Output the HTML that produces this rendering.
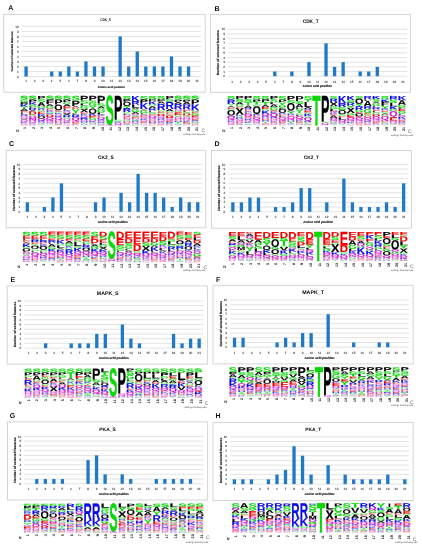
<!DOCTYPE html>
<html><head><meta charset="utf-8"><title>Kinase phosphosite figure</title>
<style>
html,body{margin:0;padding:0;background:#fff;}
body{width:422px;height:550px;overflow:hidden;}
svg{display:block;text-rendering:geometricPrecision;font-family:"Liberation Sans",Arial,sans-serif;}
.pl{font-weight:bold;fill:#111;}
.gl{stroke:#d9d9d9;stroke-width:.75;}
.bar{fill:#1f78c8;}
.tk{font-size:3.1px;fill:#222;stroke:#222;stroke-width:.05px;}
.ax{font-weight:bold;fill:#111;stroke:#111;stroke-width:.12px;}
.tt{font-weight:bold;fill:#000;}
.g,.b,.r,.m,.k{font-size:10px;font-weight:bold;stroke-width:.15px;vector-effect:non-scaling-stroke;}
.g{fill:#0ad80a;stroke:#0ad80a;}.b{fill:#0a0ae6;stroke:#0a0ae6;}.r{fill:#f20000;stroke:#f20000;}.m{fill:#d010d0;stroke:#d010d0;}.k{fill:#000;stroke:#000;}
.t{opacity:.45;stroke:none;}.s{opacity:.75;stroke:none;}
.pn{font-size:3.7px;fill:#1a1a1a;font-weight:bold;}
.nc{font-size:3.8px;font-weight:bold;fill:#111;}
.cc{font-size:5px;fill:#666;}
.wl{font-size:2.3px;fill:#444;}
</style></head>
<body><svg xmlns="http://www.w3.org/2000/svg" width="422" height="550" viewBox="0 0 422 550">
<rect width="422" height="550" fill="#fff"/>
<rect x="3.8" y="14.4" width="201.4" height="77.8" fill="#fff" stroke="#d0d0d0" stroke-width="0.9"/>
<text x="8.2" y="9.7" class="pl" style="font-size:7.0px">A</text>
<line x1="21.8" x2="201.4" y1="76.5" y2="76.5" class="gl"/>
<line x1="21.8" x2="201.4" y1="71.49" y2="71.49" class="gl"/>
<line x1="21.8" x2="201.4" y1="66.48" y2="66.48" class="gl"/>
<line x1="21.8" x2="201.4" y1="61.47" y2="61.47" class="gl"/>
<line x1="21.8" x2="201.4" y1="56.46" y2="56.46" class="gl"/>
<line x1="21.8" x2="201.4" y1="51.45" y2="51.45" class="gl"/>
<line x1="21.8" x2="201.4" y1="46.44" y2="46.44" class="gl"/>
<line x1="21.8" x2="201.4" y1="41.43" y2="41.43" class="gl"/>
<line x1="21.8" x2="201.4" y1="36.42" y2="36.42" class="gl"/>
<line x1="21.8" x2="201.4" y1="31.41" y2="31.41" class="gl"/>
<line x1="21.8" x2="201.4" y1="26.4" y2="26.4" class="gl"/>
<text x="18.8" y="77.62" class="tk" text-anchor="end">0</text>
<text x="18.8" y="72.61" class="tk" text-anchor="end">1</text>
<text x="18.8" y="67.6" class="tk" text-anchor="end">2</text>
<text x="18.8" y="62.59" class="tk" text-anchor="end">3</text>
<text x="18.8" y="57.58" class="tk" text-anchor="end">4</text>
<text x="18.8" y="52.57" class="tk" text-anchor="end">5</text>
<text x="18.8" y="47.56" class="tk" text-anchor="end">6</text>
<text x="18.8" y="42.55" class="tk" text-anchor="end">7</text>
<text x="18.8" y="37.54" class="tk" text-anchor="end">8</text>
<text x="18.8" y="32.53" class="tk" text-anchor="end">9</text>
<text x="18.8" y="27.52" class="tk" text-anchor="end">10</text>
<rect x="24.43" y="66.48" width="3.3" height="10.02" class="bar"/>
<text x="26.08" y="81.92" class="tk" text-anchor="middle">1</text>
<text x="34.63" y="81.92" class="tk" text-anchor="middle">2</text>
<text x="43.18" y="81.92" class="tk" text-anchor="middle">3</text>
<rect x="50.08" y="71.49" width="3.3" height="5.01" class="bar"/>
<text x="51.73" y="81.92" class="tk" text-anchor="middle">4</text>
<rect x="58.64" y="71.49" width="3.3" height="5.01" class="bar"/>
<text x="60.29" y="81.92" class="tk" text-anchor="middle">5</text>
<rect x="67.19" y="66.48" width="3.3" height="10.02" class="bar"/>
<text x="68.84" y="81.92" class="tk" text-anchor="middle">6</text>
<rect x="75.74" y="71.49" width="3.3" height="5.01" class="bar"/>
<text x="77.39" y="81.92" class="tk" text-anchor="middle">7</text>
<rect x="84.29" y="61.47" width="3.3" height="15.03" class="bar"/>
<text x="85.94" y="81.92" class="tk" text-anchor="middle">8</text>
<rect x="92.85" y="66.48" width="3.3" height="10.02" class="bar"/>
<text x="94.5" y="81.92" class="tk" text-anchor="middle">9</text>
<rect x="101.4" y="66.48" width="3.3" height="10.02" class="bar"/>
<text x="103.05" y="81.92" class="tk" text-anchor="middle">10</text>
<text x="111.6" y="81.92" class="tk" text-anchor="middle">11</text>
<rect x="118.5" y="36.42" width="3.3" height="40.08" class="bar"/>
<text x="120.15" y="81.92" class="tk" text-anchor="middle">12</text>
<rect x="127.05" y="66.48" width="3.3" height="10.02" class="bar"/>
<text x="128.7" y="81.92" class="tk" text-anchor="middle">13</text>
<rect x="135.61" y="51.45" width="3.3" height="25.05" class="bar"/>
<text x="137.26" y="81.92" class="tk" text-anchor="middle">14</text>
<rect x="144.16" y="66.48" width="3.3" height="10.02" class="bar"/>
<text x="145.81" y="81.92" class="tk" text-anchor="middle">15</text>
<rect x="152.71" y="66.48" width="3.3" height="10.02" class="bar"/>
<text x="154.36" y="81.92" class="tk" text-anchor="middle">16</text>
<rect x="161.26" y="66.48" width="3.3" height="10.02" class="bar"/>
<text x="162.91" y="81.92" class="tk" text-anchor="middle">17</text>
<rect x="169.82" y="56.46" width="3.3" height="20.04" class="bar"/>
<text x="171.47" y="81.92" class="tk" text-anchor="middle">18</text>
<rect x="178.37" y="66.48" width="3.3" height="10.02" class="bar"/>
<text x="180.02" y="81.92" class="tk" text-anchor="middle">19</text>
<rect x="186.92" y="66.48" width="3.3" height="10.02" class="bar"/>
<text x="188.57" y="81.92" class="tk" text-anchor="middle">20</text>
<text x="197.12" y="81.92" class="tk" text-anchor="middle">21</text>
<text x="111.45" y="87.51" class="ax" text-anchor="middle" style="font-size:2.8px" textLength="27.2" lengthAdjust="spacingAndGlyphs">Amino acid position</text>
<text transform="translate(13.18,51.45) rotate(-90)" class="ax" text-anchor="middle" style="font-size:3.0px" textLength="40.0" lengthAdjust="spacingAndGlyphs">Number of selected features</text>
<text x="100.3" y="21" class="tt" style="font-size:3.7px" textLength="10.4" lengthAdjust="spacingAndGlyphs">CDK_S</text>
<rect x="210.4" y="14.4" width="200" height="77.9" fill="#fff" stroke="#d0d0d0" stroke-width="0.9"/>
<text x="214.5" y="10.6" class="pl" style="font-size:7.0px">B</text>
<line x1="227.8" x2="407.2" y1="76.2" y2="76.2" class="gl"/>
<line x1="227.8" x2="407.2" y1="71.51" y2="71.51" class="gl"/>
<line x1="227.8" x2="407.2" y1="66.82" y2="66.82" class="gl"/>
<line x1="227.8" x2="407.2" y1="62.13" y2="62.13" class="gl"/>
<line x1="227.8" x2="407.2" y1="57.44" y2="57.44" class="gl"/>
<line x1="227.8" x2="407.2" y1="52.75" y2="52.75" class="gl"/>
<line x1="227.8" x2="407.2" y1="48.06" y2="48.06" class="gl"/>
<line x1="227.8" x2="407.2" y1="43.37" y2="43.37" class="gl"/>
<line x1="227.8" x2="407.2" y1="38.68" y2="38.68" class="gl"/>
<line x1="227.8" x2="407.2" y1="33.99" y2="33.99" class="gl"/>
<line x1="227.8" x2="407.2" y1="29.3" y2="29.3" class="gl"/>
<text x="225" y="77.32" class="tk" text-anchor="end">0</text>
<text x="225" y="72.63" class="tk" text-anchor="end">1</text>
<text x="225" y="67.94" class="tk" text-anchor="end">2</text>
<text x="225" y="63.25" class="tk" text-anchor="end">3</text>
<text x="225" y="58.56" class="tk" text-anchor="end">4</text>
<text x="225" y="53.87" class="tk" text-anchor="end">5</text>
<text x="225" y="49.18" class="tk" text-anchor="end">6</text>
<text x="225" y="44.49" class="tk" text-anchor="end">7</text>
<text x="225" y="39.8" class="tk" text-anchor="end">8</text>
<text x="225" y="35.11" class="tk" text-anchor="end">9</text>
<text x="225" y="30.42" class="tk" text-anchor="end">10</text>
<text x="232.07" y="82.52" class="tk" text-anchor="middle">1</text>
<text x="240.61" y="82.52" class="tk" text-anchor="middle">2</text>
<text x="249.16" y="82.52" class="tk" text-anchor="middle">3</text>
<text x="257.7" y="82.52" class="tk" text-anchor="middle">4</text>
<text x="266.24" y="82.52" class="tk" text-anchor="middle">5</text>
<rect x="273.14" y="71.51" width="3.3" height="4.69" class="bar"/>
<text x="274.79" y="82.52" class="tk" text-anchor="middle">6</text>
<text x="283.33" y="82.52" class="tk" text-anchor="middle">7</text>
<rect x="290.22" y="71.51" width="3.3" height="4.69" class="bar"/>
<text x="291.87" y="82.52" class="tk" text-anchor="middle">8</text>
<text x="300.41" y="82.52" class="tk" text-anchor="middle">9</text>
<rect x="307.31" y="62.13" width="3.3" height="14.07" class="bar"/>
<text x="308.96" y="82.52" class="tk" text-anchor="middle">10</text>
<text x="317.5" y="82.52" class="tk" text-anchor="middle">11</text>
<rect x="324.39" y="43.37" width="3.3" height="32.83" class="bar"/>
<text x="326.04" y="82.52" class="tk" text-anchor="middle">12</text>
<rect x="332.94" y="66.82" width="3.3" height="9.38" class="bar"/>
<text x="334.59" y="82.52" class="tk" text-anchor="middle">13</text>
<rect x="341.48" y="62.13" width="3.3" height="14.07" class="bar"/>
<text x="343.13" y="82.52" class="tk" text-anchor="middle">14</text>
<text x="351.67" y="82.52" class="tk" text-anchor="middle">15</text>
<rect x="358.56" y="71.51" width="3.3" height="4.69" class="bar"/>
<text x="360.21" y="82.52" class="tk" text-anchor="middle">16</text>
<rect x="367.11" y="71.51" width="3.3" height="4.69" class="bar"/>
<text x="368.76" y="82.52" class="tk" text-anchor="middle">17</text>
<rect x="375.65" y="66.82" width="3.3" height="9.38" class="bar"/>
<text x="377.3" y="82.52" class="tk" text-anchor="middle">18</text>
<text x="385.84" y="82.52" class="tk" text-anchor="middle">19</text>
<text x="394.39" y="82.52" class="tk" text-anchor="middle">20</text>
<text x="402.93" y="82.52" class="tk" text-anchor="middle">21</text>
<text x="317.25" y="87.18" class="ax" text-anchor="middle" style="font-size:3.0px" textLength="29.4" lengthAdjust="spacingAndGlyphs">Amino acid position</text>
<text transform="translate(219.19,52.75) rotate(-90)" class="ax" text-anchor="middle" style="font-size:3.3px" textLength="45.0" lengthAdjust="spacingAndGlyphs">Number of selected features</text>
<text x="302.7" y="23.2" class="tt" style="font-size:5.0px" textLength="15.9" lengthAdjust="spacingAndGlyphs">CDK_T</text>
<rect x="6.2" y="150.3" width="199.6" height="77.5" fill="#fff" stroke="#d0d0d0" stroke-width="0.9"/>
<text x="9" y="146.4" class="pl" style="font-size:7.0px">C</text>
<line x1="23.1" x2="202" y1="211.7" y2="211.7" class="gl"/>
<line x1="23.1" x2="202" y1="206.98" y2="206.98" class="gl"/>
<line x1="23.1" x2="202" y1="202.26" y2="202.26" class="gl"/>
<line x1="23.1" x2="202" y1="197.54" y2="197.54" class="gl"/>
<line x1="23.1" x2="202" y1="192.82" y2="192.82" class="gl"/>
<line x1="23.1" x2="202" y1="188.1" y2="188.1" class="gl"/>
<line x1="23.1" x2="202" y1="183.38" y2="183.38" class="gl"/>
<line x1="23.1" x2="202" y1="178.66" y2="178.66" class="gl"/>
<line x1="23.1" x2="202" y1="173.94" y2="173.94" class="gl"/>
<line x1="23.1" x2="202" y1="169.22" y2="169.22" class="gl"/>
<line x1="23.1" x2="202" y1="164.5" y2="164.5" class="gl"/>
<text x="20.3" y="212.82" class="tk" text-anchor="end">0</text>
<text x="20.3" y="208.1" class="tk" text-anchor="end">1</text>
<text x="20.3" y="203.38" class="tk" text-anchor="end">2</text>
<text x="20.3" y="198.66" class="tk" text-anchor="end">3</text>
<text x="20.3" y="193.94" class="tk" text-anchor="end">4</text>
<text x="20.3" y="189.22" class="tk" text-anchor="end">5</text>
<text x="20.3" y="184.5" class="tk" text-anchor="end">6</text>
<text x="20.3" y="179.78" class="tk" text-anchor="end">7</text>
<text x="20.3" y="175.06" class="tk" text-anchor="end">8</text>
<text x="20.3" y="170.34" class="tk" text-anchor="end">9</text>
<text x="20.3" y="165.62" class="tk" text-anchor="end">10</text>
<rect x="25.71" y="202.26" width="3.3" height="9.44" class="bar"/>
<text x="27.36" y="217.92" class="tk" text-anchor="middle">1</text>
<text x="35.88" y="217.92" class="tk" text-anchor="middle">2</text>
<rect x="42.75" y="206.98" width="3.3" height="4.72" class="bar"/>
<text x="44.4" y="217.92" class="tk" text-anchor="middle">3</text>
<rect x="51.27" y="197.54" width="3.3" height="14.16" class="bar"/>
<text x="52.92" y="217.92" class="tk" text-anchor="middle">4</text>
<rect x="59.79" y="183.38" width="3.3" height="28.32" class="bar"/>
<text x="61.44" y="217.92" class="tk" text-anchor="middle">5</text>
<text x="69.95" y="217.92" class="tk" text-anchor="middle">6</text>
<text x="78.47" y="217.92" class="tk" text-anchor="middle">7</text>
<text x="86.99" y="217.92" class="tk" text-anchor="middle">8</text>
<rect x="93.86" y="202.26" width="3.3" height="9.44" class="bar"/>
<text x="95.51" y="217.92" class="tk" text-anchor="middle">9</text>
<rect x="102.38" y="197.54" width="3.3" height="14.16" class="bar"/>
<text x="104.03" y="217.92" class="tk" text-anchor="middle">10</text>
<text x="112.55" y="217.92" class="tk" text-anchor="middle">11</text>
<rect x="119.42" y="192.82" width="3.3" height="18.88" class="bar"/>
<text x="121.07" y="217.92" class="tk" text-anchor="middle">12</text>
<rect x="127.94" y="202.26" width="3.3" height="9.44" class="bar"/>
<text x="129.59" y="217.92" class="tk" text-anchor="middle">13</text>
<rect x="136.46" y="173.94" width="3.3" height="37.76" class="bar"/>
<text x="138.11" y="217.92" class="tk" text-anchor="middle">14</text>
<rect x="144.98" y="192.82" width="3.3" height="18.88" class="bar"/>
<text x="146.63" y="217.92" class="tk" text-anchor="middle">15</text>
<rect x="153.5" y="192.82" width="3.3" height="18.88" class="bar"/>
<text x="155.15" y="217.92" class="tk" text-anchor="middle">16</text>
<rect x="162.01" y="197.54" width="3.3" height="14.16" class="bar"/>
<text x="163.66" y="217.92" class="tk" text-anchor="middle">17</text>
<rect x="170.53" y="206.98" width="3.3" height="4.72" class="bar"/>
<text x="172.18" y="217.92" class="tk" text-anchor="middle">18</text>
<rect x="179.05" y="197.54" width="3.3" height="14.16" class="bar"/>
<text x="180.7" y="217.92" class="tk" text-anchor="middle">19</text>
<rect x="187.57" y="202.26" width="3.3" height="9.44" class="bar"/>
<text x="189.22" y="217.92" class="tk" text-anchor="middle">20</text>
<rect x="196.09" y="202.26" width="3.3" height="9.44" class="bar"/>
<text x="197.74" y="217.92" class="tk" text-anchor="middle">21</text>
<text x="112.7" y="222.78" class="ax" text-anchor="middle" style="font-size:3.0px" textLength="29.8" lengthAdjust="spacingAndGlyphs">Amino acid position</text>
<text transform="translate(14.59,188.1) rotate(-90)" class="ax" text-anchor="middle" style="font-size:3.3px" textLength="45.5" lengthAdjust="spacingAndGlyphs">Number of selected features</text>
<text x="98.1" y="158.7" class="tt" style="font-size:4.9px" textLength="15.5" lengthAdjust="spacingAndGlyphs">CK2_S</text>
<rect x="211.4" y="150.6" width="200" height="77.6" fill="#fff" stroke="#d0d0d0" stroke-width="0.9"/>
<text x="214.5" y="145.8" class="pl" style="font-size:7.0px">D</text>
<line x1="228.6" x2="407.9" y1="211.8" y2="211.8" class="gl"/>
<line x1="228.6" x2="407.9" y1="207.06" y2="207.06" class="gl"/>
<line x1="228.6" x2="407.9" y1="202.32" y2="202.32" class="gl"/>
<line x1="228.6" x2="407.9" y1="197.58" y2="197.58" class="gl"/>
<line x1="228.6" x2="407.9" y1="192.84" y2="192.84" class="gl"/>
<line x1="228.6" x2="407.9" y1="188.1" y2="188.1" class="gl"/>
<line x1="228.6" x2="407.9" y1="183.36" y2="183.36" class="gl"/>
<line x1="228.6" x2="407.9" y1="178.62" y2="178.62" class="gl"/>
<line x1="228.6" x2="407.9" y1="173.88" y2="173.88" class="gl"/>
<line x1="228.6" x2="407.9" y1="169.14" y2="169.14" class="gl"/>
<line x1="228.6" x2="407.9" y1="164.4" y2="164.4" class="gl"/>
<text x="225.3" y="212.92" class="tk" text-anchor="end">0</text>
<text x="225.3" y="208.18" class="tk" text-anchor="end">1</text>
<text x="225.3" y="203.44" class="tk" text-anchor="end">2</text>
<text x="225.3" y="198.7" class="tk" text-anchor="end">3</text>
<text x="225.3" y="193.96" class="tk" text-anchor="end">4</text>
<text x="225.3" y="189.22" class="tk" text-anchor="end">5</text>
<text x="225.3" y="184.48" class="tk" text-anchor="end">6</text>
<text x="225.3" y="179.74" class="tk" text-anchor="end">7</text>
<text x="225.3" y="175" class="tk" text-anchor="end">8</text>
<text x="225.3" y="170.26" class="tk" text-anchor="end">9</text>
<text x="225.3" y="165.52" class="tk" text-anchor="end">10</text>
<rect x="231.22" y="202.32" width="3.3" height="9.48" class="bar"/>
<text x="232.87" y="217.82" class="tk" text-anchor="middle">1</text>
<rect x="239.76" y="202.32" width="3.3" height="9.48" class="bar"/>
<text x="241.41" y="217.82" class="tk" text-anchor="middle">2</text>
<rect x="248.3" y="197.58" width="3.3" height="14.22" class="bar"/>
<text x="249.95" y="217.82" class="tk" text-anchor="middle">3</text>
<rect x="256.83" y="197.58" width="3.3" height="14.22" class="bar"/>
<text x="258.48" y="217.82" class="tk" text-anchor="middle">4</text>
<text x="267.02" y="217.82" class="tk" text-anchor="middle">5</text>
<rect x="273.91" y="207.06" width="3.3" height="4.74" class="bar"/>
<text x="275.56" y="217.82" class="tk" text-anchor="middle">6</text>
<rect x="282.45" y="207.06" width="3.3" height="4.74" class="bar"/>
<text x="284.1" y="217.82" class="tk" text-anchor="middle">7</text>
<rect x="290.99" y="202.32" width="3.3" height="9.48" class="bar"/>
<text x="292.64" y="217.82" class="tk" text-anchor="middle">8</text>
<rect x="299.52" y="188.1" width="3.3" height="23.7" class="bar"/>
<text x="301.17" y="217.82" class="tk" text-anchor="middle">9</text>
<rect x="308.06" y="188.1" width="3.3" height="23.7" class="bar"/>
<text x="309.71" y="217.82" class="tk" text-anchor="middle">10</text>
<text x="318.25" y="217.82" class="tk" text-anchor="middle">11</text>
<rect x="325.14" y="202.32" width="3.3" height="9.48" class="bar"/>
<text x="326.79" y="217.82" class="tk" text-anchor="middle">12</text>
<text x="335.33" y="217.82" class="tk" text-anchor="middle">13</text>
<rect x="342.21" y="178.62" width="3.3" height="33.18" class="bar"/>
<text x="343.86" y="217.82" class="tk" text-anchor="middle">14</text>
<rect x="350.75" y="202.32" width="3.3" height="9.48" class="bar"/>
<text x="352.4" y="217.82" class="tk" text-anchor="middle">15</text>
<rect x="359.29" y="207.06" width="3.3" height="4.74" class="bar"/>
<text x="360.94" y="217.82" class="tk" text-anchor="middle">16</text>
<rect x="367.83" y="207.06" width="3.3" height="4.74" class="bar"/>
<text x="369.48" y="217.82" class="tk" text-anchor="middle">17</text>
<rect x="376.37" y="207.06" width="3.3" height="4.74" class="bar"/>
<text x="378.02" y="217.82" class="tk" text-anchor="middle">18</text>
<rect x="384.9" y="202.32" width="3.3" height="9.48" class="bar"/>
<text x="386.55" y="217.82" class="tk" text-anchor="middle">19</text>
<rect x="393.44" y="207.06" width="3.3" height="4.74" class="bar"/>
<text x="395.09" y="217.82" class="tk" text-anchor="middle">20</text>
<rect x="401.98" y="183.36" width="3.3" height="28.44" class="bar"/>
<text x="403.63" y="217.82" class="tk" text-anchor="middle">21</text>
<text x="318.3" y="222.78" class="ax" text-anchor="middle" style="font-size:3.0px" textLength="30.0" lengthAdjust="spacingAndGlyphs">Amino acid position</text>
<text transform="translate(219.89,188.1) rotate(-90)" class="ax" text-anchor="middle" style="font-size:3.3px" textLength="45.5" lengthAdjust="spacingAndGlyphs">Number of selected features</text>
<text x="303.8" y="158.7" class="tt" style="font-size:4.9px" textLength="15.1" lengthAdjust="spacingAndGlyphs">CK2_T</text>
<rect x="7.2" y="285.9" width="200.2" height="78.2" fill="#fff" stroke="#d0d0d0" stroke-width="0.9"/>
<text x="10.5" y="282" class="pl" style="font-size:7.0px">E</text>
<line x1="24.3" x2="203.4" y1="348.1" y2="348.1" class="gl"/>
<line x1="24.3" x2="203.4" y1="343.38" y2="343.38" class="gl"/>
<line x1="24.3" x2="203.4" y1="338.66" y2="338.66" class="gl"/>
<line x1="24.3" x2="203.4" y1="333.94" y2="333.94" class="gl"/>
<line x1="24.3" x2="203.4" y1="329.22" y2="329.22" class="gl"/>
<line x1="24.3" x2="203.4" y1="324.5" y2="324.5" class="gl"/>
<line x1="24.3" x2="203.4" y1="319.78" y2="319.78" class="gl"/>
<line x1="24.3" x2="203.4" y1="315.06" y2="315.06" class="gl"/>
<line x1="24.3" x2="203.4" y1="310.34" y2="310.34" class="gl"/>
<line x1="24.3" x2="203.4" y1="305.62" y2="305.62" class="gl"/>
<line x1="24.3" x2="203.4" y1="300.9" y2="300.9" class="gl"/>
<text x="21.3" y="349.22" class="tk" text-anchor="end">0</text>
<text x="21.3" y="344.5" class="tk" text-anchor="end">1</text>
<text x="21.3" y="339.78" class="tk" text-anchor="end">2</text>
<text x="21.3" y="335.06" class="tk" text-anchor="end">3</text>
<text x="21.3" y="330.34" class="tk" text-anchor="end">4</text>
<text x="21.3" y="325.62" class="tk" text-anchor="end">5</text>
<text x="21.3" y="320.9" class="tk" text-anchor="end">6</text>
<text x="21.3" y="316.18" class="tk" text-anchor="end">7</text>
<text x="21.3" y="311.46" class="tk" text-anchor="end">8</text>
<text x="21.3" y="306.74" class="tk" text-anchor="end">9</text>
<text x="21.3" y="302.02" class="tk" text-anchor="end">10</text>
<text x="28.56" y="354.12" class="tk" text-anchor="middle">1</text>
<text x="37.09" y="354.12" class="tk" text-anchor="middle">2</text>
<rect x="43.97" y="343.38" width="3.3" height="4.72" class="bar"/>
<text x="45.62" y="354.12" class="tk" text-anchor="middle">3</text>
<text x="54.15" y="354.12" class="tk" text-anchor="middle">4</text>
<text x="62.68" y="354.12" class="tk" text-anchor="middle">5</text>
<rect x="69.56" y="343.38" width="3.3" height="4.72" class="bar"/>
<text x="71.21" y="354.12" class="tk" text-anchor="middle">6</text>
<rect x="78.09" y="343.38" width="3.3" height="4.72" class="bar"/>
<text x="79.74" y="354.12" class="tk" text-anchor="middle">7</text>
<rect x="86.61" y="343.38" width="3.3" height="4.72" class="bar"/>
<text x="88.26" y="354.12" class="tk" text-anchor="middle">8</text>
<rect x="95.14" y="333.94" width="3.3" height="14.16" class="bar"/>
<text x="96.79" y="354.12" class="tk" text-anchor="middle">9</text>
<rect x="103.67" y="333.94" width="3.3" height="14.16" class="bar"/>
<text x="105.32" y="354.12" class="tk" text-anchor="middle">10</text>
<text x="113.85" y="354.12" class="tk" text-anchor="middle">11</text>
<rect x="120.73" y="324.5" width="3.3" height="23.6" class="bar"/>
<text x="122.38" y="354.12" class="tk" text-anchor="middle">12</text>
<rect x="129.26" y="338.66" width="3.3" height="9.44" class="bar"/>
<text x="130.91" y="354.12" class="tk" text-anchor="middle">13</text>
<rect x="137.79" y="343.38" width="3.3" height="4.72" class="bar"/>
<text x="139.44" y="354.12" class="tk" text-anchor="middle">14</text>
<text x="147.96" y="354.12" class="tk" text-anchor="middle">15</text>
<text x="156.49" y="354.12" class="tk" text-anchor="middle">16</text>
<text x="165.02" y="354.12" class="tk" text-anchor="middle">17</text>
<rect x="171.9" y="333.94" width="3.3" height="14.16" class="bar"/>
<text x="173.55" y="354.12" class="tk" text-anchor="middle">18</text>
<rect x="180.43" y="343.38" width="3.3" height="4.72" class="bar"/>
<text x="182.08" y="354.12" class="tk" text-anchor="middle">19</text>
<rect x="188.96" y="338.66" width="3.3" height="9.44" class="bar"/>
<text x="190.61" y="354.12" class="tk" text-anchor="middle">20</text>
<rect x="197.49" y="338.66" width="3.3" height="9.44" class="bar"/>
<text x="199.14" y="354.12" class="tk" text-anchor="middle">21</text>
<text x="113.8" y="359.28" class="ax" text-anchor="middle" style="font-size:3.0px" textLength="30.0" lengthAdjust="spacingAndGlyphs">Amino acid position</text>
<text transform="translate(15.89,324.5) rotate(-90)" class="ax" text-anchor="middle" style="font-size:3.3px" textLength="45.5" lengthAdjust="spacingAndGlyphs">Number of selected features</text>
<text x="96.8" y="294.9" class="tt" style="font-size:5.2px" textLength="21.8" lengthAdjust="spacingAndGlyphs">MAPK_S</text>
<rect x="213" y="285.3" width="200.2" height="78.6" fill="#fff" stroke="#d0d0d0" stroke-width="0.9"/>
<text x="216" y="281.6" class="pl" style="font-size:7.0px">F</text>
<line x1="230.3" x2="409" y1="347.2" y2="347.2" class="gl"/>
<line x1="230.3" x2="409" y1="342.49" y2="342.49" class="gl"/>
<line x1="230.3" x2="409" y1="337.78" y2="337.78" class="gl"/>
<line x1="230.3" x2="409" y1="333.07" y2="333.07" class="gl"/>
<line x1="230.3" x2="409" y1="328.36" y2="328.36" class="gl"/>
<line x1="230.3" x2="409" y1="323.65" y2="323.65" class="gl"/>
<line x1="230.3" x2="409" y1="318.94" y2="318.94" class="gl"/>
<line x1="230.3" x2="409" y1="314.23" y2="314.23" class="gl"/>
<line x1="230.3" x2="409" y1="309.52" y2="309.52" class="gl"/>
<line x1="230.3" x2="409" y1="304.81" y2="304.81" class="gl"/>
<line x1="230.3" x2="409" y1="300.1" y2="300.1" class="gl"/>
<text x="227.1" y="348.32" class="tk" text-anchor="end">0</text>
<text x="227.1" y="343.61" class="tk" text-anchor="end">1</text>
<text x="227.1" y="338.9" class="tk" text-anchor="end">2</text>
<text x="227.1" y="334.19" class="tk" text-anchor="end">3</text>
<text x="227.1" y="329.48" class="tk" text-anchor="end">4</text>
<text x="227.1" y="324.77" class="tk" text-anchor="end">5</text>
<text x="227.1" y="320.06" class="tk" text-anchor="end">6</text>
<text x="227.1" y="315.35" class="tk" text-anchor="end">7</text>
<text x="227.1" y="310.64" class="tk" text-anchor="end">8</text>
<text x="227.1" y="305.93" class="tk" text-anchor="end">9</text>
<text x="227.1" y="301.22" class="tk" text-anchor="end">10</text>
<rect x="232.9" y="337.78" width="3.3" height="9.42" class="bar"/>
<text x="234.55" y="353.62" class="tk" text-anchor="middle">1</text>
<rect x="241.41" y="337.78" width="3.3" height="9.42" class="bar"/>
<text x="243.06" y="353.62" class="tk" text-anchor="middle">2</text>
<text x="251.57" y="353.62" class="tk" text-anchor="middle">3</text>
<text x="260.08" y="353.62" class="tk" text-anchor="middle">4</text>
<text x="268.59" y="353.62" class="tk" text-anchor="middle">5</text>
<rect x="275.45" y="342.49" width="3.3" height="4.71" class="bar"/>
<text x="277.1" y="353.62" class="tk" text-anchor="middle">6</text>
<rect x="283.96" y="337.78" width="3.3" height="9.42" class="bar"/>
<text x="285.61" y="353.62" class="tk" text-anchor="middle">7</text>
<rect x="292.47" y="342.49" width="3.3" height="4.71" class="bar"/>
<text x="294.12" y="353.62" class="tk" text-anchor="middle">8</text>
<rect x="300.98" y="333.07" width="3.3" height="14.13" class="bar"/>
<text x="302.63" y="353.62" class="tk" text-anchor="middle">9</text>
<rect x="309.49" y="333.07" width="3.3" height="14.13" class="bar"/>
<text x="311.14" y="353.62" class="tk" text-anchor="middle">10</text>
<text x="319.65" y="353.62" class="tk" text-anchor="middle">11</text>
<rect x="326.51" y="314.23" width="3.3" height="32.97" class="bar"/>
<text x="328.16" y="353.62" class="tk" text-anchor="middle">12</text>
<text x="336.67" y="353.62" class="tk" text-anchor="middle">13</text>
<text x="345.18" y="353.62" class="tk" text-anchor="middle">14</text>
<rect x="352.04" y="342.49" width="3.3" height="4.71" class="bar"/>
<text x="353.69" y="353.62" class="tk" text-anchor="middle">15</text>
<text x="362.2" y="353.62" class="tk" text-anchor="middle">16</text>
<text x="370.71" y="353.62" class="tk" text-anchor="middle">17</text>
<rect x="377.57" y="342.49" width="3.3" height="4.71" class="bar"/>
<text x="379.22" y="353.62" class="tk" text-anchor="middle">18</text>
<rect x="386.08" y="342.49" width="3.3" height="4.71" class="bar"/>
<text x="387.73" y="353.62" class="tk" text-anchor="middle">19</text>
<text x="396.24" y="353.62" class="tk" text-anchor="middle">20</text>
<text x="404.75" y="353.62" class="tk" text-anchor="middle">21</text>
<text x="319.5" y="358.58" class="ax" text-anchor="middle" style="font-size:3.0px" textLength="30.0" lengthAdjust="spacingAndGlyphs">Amino acid position</text>
<text transform="translate(221.69,323.65) rotate(-90)" class="ax" text-anchor="middle" style="font-size:3.3px" textLength="45.5" lengthAdjust="spacingAndGlyphs">Number of selected features</text>
<text x="302.2" y="294" class="tt" style="font-size:5.2px" textLength="21.8" lengthAdjust="spacingAndGlyphs">MAPK_T</text>
<rect x="7.5" y="421.9" width="200.1" height="78.1" fill="#fff" stroke="#d0d0d0" stroke-width="0.9"/>
<text x="9.8" y="417.6" class="pl" style="font-size:7.0px">G</text>
<line x1="24" x2="203.3" y1="483.8" y2="483.8" class="gl"/>
<line x1="24" x2="203.3" y1="479.06" y2="479.06" class="gl"/>
<line x1="24" x2="203.3" y1="474.32" y2="474.32" class="gl"/>
<line x1="24" x2="203.3" y1="469.58" y2="469.58" class="gl"/>
<line x1="24" x2="203.3" y1="464.84" y2="464.84" class="gl"/>
<line x1="24" x2="203.3" y1="460.1" y2="460.1" class="gl"/>
<line x1="24" x2="203.3" y1="455.36" y2="455.36" class="gl"/>
<line x1="24" x2="203.3" y1="450.62" y2="450.62" class="gl"/>
<line x1="24" x2="203.3" y1="445.88" y2="445.88" class="gl"/>
<line x1="24" x2="203.3" y1="441.14" y2="441.14" class="gl"/>
<line x1="24" x2="203.3" y1="436.4" y2="436.4" class="gl"/>
<text x="21.3" y="484.92" class="tk" text-anchor="end">0</text>
<text x="21.3" y="480.18" class="tk" text-anchor="end">1</text>
<text x="21.3" y="475.44" class="tk" text-anchor="end">2</text>
<text x="21.3" y="470.7" class="tk" text-anchor="end">3</text>
<text x="21.3" y="465.96" class="tk" text-anchor="end">4</text>
<text x="21.3" y="461.22" class="tk" text-anchor="end">5</text>
<text x="21.3" y="456.48" class="tk" text-anchor="end">6</text>
<text x="21.3" y="451.74" class="tk" text-anchor="end">7</text>
<text x="21.3" y="447" class="tk" text-anchor="end">8</text>
<text x="21.3" y="442.26" class="tk" text-anchor="end">9</text>
<text x="21.3" y="437.52" class="tk" text-anchor="end">10</text>
<text x="28.27" y="490.12" class="tk" text-anchor="middle">1</text>
<rect x="35.16" y="479.06" width="3.3" height="4.74" class="bar"/>
<text x="36.81" y="490.12" class="tk" text-anchor="middle">2</text>
<rect x="43.7" y="479.06" width="3.3" height="4.74" class="bar"/>
<text x="45.35" y="490.12" class="tk" text-anchor="middle">3</text>
<rect x="52.23" y="479.06" width="3.3" height="4.74" class="bar"/>
<text x="53.88" y="490.12" class="tk" text-anchor="middle">4</text>
<rect x="60.77" y="479.06" width="3.3" height="4.74" class="bar"/>
<text x="62.42" y="490.12" class="tk" text-anchor="middle">5</text>
<text x="70.96" y="490.12" class="tk" text-anchor="middle">6</text>
<text x="79.5" y="490.12" class="tk" text-anchor="middle">7</text>
<rect x="86.39" y="460.1" width="3.3" height="23.7" class="bar"/>
<text x="88.04" y="490.12" class="tk" text-anchor="middle">8</text>
<rect x="94.92" y="455.36" width="3.3" height="28.44" class="bar"/>
<text x="96.57" y="490.12" class="tk" text-anchor="middle">9</text>
<rect x="103.46" y="474.32" width="3.3" height="9.48" class="bar"/>
<text x="105.11" y="490.12" class="tk" text-anchor="middle">10</text>
<text x="113.65" y="490.12" class="tk" text-anchor="middle">11</text>
<rect x="120.54" y="474.32" width="3.3" height="9.48" class="bar"/>
<text x="122.19" y="490.12" class="tk" text-anchor="middle">12</text>
<rect x="129.08" y="479.06" width="3.3" height="4.74" class="bar"/>
<text x="130.73" y="490.12" class="tk" text-anchor="middle">13</text>
<text x="139.26" y="490.12" class="tk" text-anchor="middle">14</text>
<text x="147.8" y="490.12" class="tk" text-anchor="middle">15</text>
<rect x="154.69" y="479.06" width="3.3" height="4.74" class="bar"/>
<text x="156.34" y="490.12" class="tk" text-anchor="middle">16</text>
<rect x="163.23" y="479.06" width="3.3" height="4.74" class="bar"/>
<text x="164.88" y="490.12" class="tk" text-anchor="middle">17</text>
<rect x="171.77" y="479.06" width="3.3" height="4.74" class="bar"/>
<text x="173.42" y="490.12" class="tk" text-anchor="middle">18</text>
<rect x="180.3" y="479.06" width="3.3" height="4.74" class="bar"/>
<text x="181.95" y="490.12" class="tk" text-anchor="middle">19</text>
<rect x="188.84" y="479.06" width="3.3" height="4.74" class="bar"/>
<text x="190.49" y="490.12" class="tk" text-anchor="middle">20</text>
<text x="199.03" y="490.12" class="tk" text-anchor="middle">21</text>
<text x="113.8" y="494.78" class="ax" text-anchor="middle" style="font-size:3.0px" textLength="30.0" lengthAdjust="spacingAndGlyphs">Amino acid position</text>
<text transform="translate(15.69,460.1) rotate(-90)" class="ax" text-anchor="middle" style="font-size:3.3px" textLength="45.5" lengthAdjust="spacingAndGlyphs">Number of selected features</text>
<text x="99.3" y="430.6" class="tt" style="font-size:4.9px" textLength="16.5" lengthAdjust="spacingAndGlyphs">PKA_S</text>
<rect x="213" y="422.6" width="200.2" height="78" fill="#fff" stroke="#d0d0d0" stroke-width="0.9"/>
<text x="215.5" y="418" class="pl" style="font-size:7.0px">H</text>
<line x1="230.1" x2="409.1" y1="484.1" y2="484.1" class="gl"/>
<line x1="230.1" x2="409.1" y1="479.37" y2="479.37" class="gl"/>
<line x1="230.1" x2="409.1" y1="474.64" y2="474.64" class="gl"/>
<line x1="230.1" x2="409.1" y1="469.91" y2="469.91" class="gl"/>
<line x1="230.1" x2="409.1" y1="465.18" y2="465.18" class="gl"/>
<line x1="230.1" x2="409.1" y1="460.45" y2="460.45" class="gl"/>
<line x1="230.1" x2="409.1" y1="455.72" y2="455.72" class="gl"/>
<line x1="230.1" x2="409.1" y1="450.99" y2="450.99" class="gl"/>
<line x1="230.1" x2="409.1" y1="446.26" y2="446.26" class="gl"/>
<line x1="230.1" x2="409.1" y1="441.53" y2="441.53" class="gl"/>
<line x1="230.1" x2="409.1" y1="436.8" y2="436.8" class="gl"/>
<text x="227.1" y="485.22" class="tk" text-anchor="end">0</text>
<text x="227.1" y="480.49" class="tk" text-anchor="end">1</text>
<text x="227.1" y="475.76" class="tk" text-anchor="end">2</text>
<text x="227.1" y="471.03" class="tk" text-anchor="end">3</text>
<text x="227.1" y="466.3" class="tk" text-anchor="end">4</text>
<text x="227.1" y="461.57" class="tk" text-anchor="end">5</text>
<text x="227.1" y="456.84" class="tk" text-anchor="end">6</text>
<text x="227.1" y="452.11" class="tk" text-anchor="end">7</text>
<text x="227.1" y="447.38" class="tk" text-anchor="end">8</text>
<text x="227.1" y="442.65" class="tk" text-anchor="end">9</text>
<text x="227.1" y="437.92" class="tk" text-anchor="end">10</text>
<rect x="232.71" y="479.37" width="3.3" height="4.73" class="bar"/>
<text x="234.36" y="490.12" class="tk" text-anchor="middle">1</text>
<rect x="241.24" y="479.37" width="3.3" height="4.73" class="bar"/>
<text x="242.89" y="490.12" class="tk" text-anchor="middle">2</text>
<rect x="249.76" y="479.37" width="3.3" height="4.73" class="bar"/>
<text x="251.41" y="490.12" class="tk" text-anchor="middle">3</text>
<text x="259.93" y="490.12" class="tk" text-anchor="middle">4</text>
<rect x="266.81" y="479.37" width="3.3" height="4.73" class="bar"/>
<text x="268.46" y="490.12" class="tk" text-anchor="middle">5</text>
<rect x="275.33" y="474.64" width="3.3" height="9.46" class="bar"/>
<text x="276.98" y="490.12" class="tk" text-anchor="middle">6</text>
<rect x="283.85" y="469.91" width="3.3" height="14.19" class="bar"/>
<text x="285.5" y="490.12" class="tk" text-anchor="middle">7</text>
<rect x="292.38" y="446.26" width="3.3" height="37.84" class="bar"/>
<text x="294.03" y="490.12" class="tk" text-anchor="middle">8</text>
<rect x="300.9" y="455.72" width="3.3" height="28.38" class="bar"/>
<text x="302.55" y="490.12" class="tk" text-anchor="middle">9</text>
<rect x="309.43" y="474.64" width="3.3" height="9.46" class="bar"/>
<text x="311.08" y="490.12" class="tk" text-anchor="middle">10</text>
<text x="319.6" y="490.12" class="tk" text-anchor="middle">11</text>
<rect x="326.47" y="465.18" width="3.3" height="18.92" class="bar"/>
<text x="328.12" y="490.12" class="tk" text-anchor="middle">12</text>
<text x="336.65" y="490.12" class="tk" text-anchor="middle">13</text>
<rect x="343.52" y="474.64" width="3.3" height="9.46" class="bar"/>
<text x="345.17" y="490.12" class="tk" text-anchor="middle">14</text>
<rect x="352.05" y="479.37" width="3.3" height="4.73" class="bar"/>
<text x="353.7" y="490.12" class="tk" text-anchor="middle">15</text>
<rect x="360.57" y="479.37" width="3.3" height="4.73" class="bar"/>
<text x="362.22" y="490.12" class="tk" text-anchor="middle">16</text>
<rect x="369.09" y="479.37" width="3.3" height="4.73" class="bar"/>
<text x="370.74" y="490.12" class="tk" text-anchor="middle">17</text>
<rect x="377.62" y="479.37" width="3.3" height="4.73" class="bar"/>
<text x="379.27" y="490.12" class="tk" text-anchor="middle">18</text>
<rect x="386.14" y="474.64" width="3.3" height="9.46" class="bar"/>
<text x="387.79" y="490.12" class="tk" text-anchor="middle">19</text>
<text x="396.31" y="490.12" class="tk" text-anchor="middle">20</text>
<rect x="403.19" y="479.37" width="3.3" height="4.73" class="bar"/>
<text x="404.84" y="490.12" class="tk" text-anchor="middle">21</text>
<text x="319.5" y="495.28" class="ax" text-anchor="middle" style="font-size:3.0px" textLength="30.0" lengthAdjust="spacingAndGlyphs">Amino acid position</text>
<text transform="translate(221.59,460.45) rotate(-90)" class="ax" text-anchor="middle" style="font-size:3.3px" textLength="45.5" lengthAdjust="spacingAndGlyphs">Number of selected features</text>
<text x="305.3" y="430.9" class="tt" style="font-size:4.9px" textLength="15.8" lengthAdjust="spacingAndGlyphs">PKA_T</text>
<g transform="rotate(.1 24.3 110.7)">
<text class="g" transform="matrix(1.25 0 0 0.523 20.1 99.6)">S</text>
<text class="g" transform="matrix(1.07 0 0 0.378 20.1 102.2)">G</text>
<text class="k" transform="matrix(1.25 0 0 0.320 20.1 104.4)">P</text>
<text class="b" transform="matrix(1.15 0 0 0.349 20.1 106.8)">K</text>
<text class="g" transform="matrix(1.37 0 0 0.291 20.1 108.8)">T</text>
<text class="k" transform="matrix(1.15 0 0 0.334 20.1 111.1)">A</text>
<text class="r s" transform="matrix(1.25 0 0 0.247 20.1 112.8)">E</text>
<text class="k s" transform="matrix(1.37 0 0 0.247 20.1 114.5)">L</text>
<text class="b s" transform="matrix(1.15 0 0 0.233 20.1 116.1)">R</text>
<text class="m s" transform="matrix(1.07 0 0 0.233 20.1 117.7)">Q</text>
<text class="m s" transform="matrix(1.15 0 0 0.189 20.1 119.0)">N</text>
<text class="k s" transform="matrix(1.15 0 0 0.145 20.1 120.0)">A</text>
<text class="m s" transform="matrix(1.07 0 0 0.233 20.1 121.6)">Q</text>
<text class="b s" transform="matrix(1.15 0 0 0.189 20.1 122.9)">K</text>
<text class="m t" transform="matrix(1.15 0 0 0.109 20.1 123.6)">N</text>
<text class="m t" transform="matrix(1.07 0 0 0.109 20.1 124.4)">Q</text>
<text class="r t" transform="matrix(1.25 0 0 0.145 20.1 125.4)">E</text>
</g>
<text transform="translate(26.02,126.9) rotate(-90)" class="pn" text-anchor="end">1</text>
<g transform="rotate(.1 32.8 110.7)">
<text class="g" transform="matrix(1.25 0 0 0.523 28.6 99.6)">S</text>
<text class="k" transform="matrix(1.25 0 0 0.392 28.6 102.3)">P</text>
<text class="b" transform="matrix(1.15 0 0 0.349 28.6 104.7)">K</text>
<text class="g" transform="matrix(1.25 0 0 0.291 28.6 106.7)">S</text>
<text class="k s" transform="matrix(1.37 0 0 0.203 28.6 108.1)">L</text>
<text class="b" transform="matrix(1.15 0 0 0.291 28.6 110.1)">R</text>
<text class="k s" transform="matrix(1.15 0 0 0.203 28.6 111.5)">A</text>
<text class="r" transform="matrix(1.15 0 0 0.465 28.6 114.7)">D</text>
<text class="g s" transform="matrix(1.07 0 0 0.189 28.6 116.0)">G</text>
<text class="m" transform="matrix(1.07 0 0 0.291 28.6 118.0)">Q</text>
<text class="m" transform="matrix(1.15 0 0 0.392 28.6 120.7)">N</text>
<text class="m s" transform="matrix(1.07 0 0 0.218 28.6 122.2)">Q</text>
<text class="m s" transform="matrix(1.15 0 0 0.145 28.6 123.2)">N</text>
<text class="b t" transform="matrix(1.15 0 0 0.109 28.6 124.0)">K</text>
<text class="r t" transform="matrix(1.15 0 0 0.109 28.6 124.7)">D</text>
<text class="b t" transform="matrix(1.15 0 0 0.102 28.6 125.4)">R</text>
</g>
<text transform="translate(34.64,126.9) rotate(-90)" class="pn" text-anchor="end">2</text>
<g transform="rotate(.1 41.4 110.7)">
<text class="k" transform="matrix(1.25 0 0 0.480 37.2 99.3)">P</text>
<text class="g" transform="matrix(1.25 0 0 0.436 37.2 102.3)">S</text>
<text class="k" transform="matrix(1.15 0 0 0.581 37.2 106.3)">A</text>
<text class="g" transform="matrix(1.07 0 0 0.291 37.2 108.3)">G</text>
<text class="b s" transform="matrix(1.15 0 0 0.276 37.2 110.2)">R</text>
<text class="g s" transform="matrix(1.07 0 0 0.203 37.2 111.6)">G</text>
<text class="r" transform="matrix(1.25 0 0 0.334 37.2 113.9)">E</text>
<text class="b" transform="matrix(1.15 0 0 0.291 37.2 115.9)">K</text>
<text class="k" transform="matrix(1.07 0 0 0.378 37.2 118.5)">O</text>
<text class="m" transform="matrix(1.07 0 0 0.291 37.2 120.5)">Q</text>
<text class="b s" transform="matrix(1.15 0 0 0.189 37.2 121.8)">R</text>
<text class="m s" transform="matrix(1.07 0 0 0.189 37.2 123.1)">Q</text>
<text class="g t" transform="matrix(1.37 0 0 0.109 37.2 123.8)">T</text>
<text class="b t" transform="matrix(1.15 0 0 0.109 37.2 124.6)">H</text>
<text class="g t" transform="matrix(1.25 0 0 0.116 37.2 125.4)">Y</text>
</g>
<text transform="translate(43.26,126.9) rotate(-90)" class="pn" text-anchor="end">3</text>
<g transform="rotate(.1 49.9 110.7)">
<text class="g" transform="matrix(1.25 0 0 0.523 45.7 99.6)">S</text>
<text class="k" transform="matrix(1.37 0 0 0.683 45.7 104.3)">F</text>
<text class="k" transform="matrix(1.15 0 0 0.291 45.7 106.3)">A</text>
<text class="g" transform="matrix(1.07 0 0 0.334 45.7 108.6)">G</text>
<text class="r s" transform="matrix(1.25 0 0 0.247 45.7 110.3)">E</text>
<text class="b s" transform="matrix(1.15 0 0 0.247 45.7 112.0)">K</text>
<text class="g s" transform="matrix(1.07 0 0 0.189 45.7 113.3)">G</text>
<text class="b s" transform="matrix(1.15 0 0 0.189 45.7 114.6)">R</text>
<text class="r" transform="matrix(1.15 0 0 0.378 45.7 117.2)">D</text>
<text class="m" transform="matrix(1.07 0 0 0.392 45.7 119.9)">Q</text>
<text class="m s" transform="matrix(1.15 0 0 0.218 45.7 121.4)">N</text>
<text class="m s" transform="matrix(1.07 0 0 0.189 45.7 122.7)">Q</text>
<text class="k t" transform="matrix(1.00 0 0 0.109 45.7 123.4)">M</text>
<text class="m t" transform="matrix(1.15 0 0 0.109 45.7 124.2)">N</text>
<text class="g t" transform="matrix(1.15 0 0 0.174 45.7 125.4)">C</text>
</g>
<text transform="translate(51.88,126.9) rotate(-90)" class="pn" text-anchor="end">4</text>
<g transform="rotate(.1 58.5 110.7)">
<text class="g" transform="matrix(1.25 0 0 0.523 54.3 99.6)">S</text>
<text class="k" transform="matrix(1.25 0 0 0.727 54.3 104.6)">P</text>
<text class="k" transform="matrix(1.07 0 0 0.828 54.3 110.3)">O</text>
<text class="r s" transform="matrix(1.25 0 0 0.203 54.3 111.7)">E</text>
<text class="g s" transform="matrix(1.07 0 0 0.174 54.3 112.9)">G</text>
<text class="b s" transform="matrix(1.15 0 0 0.189 54.3 114.2)">K</text>
<text class="m s" transform="matrix(1.07 0 0 0.247 54.3 115.9)">Q</text>
<text class="b s" transform="matrix(1.15 0 0 0.218 54.3 117.4)">R</text>
<text class="m" transform="matrix(1.07 0 0 0.291 54.3 119.4)">Q</text>
<text class="m s" transform="matrix(1.15 0 0 0.218 54.3 120.9)">N</text>
<text class="r s" transform="matrix(1.15 0 0 0.189 54.3 122.2)">D</text>
<text class="b s" transform="matrix(1.15 0 0 0.145 54.3 123.2)">H</text>
<text class="m t" transform="matrix(1.07 0 0 0.109 54.3 124.0)">Q</text>
<text class="k t" transform="matrix(0.88 0 0 0.109 54.3 124.7)">W</text>
<text class="r t" transform="matrix(1.15 0 0 0.102 54.3 125.4)">D</text>
</g>
<text transform="translate(60.49,126.9) rotate(-90)" class="pn" text-anchor="end">5</text>
<g transform="rotate(.1 67.0 110.7)">
<text class="g" transform="matrix(1.25 0 0 0.523 62.8 99.6)">S</text>
<text class="k" transform="matrix(1.25 0 0 0.392 62.8 102.3)">P</text>
<text class="g" transform="matrix(1.07 0 0 0.291 62.8 104.3)">G</text>
<text class="k" transform="matrix(1.15 0 0 0.334 62.8 106.6)">A</text>
<text class="r" transform="matrix(1.25 0 0 0.291 62.8 108.6)">E</text>
<text class="k s" transform="matrix(1.37 0 0 0.247 62.8 110.3)">L</text>
<text class="b s" transform="matrix(1.15 0 0 0.174 62.8 111.5)">K</text>
<text class="m s" transform="matrix(1.07 0 0 0.247 62.8 113.2)">Q</text>
<text class="k" transform="matrix(1.25 0 0 0.291 62.8 115.2)">X</text>
<text class="b" transform="matrix(1.15 0 0 0.291 62.8 117.2)">R</text>
<text class="g s" transform="matrix(1.07 0 0 0.233 62.8 118.8)">G</text>
<text class="m s" transform="matrix(1.07 0 0 0.218 62.8 120.3)">Q</text>
<text class="m s" transform="matrix(1.07 0 0 0.189 62.8 121.6)">Q</text>
<text class="b s" transform="matrix(1.15 0 0 0.189 62.8 122.9)">K</text>
<text class="r t" transform="matrix(1.25 0 0 0.109 62.8 123.6)">E</text>
<text class="m t" transform="matrix(1.15 0 0 0.109 62.8 124.4)">N</text>
<text class="m t" transform="matrix(1.07 0 0 0.145 62.8 125.4)">Q</text>
</g>
<text transform="translate(69.11,126.9) rotate(-90)" class="pn" text-anchor="end">6</text>
<g transform="rotate(.1 75.6 110.7)">
<text class="g" transform="matrix(1.25 0 0 0.669 71.4 100.6)">S</text>
<text class="k" transform="matrix(1.25 0 0 0.770 71.4 105.9)">P</text>
<text class="k s" transform="matrix(1.15 0 0 0.233 71.4 107.5)">A</text>
<text class="r s" transform="matrix(1.25 0 0 0.233 71.4 109.1)">E</text>
<text class="g" transform="matrix(1.25 0 0 0.625 71.4 113.4)">Y</text>
<text class="k s" transform="matrix(1.37 0 0 0.203 71.4 114.8)">L</text>
<text class="b" transform="matrix(1.15 0 0 0.334 71.4 117.1)">R</text>
<text class="m" transform="matrix(1.07 0 0 0.480 71.4 120.4)">Q</text>
<text class="m s" transform="matrix(1.15 0 0 0.218 71.4 121.9)">N</text>
<text class="r s" transform="matrix(1.25 0 0 0.189 71.4 123.2)">E</text>
<text class="r t" transform="matrix(1.25 0 0 0.109 71.4 123.9)">E</text>
<text class="b t" transform="matrix(1.15 0 0 0.109 71.4 124.7)">K</text>
<text class="r t" transform="matrix(1.15 0 0 0.102 71.4 125.4)">D</text>
</g>
<text transform="translate(77.73,126.9) rotate(-90)" class="pn" text-anchor="end">7</text>
<g transform="rotate(.1 84.1 110.7)">
<text class="k" transform="matrix(1.25 0 0 0.669 79.9 100.6)">P</text>
<text class="g" transform="matrix(1.25 0 0 0.436 79.9 103.6)">S</text>
<text class="k" transform="matrix(1.37 0 0 0.291 79.9 105.6)">L</text>
<text class="g" transform="matrix(1.07 0 0 0.494 79.9 109.0)">G</text>
<text class="k" transform="matrix(1.25 0 0 0.480 79.9 112.3)">X</text>
<text class="r s" transform="matrix(1.25 0 0 0.247 79.9 114.0)">E</text>
<text class="b s" transform="matrix(1.15 0 0 0.247 79.9 115.7)">K</text>
<text class="m s" transform="matrix(1.07 0 0 0.247 79.9 117.4)">Q</text>
<text class="b" transform="matrix(1.15 0 0 0.334 79.9 119.7)">R</text>
<text class="m s" transform="matrix(1.15 0 0 0.218 79.9 121.2)">N</text>
<text class="b s" transform="matrix(1.15 0 0 0.189 79.9 122.5)">H</text>
<text class="b t" transform="matrix(1.15 0 0 0.109 79.9 123.2)">R</text>
<text class="g t" transform="matrix(1.37 0 0 0.109 79.9 124.0)">T</text>
<text class="b t" transform="matrix(1.15 0 0 0.109 79.9 124.8)">H</text>
<text class="g t" transform="matrix(1.25 0 0 0.094 79.9 125.4)">Y</text>
</g>
<text transform="translate(86.35,126.9) rotate(-90)" class="pn" text-anchor="end">8</text>
<g transform="rotate(.1 92.7 110.7)">
<text class="k" transform="matrix(1.25 0 0 0.669 88.5 100.6)">P</text>
<text class="g" transform="matrix(1.25 0 0 0.291 88.5 102.6)">S</text>
<text class="g" transform="matrix(1.07 0 0 0.494 88.5 106.0)">G</text>
<text class="g" transform="matrix(1.25 0 0 0.378 88.5 108.6)">Y</text>
<text class="k" transform="matrix(1.07 0 0 0.756 88.5 113.8)">O</text>
<text class="b" transform="matrix(1.15 0 0 0.291 88.5 115.8)">K</text>
<text class="r" transform="matrix(1.25 0 0 0.291 88.5 117.8)">E</text>
<text class="g" transform="matrix(1.07 0 0 0.291 88.5 119.8)">G</text>
<text class="m s" transform="matrix(1.07 0 0 0.218 88.5 121.3)">Q</text>
<text class="b s" transform="matrix(1.15 0 0 0.189 88.5 122.6)">K</text>
<text class="g t" transform="matrix(1.25 0 0 0.109 88.5 123.3)">Y</text>
<text class="k t" transform="matrix(1.00 0 0 0.109 88.5 124.1)">M</text>
<text class="m t" transform="matrix(1.15 0 0 0.109 88.5 124.8)">N</text>
<text class="g t" transform="matrix(1.15 0 0 0.080 88.5 125.4)">C</text>
</g>
<text transform="translate(94.96,126.9) rotate(-90)" class="pn" text-anchor="end">9</text>
<g transform="rotate(.1 101.2 110.7)">
<text class="k" transform="matrix(1.25 0 0 1.105 97.0 103.6)">P</text>
<text class="g" transform="matrix(1.25 0 0 0.422 97.0 106.5)">S</text>
<text class="k" transform="matrix(1.15 0 0 0.291 97.0 108.5)">A</text>
<text class="g" transform="matrix(1.07 0 0 0.581 97.0 112.5)">G</text>
<text class="k" transform="matrix(1.37 0 0 0.291 97.0 114.5)">L</text>
<text class="b s" transform="matrix(1.15 0 0 0.174 97.0 115.7)">K</text>
<text class="r s" transform="matrix(1.25 0 0 0.218 97.0 117.2)">E</text>
<text class="m" transform="matrix(1.07 0 0 0.291 97.0 119.2)">Q</text>
<text class="b s" transform="matrix(1.15 0 0 0.218 97.0 120.7)">R</text>
<text class="m s" transform="matrix(1.15 0 0 0.218 97.0 122.2)">N</text>
<text class="b s" transform="matrix(1.15 0 0 0.145 97.0 123.2)">R</text>
<text class="g t" transform="matrix(1.15 0 0 0.109 97.0 124.0)">C</text>
<text class="m t" transform="matrix(1.07 0 0 0.109 97.0 124.7)">Q</text>
<text class="k t" transform="matrix(0.88 0 0 0.102 97.0 125.4)">W</text>
</g>
<text transform="translate(103.58,126.9) rotate(-90)" class="pn" text-anchor="end">10</text>
<g transform="rotate(.1 109.8 110.7)">
<text class="g" transform="matrix(1.25 0 0 4.142 105.6 124.5)">S</text>
<text class="m s" transform="matrix(1.07 0 0 0.131 105.6 125.4)">Q</text>
</g>
<text transform="translate(112.2,126.9) rotate(-90)" class="pn" text-anchor="end">11</text>
<g transform="rotate(.1 118.3 110.7)">
<text class="k" transform="matrix(1.25 0 0 3.416 114.1 119.5)">P</text>
<text class="g s" transform="matrix(1.07 0 0 0.174 114.1 120.7)">G</text>
<text class="g s" transform="matrix(1.25 0 0 0.116 114.1 121.5)">S</text>
<text class="b s" transform="matrix(1.15 0 0 0.174 114.1 122.7)">K</text>
<text class="m s" transform="matrix(1.07 0 0 0.218 114.1 124.2)">Q</text>
<text class="m s" transform="matrix(1.15 0 0 0.174 114.1 125.4)">N</text>
</g>
<text transform="translate(120.82,126.9) rotate(-90)" class="pn" text-anchor="end">12</text>
<g transform="rotate(.1 126.8 110.7)">
<text class="g" transform="matrix(1.25 0 0 0.480 122.7 99.3)">S</text>
<text class="k" transform="matrix(1.25 0 0 0.349 122.7 101.7)">P</text>
<text class="k" transform="matrix(1.07 0 0 0.625 122.7 106.0)">O</text>
<text class="g" transform="matrix(1.25 0 0 0.291 122.7 108.0)">Y</text>
<text class="b" transform="matrix(1.15 0 0 0.581 122.7 112.0)">R</text>
<text class="g s" transform="matrix(1.07 0 0 0.233 122.7 113.6)">G</text>
<text class="k s" transform="matrix(1.37 0 0 0.189 122.7 114.9)">L</text>
<text class="m s" transform="matrix(1.07 0 0 0.247 122.7 116.6)">Q</text>
<text class="r s" transform="matrix(1.25 0 0 0.233 122.7 118.2)">E</text>
<text class="m s" transform="matrix(1.15 0 0 0.218 122.7 119.7)">N</text>
<text class="g s" transform="matrix(1.07 0 0 0.189 122.7 121.0)">G</text>
<text class="m s" transform="matrix(1.15 0 0 0.189 122.7 122.3)">N</text>
<text class="r s" transform="matrix(1.15 0 0 0.131 122.7 123.2)">D</text>
<text class="r t" transform="matrix(1.15 0 0 0.109 122.7 123.9)">D</text>
<text class="b t" transform="matrix(1.15 0 0 0.109 122.7 124.7)">R</text>
<text class="g t" transform="matrix(1.37 0 0 0.102 122.7 125.4)">T</text>
</g>
<text transform="translate(129.44,126.9) rotate(-90)" class="pn" text-anchor="end">13</text>
<g transform="rotate(.1 135.4 110.7)">
<text class="b" transform="matrix(1.15 0 0 0.727 131.2 101.0)">K</text>
<text class="b" transform="matrix(1.15 0 0 0.538 131.2 104.7)">R</text>
<text class="k" transform="matrix(1.37 0 0 0.436 131.2 107.7)">L</text>
<text class="k s" transform="matrix(1.15 0 0 0.203 131.2 109.1)">A</text>
<text class="g" transform="matrix(1.07 0 0 0.422 131.2 112.0)">G</text>
<text class="k" transform="matrix(1.15 0 0 0.291 131.2 114.0)">A</text>
<text class="m s" transform="matrix(1.07 0 0 0.203 131.2 115.4)">Q</text>
<text class="g s" transform="matrix(1.07 0 0 0.203 131.2 116.8)">G</text>
<text class="r s" transform="matrix(1.25 0 0 0.174 131.2 118.0)">E</text>
<text class="m s" transform="matrix(1.15 0 0 0.218 131.2 119.5)">N</text>
<text class="g s" transform="matrix(1.25 0 0 0.189 131.2 120.8)">S</text>
<text class="b s" transform="matrix(1.15 0 0 0.189 131.2 122.1)">R</text>
<text class="m s" transform="matrix(1.07 0 0 0.160 131.2 123.2)">Q</text>
<text class="b t" transform="matrix(1.15 0 0 0.109 131.2 124.0)">H</text>
<text class="g t" transform="matrix(1.25 0 0 0.109 131.2 124.7)">Y</text>
<text class="k t" transform="matrix(1.00 0 0 0.102 131.2 125.4)">M</text>
</g>
<text transform="translate(138.05,126.9) rotate(-90)" class="pn" text-anchor="end">14</text>
<g transform="rotate(.1 143.9 110.7)">
<text class="g" transform="matrix(1.25 0 0 0.538 139.8 99.7)">S</text>
<text class="k" transform="matrix(1.25 0 0 0.494 139.8 103.1)">P</text>
<text class="b" transform="matrix(1.15 0 0 0.872 139.8 109.1)">K</text>
<text class="k s" transform="matrix(1.15 0 0 0.233 139.8 110.7)">A</text>
<text class="g" transform="matrix(1.07 0 0 0.378 139.8 113.3)">G</text>
<text class="k s" transform="matrix(1.37 0 0 0.174 139.8 114.5)">L</text>
<text class="m s" transform="matrix(1.07 0 0 0.203 139.8 115.9)">Q</text>
<text class="r s" transform="matrix(1.25 0 0 0.203 139.8 117.3)">E</text>
<text class="m s" transform="matrix(1.07 0 0 0.218 139.8 118.8)">Q</text>
<text class="b s" transform="matrix(1.15 0 0 0.189 139.8 120.1)">K</text>
<text class="m s" transform="matrix(1.07 0 0 0.189 139.8 121.4)">Q</text>
<text class="r s" transform="matrix(1.25 0 0 0.189 139.8 122.7)">E</text>
<text class="m t" transform="matrix(1.15 0 0 0.109 139.8 123.5)">N</text>
<text class="g t" transform="matrix(1.15 0 0 0.109 139.8 124.2)">C</text>
<text class="m t" transform="matrix(1.07 0 0 0.174 139.8 125.4)">Q</text>
</g>
<text transform="translate(146.67,126.9) rotate(-90)" class="pn" text-anchor="end">15</text>
<g transform="rotate(.1 152.5 110.7)">
<text class="g" transform="matrix(1.25 0 0 0.480 148.3 99.3)">S</text>
<text class="k" transform="matrix(1.25 0 0 0.291 148.3 101.3)">P</text>
<text class="b" transform="matrix(1.15 0 0 0.480 148.3 104.6)">K</text>
<text class="g s" transform="matrix(1.07 0 0 0.247 148.3 106.3)">G</text>
<text class="k" transform="matrix(1.15 0 0 0.291 148.3 108.3)">A</text>
<text class="b" transform="matrix(1.15 0 0 0.334 148.3 110.6)">R</text>
<text class="k s" transform="matrix(1.37 0 0 0.262 148.3 112.4)">L</text>
<text class="g s" transform="matrix(1.07 0 0 0.247 148.3 114.1)">G</text>
<text class="r s" transform="matrix(1.25 0 0 0.233 148.3 115.7)">E</text>
<text class="m" transform="matrix(1.07 0 0 0.291 148.3 117.7)">Q</text>
<text class="m s" transform="matrix(1.15 0 0 0.218 148.3 119.2)">N</text>
<text class="m s" transform="matrix(1.15 0 0 0.189 148.3 120.5)">N</text>
<text class="r s" transform="matrix(1.15 0 0 0.189 148.3 121.8)">D</text>
<text class="b s" transform="matrix(1.15 0 0 0.189 148.3 123.1)">H</text>
<text class="k t" transform="matrix(0.88 0 0 0.109 148.3 123.8)">W</text>
<text class="r t" transform="matrix(1.15 0 0 0.109 148.3 124.6)">D</text>
<text class="r t" transform="matrix(1.25 0 0 0.116 148.3 125.4)">E</text>
</g>
<text transform="translate(155.29,126.9) rotate(-90)" class="pn" text-anchor="end">16</text>
<g transform="rotate(.1 161.0 110.7)">
<text class="g" transform="matrix(1.25 0 0 0.480 156.9 99.3)">S</text>
<text class="k" transform="matrix(1.25 0 0 0.334 156.9 101.6)">P</text>
<text class="k" transform="matrix(1.15 0 0 0.291 156.9 103.6)">A</text>
<text class="b" transform="matrix(1.15 0 0 0.916 156.9 109.9)">R</text>
<text class="g s" transform="matrix(1.07 0 0 0.189 156.9 111.2)">G</text>
<text class="r s" transform="matrix(1.25 0 0 0.247 156.9 112.9)">E</text>
<text class="g s" transform="matrix(1.07 0 0 0.174 156.9 114.1)">G</text>
<text class="r" transform="matrix(1.15 0 0 0.291 156.9 116.1)">D</text>
<text class="m s" transform="matrix(1.07 0 0 0.218 156.9 117.6)">Q</text>
<text class="m s" transform="matrix(1.15 0 0 0.174 156.9 118.8)">N</text>
<text class="b s" transform="matrix(1.15 0 0 0.189 156.9 120.1)">R</text>
<text class="m s" transform="matrix(1.07 0 0 0.189 156.9 121.4)">Q</text>
<text class="b s" transform="matrix(1.15 0 0 0.189 156.9 122.7)">K</text>
<text class="m t" transform="matrix(1.15 0 0 0.109 156.9 123.4)">N</text>
<text class="m t" transform="matrix(1.07 0 0 0.109 156.9 124.2)">Q</text>
<text class="r t" transform="matrix(1.25 0 0 0.174 156.9 125.4)">E</text>
</g>
<text transform="translate(163.91,126.9) rotate(-90)" class="pn" text-anchor="end">17</text>
<g transform="rotate(.1 169.6 110.7)">
<text class="k" transform="matrix(1.25 0 0 0.480 165.4 99.3)">P</text>
<text class="g" transform="matrix(1.25 0 0 0.334 165.4 101.6)">S</text>
<text class="b" transform="matrix(1.15 0 0 1.061 165.4 108.9)">R</text>
<text class="k" transform="matrix(1.15 0 0 0.334 165.4 111.2)">A</text>
<text class="g s" transform="matrix(1.07 0 0 0.189 165.4 112.5)">G</text>
<text class="r s" transform="matrix(1.25 0 0 0.247 165.4 114.2)">E</text>
<text class="g s" transform="matrix(1.07 0 0 0.174 165.4 115.4)">G</text>
<text class="r" transform="matrix(1.15 0 0 0.363 165.4 117.9)">D</text>
<text class="m s" transform="matrix(1.07 0 0 0.218 165.4 119.4)">Q</text>
<text class="m s" transform="matrix(1.07 0 0 0.189 165.4 120.7)">Q</text>
<text class="r s" transform="matrix(1.25 0 0 0.189 165.4 122.0)">E</text>
<text class="b s" transform="matrix(1.15 0 0 0.174 165.4 123.2)">R</text>
<text class="b t" transform="matrix(1.15 0 0 0.109 165.4 123.9)">K</text>
<text class="r t" transform="matrix(1.15 0 0 0.109 165.4 124.7)">D</text>
<text class="b t" transform="matrix(1.15 0 0 0.102 165.4 125.4)">R</text>
</g>
<text transform="translate(172.52,126.9) rotate(-90)" class="pn" text-anchor="end">18</text>
<g transform="rotate(.1 178.1 110.7)">
<text class="g" transform="matrix(1.25 0 0 0.523 174.0 99.6)">S</text>
<text class="k" transform="matrix(1.25 0 0 0.334 174.0 101.9)">P</text>
<text class="k" transform="matrix(1.15 0 0 0.291 174.0 103.9)">A</text>
<text class="b" transform="matrix(1.15 0 0 0.770 174.0 109.2)">R</text>
<text class="m s" transform="matrix(1.07 0 0 0.247 174.0 110.9)">Q</text>
<text class="g s" transform="matrix(1.07 0 0 0.189 174.0 112.2)">G</text>
<text class="r" transform="matrix(1.25 0 0 0.392 174.0 114.9)">E</text>
<text class="g s" transform="matrix(1.07 0 0 0.247 174.0 116.6)">G</text>
<text class="m s" transform="matrix(1.07 0 0 0.218 174.0 118.1)">Q</text>
<text class="m s" transform="matrix(1.15 0 0 0.174 174.0 119.3)">N</text>
<text class="r s" transform="matrix(1.15 0 0 0.189 174.0 120.6)">D</text>
<text class="b s" transform="matrix(1.15 0 0 0.189 174.0 121.9)">H</text>
<text class="g s" transform="matrix(1.37 0 0 0.189 174.0 123.2)">T</text>
<text class="g t" transform="matrix(1.37 0 0 0.109 174.0 123.9)">T</text>
<text class="b t" transform="matrix(1.15 0 0 0.109 174.0 124.7)">H</text>
<text class="g t" transform="matrix(1.25 0 0 0.102 174.0 125.4)">Y</text>
</g>
<text transform="translate(181.14,126.9) rotate(-90)" class="pn" text-anchor="end">19</text>
<g transform="rotate(.1 186.7 110.7)">
<text class="g" transform="matrix(1.25 0 0 0.523 182.5 99.6)">S</text>
<text class="k" transform="matrix(1.25 0 0 0.334 182.5 101.9)">P</text>
<text class="k" transform="matrix(1.15 0 0 0.392 182.5 104.6)">A</text>
<text class="b" transform="matrix(1.15 0 0 0.727 182.5 109.6)">R</text>
<text class="r s" transform="matrix(1.25 0 0 0.189 182.5 110.9)">E</text>
<text class="k s" transform="matrix(1.37 0 0 0.189 182.5 112.2)">L</text>
<text class="g s" transform="matrix(1.07 0 0 0.189 182.5 113.5)">G</text>
<text class="r" transform="matrix(1.15 0 0 0.291 182.5 115.5)">D</text>
<text class="g s" transform="matrix(1.07 0 0 0.189 182.5 116.8)">G</text>
<text class="m s" transform="matrix(1.07 0 0 0.189 182.5 118.1)">Q</text>
<text class="m s" transform="matrix(1.15 0 0 0.174 182.5 119.3)">N</text>
<text class="m s" transform="matrix(1.07 0 0 0.189 182.5 120.6)">Q</text>
<text class="b s" transform="matrix(1.15 0 0 0.189 182.5 121.9)">K</text>
<text class="r s" transform="matrix(1.25 0 0 0.189 182.5 123.2)">E</text>
<text class="k t" transform="matrix(1.00 0 0 0.109 182.5 123.9)">M</text>
<text class="m t" transform="matrix(1.15 0 0 0.109 182.5 124.7)">N</text>
<text class="g t" transform="matrix(1.15 0 0 0.102 182.5 125.4)">C</text>
</g>
<text transform="translate(189.76,126.9) rotate(-90)" class="pn" text-anchor="end">20</text>
<g transform="rotate(.1 195.2 110.7)">
<text class="g" transform="matrix(1.25 0 0 0.523 191.1 99.6)">S</text>
<text class="k" transform="matrix(1.25 0 0 0.727 191.1 104.6)">P</text>
<text class="b" transform="matrix(1.15 0 0 0.858 191.1 110.5)">K</text>
<text class="g s" transform="matrix(1.07 0 0 0.189 191.1 111.8)">G</text>
<text class="r s" transform="matrix(1.25 0 0 0.189 191.1 113.1)">E</text>
<text class="g" transform="matrix(1.07 0 0 0.349 191.1 115.5)">G</text>
<text class="r" transform="matrix(1.25 0 0 0.291 191.1 117.5)">E</text>
<text class="m s" transform="matrix(1.07 0 0 0.218 191.1 119.0)">Q</text>
<text class="r s" transform="matrix(1.25 0 0 0.189 191.1 120.3)">E</text>
<text class="b s" transform="matrix(1.15 0 0 0.189 191.1 121.6)">R</text>
<text class="g s" transform="matrix(1.07 0 0 0.189 191.1 122.9)">G</text>
<text class="m t" transform="matrix(1.07 0 0 0.109 191.1 123.6)">Q</text>
<text class="k t" transform="matrix(0.88 0 0 0.109 191.1 124.4)">W</text>
<text class="r t" transform="matrix(1.15 0 0 0.145 191.1 125.4)">D</text>
</g>
<text transform="translate(198.38,126.9) rotate(-90)" class="pn" text-anchor="end">21</text>
<text x="17.6" y="131.6" class="nc" text-anchor="middle">N</text>
<text x="203.4" y="131.8" class="cc" text-anchor="middle">C</text>
<text x="205.2" y="134.6" class="wl" text-anchor="end">weblogo.berkeley.edu</text>
<g transform="rotate(.1 231.2 110.7)">
<text class="g" transform="matrix(1.25 0 0 0.480 227.0 99.3)">S</text>
<text class="b" transform="matrix(1.15 0 0 0.669 227.0 103.9)">R</text>
<text class="g s" transform="matrix(1.25 0 0 0.276 227.0 105.8)">Y</text>
<text class="k s" transform="matrix(1.15 0 0 0.233 227.0 107.4)">A</text>
<text class="r s" transform="matrix(1.25 0 0 0.233 227.0 109.0)">E</text>
<text class="g s" transform="matrix(1.07 0 0 0.189 227.0 110.3)">G</text>
<text class="k" transform="matrix(1.07 0 0 0.770 227.0 115.6)">O</text>
<text class="m" transform="matrix(1.07 0 0 0.480 227.0 118.9)">Q</text>
<text class="m s" transform="matrix(1.15 0 0 0.218 227.0 120.4)">N</text>
<text class="b s" transform="matrix(1.15 0 0 0.189 227.0 121.7)">K</text>
<text class="m s" transform="matrix(1.07 0 0 0.189 227.0 123.0)">Q</text>
<text class="m t" transform="matrix(1.15 0 0 0.109 227.0 123.7)">N</text>
<text class="m t" transform="matrix(1.07 0 0 0.109 227.0 124.5)">Q</text>
<text class="r t" transform="matrix(1.25 0 0 0.109 227.0 125.2)">E</text>
</g>
<text transform="translate(232.92,126.9) rotate(-90)" class="pn" text-anchor="end">1</text>
<g transform="rotate(.1 239.7 110.7)">
<text class="k" transform="matrix(1.25 0 0 0.436 235.5 99.0)">P</text>
<text class="g" transform="matrix(1.25 0 0 0.480 235.5 102.3)">S</text>
<text class="k" transform="matrix(1.15 0 0 0.334 235.5 104.6)">A</text>
<text class="g" transform="matrix(1.07 0 0 0.291 235.5 106.6)">G</text>
<text class="r s" transform="matrix(1.25 0 0 0.233 235.5 108.2)">E</text>
<text class="k" transform="matrix(1.25 0 0 0.959 235.5 114.8)">X</text>
<text class="b s" transform="matrix(1.15 0 0 0.233 235.5 116.4)">K</text>
<text class="g s" transform="matrix(1.07 0 0 0.145 235.5 117.4)">G</text>
<text class="b s" transform="matrix(1.15 0 0 0.218 235.5 118.9)">R</text>
<text class="m s" transform="matrix(1.07 0 0 0.218 235.5 120.4)">Q</text>
<text class="m s" transform="matrix(1.15 0 0 0.189 235.5 121.7)">N</text>
<text class="r s" transform="matrix(1.15 0 0 0.189 235.5 123.0)">D</text>
<text class="b t" transform="matrix(1.15 0 0 0.109 235.5 123.7)">K</text>
<text class="r t" transform="matrix(1.15 0 0 0.109 235.5 124.5)">D</text>
<text class="b t" transform="matrix(1.15 0 0 0.109 235.5 125.2)">R</text>
</g>
<text transform="translate(241.53,126.9) rotate(-90)" class="pn" text-anchor="end">2</text>
<g transform="rotate(.1 248.2 110.7)">
<text class="k" transform="matrix(1.25 0 0 0.436 244.1 99.0)">P</text>
<text class="g" transform="matrix(1.25 0 0 0.480 244.1 102.3)">S</text>
<text class="g" transform="matrix(1.37 0 0 0.480 244.1 105.6)">T</text>
<text class="k" transform="matrix(1.15 0 0 0.334 244.1 107.9)">A</text>
<text class="b s" transform="matrix(1.15 0 0 0.233 244.1 109.5)">R</text>
<text class="r s" transform="matrix(1.25 0 0 0.247 244.1 111.2)">E</text>
<text class="b s" transform="matrix(1.15 0 0 0.189 244.1 112.5)">K</text>
<text class="k s" transform="matrix(1.37 0 0 0.189 244.1 113.8)">L</text>
<text class="m" transform="matrix(1.07 0 0 0.320 244.1 116.0)">Q</text>
<text class="r s" transform="matrix(1.25 0 0 0.218 244.1 117.5)">E</text>
<text class="m s" transform="matrix(1.15 0 0 0.218 244.1 119.0)">N</text>
<text class="b s" transform="matrix(1.15 0 0 0.189 244.1 120.3)">R</text>
<text class="m s" transform="matrix(1.07 0 0 0.189 244.1 121.6)">Q</text>
<text class="b s" transform="matrix(1.15 0 0 0.189 244.1 122.9)">K</text>
<text class="g t" transform="matrix(1.37 0 0 0.109 244.1 123.6)">T</text>
<text class="b t" transform="matrix(1.15 0 0 0.109 244.1 124.4)">H</text>
<text class="g t" transform="matrix(1.25 0 0 0.131 244.1 125.3)">Y</text>
</g>
<text transform="translate(250.14,126.9) rotate(-90)" class="pn" text-anchor="end">3</text>
<g transform="rotate(.1 256.8 110.7)">
<text class="g" transform="matrix(1.25 0 0 0.480 252.6 99.3)">S</text>
<text class="k" transform="matrix(1.25 0 0 0.378 252.6 101.9)">P</text>
<text class="g" transform="matrix(1.37 0 0 0.392 252.6 104.6)">T</text>
<text class="g s" transform="matrix(1.07 0 0 0.247 252.6 106.3)">G</text>
<text class="k" transform="matrix(1.07 0 0 1.119 252.6 114.0)">O</text>
<text class="b s" transform="matrix(1.15 0 0 0.218 252.6 115.5)">R</text>
<text class="r s" transform="matrix(1.25 0 0 0.218 252.6 117.0)">E</text>
<text class="m" transform="matrix(1.07 0 0 0.392 252.6 119.7)">Q</text>
<text class="m s" transform="matrix(1.15 0 0 0.218 252.6 121.2)">N</text>
<text class="m s" transform="matrix(1.07 0 0 0.189 252.6 122.5)">Q</text>
<text class="k t" transform="matrix(1.00 0 0 0.109 252.6 123.2)">M</text>
<text class="m t" transform="matrix(1.15 0 0 0.109 252.6 124.0)">N</text>
<text class="g t" transform="matrix(1.15 0 0 0.109 252.6 124.8)">C</text>
<text class="m t" transform="matrix(1.07 0 0 0.080 252.6 125.3)">Q</text>
</g>
<text transform="translate(258.74,126.9) rotate(-90)" class="pn" text-anchor="end">4</text>
<g transform="rotate(.1 265.3 110.7)">
<text class="g" transform="matrix(1.25 0 0 0.480 261.2 99.3)">S</text>
<text class="k" transform="matrix(1.25 0 0 0.392 261.2 102.0)">P</text>
<text class="g" transform="matrix(1.37 0 0 0.422 261.2 104.9)">T</text>
<text class="k" transform="matrix(1.15 0 0 0.291 261.2 106.9)">A</text>
<text class="r" transform="matrix(1.25 0 0 0.291 261.2 108.9)">E</text>
<text class="g s" transform="matrix(1.07 0 0 0.276 261.2 110.8)">G</text>
<text class="b" transform="matrix(1.15 0 0 0.436 261.2 113.8)">K</text>
<text class="m" transform="matrix(1.07 0 0 0.291 261.2 115.8)">Q</text>
<text class="b s" transform="matrix(1.15 0 0 0.247 261.2 117.5)">R</text>
<text class="m s" transform="matrix(1.15 0 0 0.218 261.2 119.0)">N</text>
<text class="r s" transform="matrix(1.15 0 0 0.189 261.2 120.3)">D</text>
<text class="b s" transform="matrix(1.15 0 0 0.189 261.2 121.6)">H</text>
<text class="g s" transform="matrix(1.37 0 0 0.189 261.2 122.9)">T</text>
<text class="m t" transform="matrix(1.07 0 0 0.109 261.2 123.7)">Q</text>
<text class="k t" transform="matrix(0.88 0 0 0.109 261.2 124.4)">W</text>
<text class="r t" transform="matrix(1.15 0 0 0.131 261.2 125.3)">D</text>
</g>
<text transform="translate(267.35,126.9) rotate(-90)" class="pn" text-anchor="end">5</text>
<g transform="rotate(.1 273.9 110.7)">
<text class="k" transform="matrix(1.25 0 0 0.480 269.7 99.3)">P</text>
<text class="g" transform="matrix(1.25 0 0 0.436 269.7 102.3)">S</text>
<text class="k" transform="matrix(1.37 0 0 0.291 269.7 104.3)">L</text>
<text class="k" transform="matrix(1.15 0 0 0.378 269.7 106.9)">A</text>
<text class="g" transform="matrix(1.07 0 0 0.480 269.7 110.2)">G</text>
<text class="r s" transform="matrix(1.25 0 0 0.189 269.7 111.5)">E</text>
<text class="b s" transform="matrix(1.15 0 0 0.247 269.7 113.2)">K</text>
<text class="m" transform="matrix(1.07 0 0 0.523 269.7 116.8)">Q</text>
<text class="b s" transform="matrix(1.15 0 0 0.218 269.7 118.3)">R</text>
<text class="m s" transform="matrix(1.15 0 0 0.218 269.7 119.8)">N</text>
<text class="m s" transform="matrix(1.07 0 0 0.189 269.7 121.1)">Q</text>
<text class="b s" transform="matrix(1.15 0 0 0.189 269.7 122.4)">K</text>
<text class="r t" transform="matrix(1.25 0 0 0.109 269.7 123.1)">E</text>
<text class="m t" transform="matrix(1.15 0 0 0.109 269.7 123.9)">N</text>
<text class="m t" transform="matrix(1.07 0 0 0.109 269.7 124.6)">Q</text>
<text class="r t" transform="matrix(1.25 0 0 0.094 269.7 125.3)">E</text>
</g>
<text transform="translate(275.96,126.9) rotate(-90)" class="pn" text-anchor="end">6</text>
<g transform="rotate(.1 282.4 110.7)">
<text class="g" transform="matrix(1.25 0 0 0.538 278.2 99.7)">S</text>
<text class="k" transform="matrix(1.25 0 0 0.378 278.2 102.3)">P</text>
<text class="g" transform="matrix(1.25 0 0 0.378 278.2 104.9)">Y</text>
<text class="g" transform="matrix(1.07 0 0 0.392 278.2 107.6)">G</text>
<text class="k s" transform="matrix(1.37 0 0 0.189 278.2 108.9)">L</text>
<text class="k" transform="matrix(1.07 0 0 0.567 278.2 112.8)">O</text>
<text class="b s" transform="matrix(1.15 0 0 0.218 278.2 114.3)">R</text>
<text class="r s" transform="matrix(1.25 0 0 0.218 278.2 115.8)">E</text>
<text class="k s" transform="matrix(1.37 0 0 0.174 278.2 117.0)">L</text>
<text class="m" transform="matrix(1.07 0 0 0.422 278.2 119.9)">Q</text>
<text class="m s" transform="matrix(1.15 0 0 0.218 278.2 121.4)">N</text>
<text class="r s" transform="matrix(1.25 0 0 0.189 278.2 122.7)">E</text>
<text class="r t" transform="matrix(1.25 0 0 0.109 278.2 123.5)">E</text>
<text class="b t" transform="matrix(1.15 0 0 0.109 278.2 124.2)">K</text>
<text class="r t" transform="matrix(1.15 0 0 0.160 278.2 125.3)">D</text>
</g>
<text transform="translate(284.57,126.9) rotate(-90)" class="pn" text-anchor="end">7</text>
<g transform="rotate(.1 290.9 110.7)">
<text class="k" transform="matrix(1.25 0 0 0.625 286.8 100.3)">P</text>
<text class="g" transform="matrix(1.25 0 0 0.436 286.8 103.3)">S</text>
<text class="k" transform="matrix(1.07 0 0 1.061 286.8 110.6)">O</text>
<text class="k s" transform="matrix(1.37 0 0 0.145 286.8 111.6)">L</text>
<text class="g" transform="matrix(1.25 0 0 0.291 286.8 113.6)">Y</text>
<text class="b s" transform="matrix(1.15 0 0 0.247 286.8 115.3)">R</text>
<text class="r s" transform="matrix(1.25 0 0 0.145 286.8 116.3)">E</text>
<text class="m" transform="matrix(1.07 0 0 0.392 286.8 119.0)">Q</text>
<text class="m s" transform="matrix(1.15 0 0 0.218 286.8 120.5)">N</text>
<text class="b s" transform="matrix(1.15 0 0 0.189 286.8 121.8)">H</text>
<text class="g s" transform="matrix(1.37 0 0 0.189 286.8 123.1)">T</text>
<text class="b t" transform="matrix(1.15 0 0 0.109 286.8 123.8)">R</text>
<text class="g t" transform="matrix(1.37 0 0 0.109 286.8 124.6)">T</text>
<text class="b t" transform="matrix(1.15 0 0 0.102 286.8 125.3)">H</text>
</g>
<text transform="translate(293.18,126.9) rotate(-90)" class="pn" text-anchor="end">8</text>
<g transform="rotate(.1 299.5 110.7)">
<text class="k" transform="matrix(1.25 0 0 0.727 295.3 101.0)">P</text>
<text class="g" transform="matrix(1.25 0 0 0.436 295.3 104.0)">S</text>
<text class="k" transform="matrix(1.15 0 0 0.523 295.3 107.6)">A</text>
<text class="k s" transform="matrix(1.37 0 0 0.218 295.3 109.1)">L</text>
<text class="g" transform="matrix(1.25 0 0 0.581 295.3 113.1)">Y</text>
<text class="g s" transform="matrix(1.07 0 0 0.233 295.3 114.7)">G</text>
<text class="k s" transform="matrix(1.37 0 0 0.189 295.3 116.0)">L</text>
<text class="m" transform="matrix(1.07 0 0 0.392 295.3 118.7)">Q</text>
<text class="m s" transform="matrix(1.15 0 0 0.218 295.3 120.2)">N</text>
<text class="b s" transform="matrix(1.15 0 0 0.189 295.3 121.5)">K</text>
<text class="r s" transform="matrix(1.25 0 0 0.189 295.3 122.8)">E</text>
<text class="g t" transform="matrix(1.25 0 0 0.109 295.3 123.5)">Y</text>
<text class="k t" transform="matrix(1.00 0 0 0.109 295.3 124.3)">M</text>
<text class="m t" transform="matrix(1.15 0 0 0.145 295.3 125.3)">N</text>
</g>
<text transform="translate(301.78,126.9) rotate(-90)" class="pn" text-anchor="end">9</text>
<g transform="rotate(.1 308.0 110.7)">
<text class="g" transform="matrix(1.25 0 0 0.538 303.8 99.7)">S</text>
<text class="g" transform="matrix(1.37 0 0 0.334 303.8 102.0)">T</text>
<text class="k" transform="matrix(1.37 0 0 0.727 303.8 107.0)">L</text>
<text class="k" transform="matrix(1.15 0 0 0.291 303.8 109.0)">A</text>
<text class="b s" transform="matrix(1.15 0 0 0.233 303.8 110.6)">R</text>
<text class="r" transform="matrix(1.25 0 0 0.291 303.8 112.6)">E</text>
<text class="g s" transform="matrix(1.07 0 0 0.145 303.8 113.6)">G</text>
<text class="b" transform="matrix(1.15 0 0 0.334 303.8 115.9)">K</text>
<text class="g s" transform="matrix(1.07 0 0 0.218 303.8 117.4)">G</text>
<text class="m" transform="matrix(1.07 0 0 0.480 303.8 120.7)">Q</text>
<text class="b s" transform="matrix(1.15 0 0 0.189 303.8 122.0)">R</text>
<text class="g s" transform="matrix(1.07 0 0 0.160 303.8 123.1)">G</text>
<text class="g t" transform="matrix(1.15 0 0 0.109 303.8 123.8)">C</text>
<text class="m t" transform="matrix(1.07 0 0 0.109 303.8 124.6)">Q</text>
<text class="k t" transform="matrix(0.88 0 0 0.102 303.8 125.3)">W</text>
</g>
<text transform="translate(310.39,126.9) rotate(-90)" class="pn" text-anchor="end">10</text>
<g transform="rotate(.1 316.6 110.7)">
<text class="g" transform="matrix(1.37 0 0 4.259 312.4 125.3)">T</text>
</g>
<text transform="translate(319,126.9) rotate(-90)" class="pn" text-anchor="end">11</text>
<g transform="rotate(.1 325.1 110.7)">
<text class="k" transform="matrix(1.25 0 0 3.706 320.9 121.5)">P</text>
<text class="g s" transform="matrix(1.07 0 0 0.189 320.9 122.8)">G</text>
<text class="m s" transform="matrix(1.07 0 0 0.218 320.9 124.3)">Q</text>
<text class="m s" transform="matrix(1.15 0 0 0.145 320.9 125.3)">N</text>
</g>
<text transform="translate(327.61,126.9) rotate(-90)" class="pn" text-anchor="end">12</text>
<g transform="rotate(.1 333.6 110.7)">
<text class="g" transform="matrix(1.25 0 0 0.392 329.5 98.7)">S</text>
<text class="b" transform="matrix(1.15 0 0 0.480 329.5 102.0)">R</text>
<text class="k" transform="matrix(1.25 0 0 0.625 329.5 106.3)">X</text>
<text class="g" transform="matrix(1.07 0 0 0.378 329.5 108.9)">G</text>
<text class="k" transform="matrix(1.37 0 0 0.334 329.5 111.2)">L</text>
<text class="m s" transform="matrix(1.07 0 0 0.189 329.5 112.5)">Q</text>
<text class="b s" transform="matrix(1.15 0 0 0.233 329.5 114.1)">K</text>
<text class="r s" transform="matrix(1.25 0 0 0.189 329.5 115.4)">E</text>
<text class="k" transform="matrix(1.15 0 0 0.378 329.5 118.0)">A</text>
<text class="m" transform="matrix(1.07 0 0 0.291 329.5 120.0)">Q</text>
<text class="m s" transform="matrix(1.15 0 0 0.218 329.5 121.5)">N</text>
<text class="g s" transform="matrix(1.07 0 0 0.189 329.5 122.8)">G</text>
<text class="r t" transform="matrix(1.15 0 0 0.109 329.5 123.5)">D</text>
<text class="b t" transform="matrix(1.15 0 0 0.109 329.5 124.3)">R</text>
<text class="g t" transform="matrix(1.37 0 0 0.145 329.5 125.3)">T</text>
</g>
<text transform="translate(336.22,126.9) rotate(-90)" class="pn" text-anchor="end">13</text>
<g transform="rotate(.1 342.2 110.7)">
<text class="b" transform="matrix(1.15 0 0 1.017 338.0 103.0)">K</text>
<text class="b" transform="matrix(1.15 0 0 0.581 338.0 107.0)">R</text>
<text class="g" transform="matrix(1.07 0 0 0.436 338.0 110.0)">G</text>
<text class="k" transform="matrix(1.07 0 0 0.625 338.0 114.3)">O</text>
<text class="g s" transform="matrix(1.07 0 0 0.247 338.0 116.0)">G</text>
<text class="r s" transform="matrix(1.25 0 0 0.218 338.0 117.5)">E</text>
<text class="k" transform="matrix(1.37 0 0 0.334 338.0 119.8)">L</text>
<text class="m" transform="matrix(1.07 0 0 0.291 338.0 121.8)">Q</text>
<text class="m s" transform="matrix(1.15 0 0 0.218 338.0 123.3)">N</text>
<text class="b t" transform="matrix(1.15 0 0 0.109 338.0 124.0)">H</text>
<text class="g t" transform="matrix(1.25 0 0 0.182 338.0 125.3)">Y</text>
</g>
<text transform="translate(344.82,126.9) rotate(-90)" class="pn" text-anchor="end">14</text>
<g transform="rotate(.1 350.7 110.7)">
<text class="b" transform="matrix(1.15 0 0 0.581 346.5 100.0)">K</text>
<text class="g" transform="matrix(1.25 0 0 0.349 346.5 102.4)">S</text>
<text class="b" transform="matrix(1.15 0 0 0.480 346.5 105.7)">R</text>
<text class="g" transform="matrix(1.25 0 0 0.291 346.5 107.7)">Y</text>
<text class="k" transform="matrix(1.25 0 0 0.770 346.5 113.0)">X</text>
<text class="g" transform="matrix(1.07 0 0 0.291 346.5 115.0)">G</text>
<text class="r" transform="matrix(1.25 0 0 0.378 346.5 117.6)">E</text>
<text class="m" transform="matrix(1.07 0 0 0.363 346.5 120.1)">Q</text>
<text class="m s" transform="matrix(1.15 0 0 0.218 346.5 121.6)">N</text>
<text class="b s" transform="matrix(1.15 0 0 0.189 346.5 122.9)">K</text>
<text class="m t" transform="matrix(1.15 0 0 0.109 346.5 123.6)">N</text>
<text class="g t" transform="matrix(1.15 0 0 0.109 346.5 124.4)">C</text>
<text class="m t" transform="matrix(1.07 0 0 0.131 346.5 125.3)">Q</text>
</g>
<text transform="translate(353.43,126.9) rotate(-90)" class="pn" text-anchor="end">15</text>
<g transform="rotate(.1 359.2 110.7)">
<text class="g" transform="matrix(1.25 0 0 0.392 355.1 98.7)">S</text>
<text class="k" transform="matrix(1.07 0 0 0.727 355.1 103.7)">O</text>
<text class="g" transform="matrix(1.25 0 0 0.378 355.1 106.3)">Y</text>
<text class="b" transform="matrix(1.15 0 0 0.538 355.1 110.0)">R</text>
<text class="g" transform="matrix(1.07 0 0 0.291 355.1 112.0)">G</text>
<text class="r s" transform="matrix(1.25 0 0 0.189 355.1 113.3)">E</text>
<text class="k" transform="matrix(1.07 0 0 0.436 355.1 116.3)">O</text>
<text class="r s" transform="matrix(1.25 0 0 0.189 355.1 117.6)">E</text>
<text class="m" transform="matrix(1.07 0 0 0.363 355.1 120.1)">Q</text>
<text class="m s" transform="matrix(1.15 0 0 0.218 355.1 121.6)">N</text>
<text class="m s" transform="matrix(1.15 0 0 0.189 355.1 122.9)">N</text>
<text class="k t" transform="matrix(0.88 0 0 0.109 355.1 123.6)">W</text>
<text class="r t" transform="matrix(1.15 0 0 0.109 355.1 124.4)">D</text>
<text class="r t" transform="matrix(1.25 0 0 0.131 355.1 125.3)">E</text>
</g>
<text transform="translate(362.04,126.9) rotate(-90)" class="pn" text-anchor="end">16</text>
<g transform="rotate(.1 367.8 110.7)">
<text class="b" transform="matrix(1.15 0 0 0.480 363.6 99.3)">R</text>
<text class="k s" transform="matrix(1.37 0 0 0.247 363.6 101.0)">L</text>
<text class="k" transform="matrix(1.15 0 0 0.770 363.6 106.3)">A</text>
<text class="b" transform="matrix(1.15 0 0 0.392 363.6 109.0)">R</text>
<text class="g" transform="matrix(1.07 0 0 0.581 363.6 113.0)">G</text>
<text class="r s" transform="matrix(1.25 0 0 0.189 363.6 114.3)">E</text>
<text class="g s" transform="matrix(1.07 0 0 0.189 363.6 115.6)">G</text>
<text class="r s" transform="matrix(1.15 0 0 0.247 363.6 117.3)">D</text>
<text class="m" transform="matrix(1.07 0 0 0.363 363.6 119.8)">Q</text>
<text class="m s" transform="matrix(1.15 0 0 0.218 363.6 121.3)">N</text>
<text class="b s" transform="matrix(1.15 0 0 0.189 363.6 122.6)">R</text>
<text class="m t" transform="matrix(1.15 0 0 0.109 363.6 123.3)">N</text>
<text class="m t" transform="matrix(1.07 0 0 0.109 363.6 124.1)">Q</text>
<text class="r t" transform="matrix(1.25 0 0 0.174 363.6 125.3)">E</text>
</g>
<text transform="translate(370.65,126.9) rotate(-90)" class="pn" text-anchor="end">17</text>
<g transform="rotate(.1 376.3 110.7)">
<text class="b" transform="matrix(1.15 0 0 0.436 372.1 99.0)">K</text>
<text class="g" transform="matrix(1.25 0 0 0.392 372.1 101.7)">S</text>
<text class="k s" transform="matrix(1.15 0 0 0.247 372.1 103.4)">A</text>
<text class="g" transform="matrix(1.07 0 0 0.334 372.1 105.7)">G</text>
<text class="k s" transform="matrix(1.37 0 0 0.233 372.1 107.3)">L</text>
<text class="b" transform="matrix(1.15 0 0 0.291 372.1 109.3)">R</text>
<text class="r s" transform="matrix(1.25 0 0 0.233 372.1 110.9)">E</text>
<text class="k s" transform="matrix(1.37 0 0 0.233 372.1 112.5)">L</text>
<text class="g s" transform="matrix(1.07 0 0 0.247 372.1 114.2)">G</text>
<text class="r" transform="matrix(1.15 0 0 0.334 372.1 116.5)">D</text>
<text class="m" transform="matrix(1.07 0 0 0.363 372.1 119.0)">Q</text>
<text class="m s" transform="matrix(1.15 0 0 0.218 372.1 120.5)">N</text>
<text class="m s" transform="matrix(1.07 0 0 0.189 372.1 121.8)">Q</text>
<text class="r s" transform="matrix(1.25 0 0 0.189 372.1 123.1)">E</text>
<text class="b t" transform="matrix(1.15 0 0 0.109 372.1 123.8)">K</text>
<text class="r t" transform="matrix(1.15 0 0 0.109 372.1 124.6)">D</text>
<text class="b t" transform="matrix(1.15 0 0 0.102 372.1 125.3)">R</text>
</g>
<text transform="translate(379.26,126.9) rotate(-90)" class="pn" text-anchor="end">18</text>
<g transform="rotate(.1 384.9 110.7)">
<text class="g" transform="matrix(1.25 0 0 0.480 380.7 99.3)">S</text>
<text class="b" transform="matrix(1.15 0 0 0.378 380.7 101.9)">K</text>
<text class="k" transform="matrix(1.37 0 0 0.567 380.7 105.8)">F</text>
<text class="g" transform="matrix(1.25 0 0 0.378 380.7 108.4)">Y</text>
<text class="b s" transform="matrix(1.15 0 0 0.276 380.7 110.3)">R</text>
<text class="r s" transform="matrix(1.25 0 0 0.233 380.7 111.9)">E</text>
<text class="g s" transform="matrix(1.07 0 0 0.189 380.7 113.2)">G</text>
<text class="k s" transform="matrix(1.15 0 0 0.247 380.7 114.9)">A</text>
<text class="g s" transform="matrix(1.07 0 0 0.189 380.7 116.2)">G</text>
<text class="m" transform="matrix(1.07 0 0 0.480 380.7 119.5)">Q</text>
<text class="m s" transform="matrix(1.15 0 0 0.218 380.7 121.0)">N</text>
<text class="r s" transform="matrix(1.15 0 0 0.189 380.7 122.3)">D</text>
<text class="g t" transform="matrix(1.37 0 0 0.109 380.7 123.0)">T</text>
<text class="b t" transform="matrix(1.15 0 0 0.109 380.7 123.8)">H</text>
<text class="g t" transform="matrix(1.25 0 0 0.109 380.7 124.5)">Y</text>
<text class="k t" transform="matrix(1.00 0 0 0.109 380.7 125.3)">M</text>
</g>
<text transform="translate(387.86,126.9) rotate(-90)" class="pn" text-anchor="end">19</text>
<g transform="rotate(.1 393.4 110.7)">
<text class="b" transform="matrix(1.15 0 0 0.523 389.2 99.6)">R</text>
<text class="g" transform="matrix(1.25 0 0 0.480 389.2 102.9)">S</text>
<text class="k" transform="matrix(1.37 0 0 0.480 389.2 106.2)">L</text>
<text class="b" transform="matrix(1.15 0 0 0.436 389.2 109.2)">K</text>
<text class="g" transform="matrix(1.07 0 0 0.291 389.2 111.2)">G</text>
<text class="m" transform="matrix(1.07 0 0 0.770 389.2 116.5)">Q</text>
<text class="g s" transform="matrix(1.07 0 0 0.145 389.2 117.5)">G</text>
<text class="r" transform="matrix(1.25 0 0 0.422 389.2 120.4)">E</text>
<text class="m s" transform="matrix(1.15 0 0 0.218 389.2 121.9)">N</text>
<text class="m s" transform="matrix(1.07 0 0 0.174 389.2 123.1)">Q</text>
<text class="k t" transform="matrix(1.00 0 0 0.109 389.2 123.8)">M</text>
<text class="m t" transform="matrix(1.15 0 0 0.109 389.2 124.6)">N</text>
<text class="g t" transform="matrix(1.15 0 0 0.102 389.2 125.3)">C</text>
</g>
<text transform="translate(396.47,126.9) rotate(-90)" class="pn" text-anchor="end">20</text>
<g transform="rotate(.1 401.9 110.7)">
<text class="b" transform="matrix(1.15 0 0 0.625 397.8 100.3)">K</text>
<text class="k" transform="matrix(1.15 0 0 0.640 397.8 104.7)">A</text>
<text class="g" transform="matrix(1.07 0 0 0.392 397.8 107.4)">G</text>
<text class="k s" transform="matrix(1.37 0 0 0.247 397.8 109.1)">L</text>
<text class="r" transform="matrix(1.25 0 0 0.291 397.8 111.1)">E</text>
<text class="g" transform="matrix(1.07 0 0 0.392 397.8 113.8)">G</text>
<text class="k s" transform="matrix(1.37 0 0 0.233 397.8 115.4)">L</text>
<text class="m s" transform="matrix(1.07 0 0 0.189 397.8 116.7)">Q</text>
<text class="b" transform="matrix(1.15 0 0 0.291 397.8 118.7)">K</text>
<text class="m s" transform="matrix(1.15 0 0 0.218 397.8 120.2)">N</text>
<text class="r s" transform="matrix(1.25 0 0 0.189 397.8 121.5)">E</text>
<text class="b s" transform="matrix(1.15 0 0 0.189 397.8 122.8)">R</text>
<text class="m t" transform="matrix(1.07 0 0 0.109 397.8 123.5)">Q</text>
<text class="k t" transform="matrix(0.88 0 0 0.109 397.8 124.3)">W</text>
<text class="r t" transform="matrix(1.15 0 0 0.145 397.8 125.3)">D</text>
</g>
<text transform="translate(405.08,126.9) rotate(-90)" class="pn" text-anchor="end">21</text>
<text x="223.7" y="132" class="nc" text-anchor="middle">N</text>
<text x="409.8" y="133" class="cc" text-anchor="middle">C</text>
<text x="413" y="135.6" class="wl" text-anchor="end">weblogo.berkeley.edu</text>
<g transform="rotate(.1 26.4 247.1)">
<text class="g" transform="matrix(1.25 0 0 0.567 22.2 235.8)">S</text>
<text class="r" transform="matrix(1.25 0 0 0.436 22.2 238.8)">E</text>
<text class="k s" transform="matrix(1.37 0 0 0.247 22.2 240.5)">L</text>
<text class="r s" transform="matrix(1.25 0 0 0.247 22.2 242.2)">E</text>
<text class="k s" transform="matrix(1.15 0 0 0.247 22.2 243.9)">A</text>
<text class="b" transform="matrix(1.15 0 0 0.436 22.2 246.9)">K</text>
<text class="g s" transform="matrix(1.07 0 0 0.189 22.2 248.2)">G</text>
<text class="k" transform="matrix(1.07 0 0 0.436 22.2 251.2)">O</text>
<text class="k s" transform="matrix(1.37 0 0 0.174 22.2 252.4)">L</text>
<text class="m s" transform="matrix(1.07 0 0 0.247 22.2 254.1)">Q</text>
<text class="g s" transform="matrix(1.07 0 0 0.218 22.2 255.6)">G</text>
<text class="m s" transform="matrix(1.07 0 0 0.218 22.2 257.1)">Q</text>
<text class="m s" transform="matrix(1.15 0 0 0.218 22.2 258.6)">N</text>
<text class="b s" transform="matrix(1.15 0 0 0.189 22.2 259.9)">K</text>
<text class="m t" transform="matrix(1.15 0 0 0.109 22.2 260.6)">N</text>
<text class="m t" transform="matrix(1.07 0 0 0.109 22.2 261.4)">Q</text>
<text class="r t" transform="matrix(1.25 0 0 0.109 22.2 262.1)">E</text>
</g>
<text transform="translate(28.12,263.8) rotate(-90)" class="pn" text-anchor="end">1</text>
<g transform="rotate(.1 34.9 247.1)">
<text class="g" transform="matrix(1.25 0 0 0.567 30.7 235.8)">S</text>
<text class="r" transform="matrix(1.25 0 0 0.436 30.7 238.8)">E</text>
<text class="k s" transform="matrix(1.37 0 0 0.131 30.7 239.7)">L</text>
<text class="b" transform="matrix(1.15 0 0 0.378 30.7 242.3)">R</text>
<text class="r s" transform="matrix(1.25 0 0 0.247 30.7 244.0)">E</text>
<text class="g s" transform="matrix(1.07 0 0 0.247 30.7 245.7)">G</text>
<text class="k" transform="matrix(1.07 0 0 0.494 30.7 249.1)">O</text>
<text class="g s" transform="matrix(1.07 0 0 0.262 30.7 250.9)">G</text>
<text class="k s" transform="matrix(1.37 0 0 0.233 30.7 252.5)">L</text>
<text class="m" transform="matrix(1.07 0 0 0.494 30.7 255.9)">Q</text>
<text class="m s" transform="matrix(1.15 0 0 0.218 30.7 257.4)">N</text>
<text class="m s" transform="matrix(1.15 0 0 0.189 30.7 258.7)">N</text>
<text class="r s" transform="matrix(1.15 0 0 0.189 30.7 260.0)">D</text>
<text class="b t" transform="matrix(1.15 0 0 0.109 30.7 260.8)">K</text>
<text class="r t" transform="matrix(1.15 0 0 0.109 30.7 261.5)">D</text>
<text class="b t" transform="matrix(1.15 0 0 0.102 30.7 262.2)">R</text>
</g>
<text transform="translate(36.72,263.8) rotate(-90)" class="pn" text-anchor="end">2</text>
<g transform="rotate(.1 43.4 247.1)">
<text class="g" transform="matrix(1.25 0 0 0.567 39.3 235.8)">S</text>
<text class="r" transform="matrix(1.25 0 0 0.436 39.3 238.8)">E</text>
<text class="k s" transform="matrix(1.37 0 0 0.233 39.3 240.4)">L</text>
<text class="b" transform="matrix(1.15 0 0 0.320 39.3 242.6)">R</text>
<text class="r s" transform="matrix(1.25 0 0 0.233 39.3 244.2)">E</text>
<text class="b s" transform="matrix(1.15 0 0 0.247 39.3 245.9)">K</text>
<text class="k" transform="matrix(1.07 0 0 0.567 39.3 249.8)">O</text>
<text class="g s" transform="matrix(1.07 0 0 0.247 39.3 251.5)">G</text>
<text class="k s" transform="matrix(1.37 0 0 0.203 39.3 252.9)">L</text>
<text class="m" transform="matrix(1.07 0 0 0.363 39.3 255.4)">Q</text>
<text class="m s" transform="matrix(1.15 0 0 0.218 39.3 256.9)">N</text>
<text class="b s" transform="matrix(1.15 0 0 0.189 39.3 258.2)">R</text>
<text class="m s" transform="matrix(1.07 0 0 0.189 39.3 259.5)">Q</text>
<text class="g t" transform="matrix(1.37 0 0 0.109 39.3 260.2)">T</text>
<text class="b t" transform="matrix(1.15 0 0 0.109 39.3 261.0)">H</text>
<text class="g t" transform="matrix(1.25 0 0 0.174 39.3 262.2)">Y</text>
</g>
<text transform="translate(45.32,263.8) rotate(-90)" class="pn" text-anchor="end">3</text>
<g transform="rotate(.1 52.0 247.1)">
<text class="r" transform="matrix(1.25 0 0 0.494 47.8 235.3)">E</text>
<text class="g" transform="matrix(1.25 0 0 0.436 47.8 238.3)">S</text>
<text class="r" transform="matrix(1.25 0 0 0.305 47.8 240.4)">E</text>
<text class="b" transform="matrix(1.15 0 0 0.320 47.8 242.6)">R</text>
<text class="k s" transform="matrix(1.37 0 0 0.247 47.8 244.3)">L</text>
<text class="k" transform="matrix(1.15 0 0 0.363 47.8 246.8)">A</text>
<text class="g" transform="matrix(1.07 0 0 0.305 47.8 248.9)">G</text>
<text class="b" transform="matrix(1.15 0 0 0.378 47.8 251.5)">K</text>
<text class="m" transform="matrix(1.07 0 0 0.378 47.8 254.1)">Q</text>
<text class="m s" transform="matrix(1.15 0 0 0.218 47.8 255.6)">N</text>
<text class="m s" transform="matrix(1.07 0 0 0.189 47.8 256.9)">Q</text>
<text class="r s" transform="matrix(1.25 0 0 0.189 47.8 258.2)">E</text>
<text class="b s" transform="matrix(1.15 0 0 0.189 47.8 259.5)">R</text>
<text class="k t" transform="matrix(1.00 0 0 0.109 47.8 260.2)">M</text>
<text class="m t" transform="matrix(1.15 0 0 0.109 47.8 261.0)">N</text>
<text class="g t" transform="matrix(1.15 0 0 0.174 47.8 262.2)">C</text>
</g>
<text transform="translate(53.93,263.8) rotate(-90)" class="pn" text-anchor="end">4</text>
<g transform="rotate(.1 60.5 247.1)">
<text class="r" transform="matrix(1.25 0 0 0.494 56.3 235.3)">E</text>
<text class="g" transform="matrix(1.25 0 0 0.494 56.3 238.7)">S</text>
<text class="r s" transform="matrix(1.25 0 0 0.247 56.3 240.4)">E</text>
<text class="b" transform="matrix(1.15 0 0 0.494 56.3 243.8)">K</text>
<text class="g s" transform="matrix(1.07 0 0 0.247 56.3 245.5)">G</text>
<text class="k" transform="matrix(1.37 0 0 0.378 56.3 248.1)">L</text>
<text class="k s" transform="matrix(1.15 0 0 0.247 56.3 249.8)">A</text>
<text class="b" transform="matrix(1.15 0 0 0.305 56.3 251.9)">K</text>
<text class="m" transform="matrix(1.07 0 0 0.363 56.3 254.4)">Q</text>
<text class="m s" transform="matrix(1.15 0 0 0.218 56.3 255.9)">N</text>
<text class="r s" transform="matrix(1.15 0 0 0.189 56.3 257.2)">D</text>
<text class="b s" transform="matrix(1.15 0 0 0.189 56.3 258.5)">H</text>
<text class="g s" transform="matrix(1.37 0 0 0.189 56.3 259.8)">T</text>
<text class="m t" transform="matrix(1.07 0 0 0.109 56.3 260.6)">Q</text>
<text class="k t" transform="matrix(0.88 0 0 0.109 56.3 261.3)">W</text>
<text class="r t" transform="matrix(1.15 0 0 0.131 56.3 262.2)">D</text>
</g>
<text transform="translate(62.53,263.8) rotate(-90)" class="pn" text-anchor="end">5</text>
<g transform="rotate(.1 69.0 247.1)">
<text class="r" transform="matrix(1.25 0 0 0.494 64.9 235.3)">E</text>
<text class="g" transform="matrix(1.25 0 0 0.494 64.9 238.7)">S</text>
<text class="r" transform="matrix(1.25 0 0 0.305 64.9 240.8)">E</text>
<text class="k" transform="matrix(1.15 0 0 0.378 64.9 243.4)">A</text>
<text class="g" transform="matrix(1.07 0 0 0.378 64.9 246.0)">G</text>
<text class="b s" transform="matrix(1.15 0 0 0.247 64.9 247.7)">K</text>
<text class="g s" transform="matrix(1.07 0 0 0.247 64.9 249.4)">G</text>
<text class="b" transform="matrix(1.15 0 0 0.683 64.9 254.1)">R</text>
<text class="m" transform="matrix(1.07 0 0 0.363 64.9 256.6)">Q</text>
<text class="m s" transform="matrix(1.15 0 0 0.218 64.9 258.1)">N</text>
<text class="m s" transform="matrix(1.07 0 0 0.189 64.9 259.4)">Q</text>
<text class="r t" transform="matrix(1.25 0 0 0.109 64.9 260.1)">E</text>
<text class="m t" transform="matrix(1.15 0 0 0.109 64.9 260.9)">N</text>
<text class="m t" transform="matrix(1.07 0 0 0.109 64.9 261.6)">Q</text>
<text class="r t" transform="matrix(1.25 0 0 0.080 64.9 262.2)">E</text>
</g>
<text transform="translate(71.13,263.8) rotate(-90)" class="pn" text-anchor="end">6</text>
<g transform="rotate(.1 77.6 247.1)">
<text class="r" transform="matrix(1.25 0 0 0.494 73.4 235.3)">E</text>
<text class="g" transform="matrix(1.25 0 0 0.494 73.4 238.7)">S</text>
<text class="r s" transform="matrix(1.25 0 0 0.247 73.4 240.4)">E</text>
<text class="g s" transform="matrix(1.07 0 0 0.247 73.4 242.1)">G</text>
<text class="k" transform="matrix(1.37 0 0 0.610 73.4 246.3)">L</text>
<text class="g s" transform="matrix(1.07 0 0 0.247 73.4 248.0)">G</text>
<text class="b" transform="matrix(1.15 0 0 0.494 73.4 251.4)">K</text>
<text class="m" transform="matrix(1.07 0 0 0.363 73.4 253.9)">Q</text>
<text class="m s" transform="matrix(1.15 0 0 0.218 73.4 255.4)">N</text>
<text class="r s" transform="matrix(1.25 0 0 0.174 73.4 256.6)">E</text>
<text class="r s" transform="matrix(1.25 0 0 0.189 73.4 257.9)">E</text>
<text class="b s" transform="matrix(1.15 0 0 0.189 73.4 259.2)">R</text>
<text class="r t" transform="matrix(1.25 0 0 0.109 73.4 259.9)">E</text>
<text class="b t" transform="matrix(1.15 0 0 0.109 73.4 260.7)">K</text>
<text class="r t" transform="matrix(1.15 0 0 0.109 73.4 261.4)">D</text>
<text class="b t" transform="matrix(1.15 0 0 0.109 73.4 262.2)">R</text>
</g>
<text transform="translate(79.74,263.8) rotate(-90)" class="pn" text-anchor="end">7</text>
<g transform="rotate(.1 86.1 247.1)">
<text class="r" transform="matrix(1.25 0 0 0.494 81.9 235.3)">E</text>
<text class="g" transform="matrix(1.25 0 0 0.494 81.9 238.7)">S</text>
<text class="r" transform="matrix(1.25 0 0 0.378 81.9 241.3)">E</text>
<text class="g" transform="matrix(1.07 0 0 0.305 81.9 243.4)">G</text>
<text class="k s" transform="matrix(1.37 0 0 0.247 81.9 245.1)">L</text>
<text class="b" transform="matrix(1.15 0 0 0.363 81.9 247.6)">R</text>
<text class="k" transform="matrix(1.07 0 0 0.494 81.9 251.0)">O</text>
<text class="m" transform="matrix(1.07 0 0 0.480 81.9 254.3)">Q</text>
<text class="m s" transform="matrix(1.15 0 0 0.218 81.9 255.8)">N</text>
<text class="b s" transform="matrix(1.15 0 0 0.189 81.9 257.1)">H</text>
<text class="g s" transform="matrix(1.37 0 0 0.189 81.9 258.4)">T</text>
<text class="g s" transform="matrix(1.25 0 0 0.189 81.9 259.7)">S</text>
<text class="b t" transform="matrix(1.15 0 0 0.109 81.9 260.5)">R</text>
<text class="g t" transform="matrix(1.37 0 0 0.109 81.9 261.2)">T</text>
<text class="b t" transform="matrix(1.15 0 0 0.145 81.9 262.2)">H</text>
</g>
<text transform="translate(88.34,263.8) rotate(-90)" class="pn" text-anchor="end">8</text>
<g transform="rotate(.1 94.6 247.1)">
<text class="g" transform="matrix(1.25 0 0 0.625 90.5 236.2)">S</text>
<text class="r" transform="matrix(1.25 0 0 0.436 90.5 239.2)">E</text>
<text class="r" transform="matrix(1.15 0 0 0.567 90.5 243.1)">D</text>
<text class="k s" transform="matrix(1.37 0 0 0.189 90.5 244.4)">L</text>
<text class="k" transform="matrix(1.15 0 0 0.305 90.5 246.5)">A</text>
<text class="g" transform="matrix(1.07 0 0 0.320 90.5 248.7)">G</text>
<text class="b" transform="matrix(1.15 0 0 0.436 90.5 251.7)">K</text>
<text class="m" transform="matrix(1.07 0 0 0.494 90.5 255.1)">Q</text>
<text class="m s" transform="matrix(1.15 0 0 0.218 90.5 256.6)">N</text>
<text class="b s" transform="matrix(1.15 0 0 0.189 90.5 257.9)">K</text>
<text class="r s" transform="matrix(1.25 0 0 0.189 90.5 259.2)">E</text>
<text class="g t" transform="matrix(1.25 0 0 0.109 90.5 260.0)">Y</text>
<text class="k t" transform="matrix(1.00 0 0 0.109 90.5 260.7)">M</text>
<text class="m t" transform="matrix(1.15 0 0 0.109 90.5 261.5)">N</text>
<text class="g t" transform="matrix(1.15 0 0 0.109 90.5 262.2)">C</text>
</g>
<text transform="translate(96.94,263.8) rotate(-90)" class="pn" text-anchor="end">9</text>
<g transform="rotate(.1 103.2 247.1)">
<text class="r" transform="matrix(1.15 0 0 0.683 99.0 236.6)">D</text>
<text class="g" transform="matrix(1.25 0 0 0.436 99.0 239.6)">S</text>
<text class="r" transform="matrix(1.25 0 0 0.436 99.0 242.6)">E</text>
<text class="k" transform="matrix(1.37 0 0 0.305 99.0 244.7)">L</text>
<text class="g" transform="matrix(1.07 0 0 0.305 99.0 246.8)">G</text>
<text class="k" transform="matrix(1.25 0 0 0.436 99.0 249.8)">X</text>
<text class="b" transform="matrix(1.15 0 0 0.320 99.0 252.0)">K</text>
<text class="m" transform="matrix(1.07 0 0 0.320 99.0 254.2)">Q</text>
<text class="m s" transform="matrix(1.15 0 0 0.218 99.0 255.7)">N</text>
<text class="b s" transform="matrix(1.15 0 0 0.189 99.0 257.0)">R</text>
<text class="g s" transform="matrix(1.07 0 0 0.189 99.0 258.3)">G</text>
<text class="m s" transform="matrix(1.15 0 0 0.189 99.0 259.6)">N</text>
<text class="g t" transform="matrix(1.15 0 0 0.109 99.0 260.3)">C</text>
<text class="m t" transform="matrix(1.07 0 0 0.109 99.0 261.1)">Q</text>
<text class="k t" transform="matrix(0.88 0 0 0.160 99.0 262.2)">W</text>
</g>
<text transform="translate(105.55,263.8) rotate(-90)" class="pn" text-anchor="end">10</text>
<g transform="rotate(.1 111.7 247.1)">
<text class="g" transform="matrix(1.25 0 0 3.852 107.5 258.4)">S</text>
<text class="m s" transform="matrix(1.07 0 0 0.218 107.5 259.9)">Q</text>
<text class="m s" transform="matrix(1.15 0 0 0.145 107.5 260.9)">N</text>
<text class="r t" transform="matrix(1.15 0 0 0.109 107.5 261.6)">D</text>
<text class="r t" transform="matrix(1.25 0 0 0.080 107.5 262.2)">E</text>
</g>
<text transform="translate(114.15,263.8) rotate(-90)" class="pn" text-anchor="end">11</text>
<g transform="rotate(.1 120.2 247.1)">
<text class="r" transform="matrix(1.15 0 0 1.047 116.1 239.1)">D</text>
<text class="r" transform="matrix(1.25 0 0 0.901 116.1 245.3)">E</text>
<text class="g" transform="matrix(1.25 0 0 0.436 116.1 248.3)">S</text>
<text class="g" transform="matrix(1.07 0 0 0.363 116.1 250.8)">G</text>
<text class="k s" transform="matrix(1.37 0 0 0.247 116.1 252.5)">L</text>
<text class="m" transform="matrix(1.07 0 0 0.320 116.1 254.7)">Q</text>
<text class="b s" transform="matrix(1.15 0 0 0.218 116.1 256.2)">K</text>
<text class="m s" transform="matrix(1.15 0 0 0.218 116.1 257.7)">N</text>
<text class="r s" transform="matrix(1.25 0 0 0.189 116.1 259.0)">E</text>
<text class="b s" transform="matrix(1.15 0 0 0.145 116.1 260.0)">K</text>
<text class="m t" transform="matrix(1.07 0 0 0.109 116.1 260.7)">Q</text>
<text class="r t" transform="matrix(1.25 0 0 0.109 116.1 261.5)">E</text>
<text class="b t" transform="matrix(1.15 0 0 0.102 116.1 262.2)">K</text>
</g>
<text transform="translate(122.75,263.8) rotate(-90)" class="pn" text-anchor="end">12</text>
<g transform="rotate(.1 128.8 247.1)">
<text class="r" transform="matrix(1.25 0 0 0.930 124.6 238.3)">E</text>
<text class="r" transform="matrix(1.15 0 0 0.683 124.6 243.0)">D</text>
<text class="g" transform="matrix(1.25 0 0 0.436 124.6 246.0)">S</text>
<text class="g" transform="matrix(1.07 0 0 0.378 124.6 248.6)">G</text>
<text class="k s" transform="matrix(1.37 0 0 0.262 124.6 250.4)">L</text>
<text class="k s" transform="matrix(1.15 0 0 0.218 124.6 251.9)">A</text>
<text class="m" transform="matrix(1.07 0 0 0.363 124.6 254.4)">Q</text>
<text class="b s" transform="matrix(1.15 0 0 0.218 124.6 255.9)">K</text>
<text class="m s" transform="matrix(1.15 0 0 0.218 124.6 257.4)">N</text>
<text class="g s" transform="matrix(1.07 0 0 0.189 124.6 258.7)">G</text>
<text class="m s" transform="matrix(1.15 0 0 0.189 124.6 260.0)">N</text>
<text class="r t" transform="matrix(1.15 0 0 0.109 124.6 260.8)">D</text>
<text class="b t" transform="matrix(1.15 0 0 0.109 124.6 261.5)">R</text>
<text class="g t" transform="matrix(1.37 0 0 0.102 124.6 262.2)">T</text>
</g>
<text transform="translate(131.36,263.8) rotate(-90)" class="pn" text-anchor="end">13</text>
<g transform="rotate(.1 137.3 247.1)">
<text class="r" transform="matrix(1.25 0 0 0.930 133.1 238.3)">E</text>
<text class="r" transform="matrix(1.25 0 0 0.858 133.1 244.2)">E</text>
<text class="r" transform="matrix(1.15 0 0 0.988 133.1 251.0)">D</text>
<text class="g s" transform="matrix(1.07 0 0 0.247 133.1 252.7)">G</text>
<text class="m" transform="matrix(1.07 0 0 0.363 133.1 255.2)">Q</text>
<text class="m s" transform="matrix(1.15 0 0 0.218 133.1 256.7)">N</text>
<text class="b s" transform="matrix(1.15 0 0 0.218 133.1 258.2)">K</text>
<text class="g s" transform="matrix(1.25 0 0 0.189 133.1 259.5)">S</text>
<text class="b t" transform="matrix(1.15 0 0 0.109 133.1 260.3)">H</text>
<text class="g t" transform="matrix(1.25 0 0 0.109 133.1 261.0)">Y</text>
<text class="k t" transform="matrix(1.00 0 0 0.174 133.1 262.2)">M</text>
</g>
<text transform="translate(139.96,263.8) rotate(-90)" class="pn" text-anchor="end">14</text>
<g transform="rotate(.1 145.8 247.1)">
<text class="r" transform="matrix(1.25 0 0 0.930 141.7 238.3)">E</text>
<text class="r" transform="matrix(1.15 0 0 0.625 141.7 242.6)">D</text>
<text class="g" transform="matrix(1.25 0 0 0.494 141.7 246.0)">S</text>
<text class="k" transform="matrix(1.25 0 0 0.683 141.7 250.7)">X</text>
<text class="b" transform="matrix(1.15 0 0 0.436 141.7 253.7)">K</text>
<text class="m" transform="matrix(1.07 0 0 0.334 141.7 256.0)">Q</text>
<text class="m s" transform="matrix(1.15 0 0 0.218 141.7 257.5)">N</text>
<text class="b s" transform="matrix(1.15 0 0 0.189 141.7 258.8)">K</text>
<text class="m s" transform="matrix(1.07 0 0 0.174 141.7 260.0)">Q</text>
<text class="m t" transform="matrix(1.15 0 0 0.109 141.7 260.8)">N</text>
<text class="g t" transform="matrix(1.15 0 0 0.109 141.7 261.5)">C</text>
<text class="m t" transform="matrix(1.07 0 0 0.102 141.7 262.2)">Q</text>
</g>
<text transform="translate(148.56,263.8) rotate(-90)" class="pn" text-anchor="end">15</text>
<g transform="rotate(.1 154.4 247.1)">
<text class="r" transform="matrix(1.25 0 0 0.930 150.2 238.3)">E</text>
<text class="r" transform="matrix(1.15 0 0 0.625 150.2 242.6)">D</text>
<text class="g" transform="matrix(1.07 0 0 0.436 150.2 245.6)">G</text>
<text class="k s" transform="matrix(1.15 0 0 0.218 150.2 247.1)">A</text>
<text class="b" transform="matrix(1.15 0 0 0.567 150.2 251.0)">K</text>
<text class="k s" transform="matrix(1.37 0 0 0.247 150.2 252.7)">L</text>
<text class="m" transform="matrix(1.07 0 0 0.363 150.2 255.2)">Q</text>
<text class="m s" transform="matrix(1.15 0 0 0.218 150.2 256.7)">N</text>
<text class="m s" transform="matrix(1.15 0 0 0.189 150.2 258.0)">N</text>
<text class="r s" transform="matrix(1.15 0 0 0.189 150.2 259.3)">D</text>
<text class="k t" transform="matrix(0.88 0 0 0.109 150.2 260.1)">W</text>
<text class="r t" transform="matrix(1.15 0 0 0.109 150.2 260.8)">D</text>
<text class="r t" transform="matrix(1.25 0 0 0.109 150.2 261.6)">E</text>
<text class="m t" transform="matrix(1.15 0 0 0.094 150.2 262.2)">N</text>
</g>
<text transform="translate(157.17,263.8) rotate(-90)" class="pn" text-anchor="end">16</text>
<g transform="rotate(.1 162.9 247.1)">
<text class="r" transform="matrix(1.25 0 0 0.625 158.7 236.2)">E</text>
<text class="r" transform="matrix(1.15 0 0 0.683 158.7 240.9)">D</text>
<text class="g" transform="matrix(1.25 0 0 0.610 158.7 245.1)">S</text>
<text class="b s" transform="matrix(1.15 0 0 0.247 158.7 246.8)">K</text>
<text class="m s" transform="matrix(1.07 0 0 0.218 158.7 248.3)">Q</text>
<text class="k" transform="matrix(1.37 0 0 0.291 158.7 250.3)">L</text>
<text class="k s" transform="matrix(1.15 0 0 0.218 158.7 251.8)">A</text>
<text class="b s" transform="matrix(1.15 0 0 0.247 158.7 253.5)">K</text>
<text class="m" transform="matrix(1.07 0 0 0.334 158.7 255.8)">Q</text>
<text class="m s" transform="matrix(1.15 0 0 0.218 158.7 257.3)">N</text>
<text class="b s" transform="matrix(1.15 0 0 0.189 158.7 258.6)">R</text>
<text class="m s" transform="matrix(1.07 0 0 0.189 158.7 259.9)">Q</text>
<text class="m t" transform="matrix(1.15 0 0 0.109 158.7 260.6)">N</text>
<text class="m t" transform="matrix(1.07 0 0 0.109 158.7 261.4)">Q</text>
<text class="r t" transform="matrix(1.25 0 0 0.109 158.7 262.1)">E</text>
</g>
<text transform="translate(165.77,263.8) rotate(-90)" class="pn" text-anchor="end">17</text>
<g transform="rotate(.1 171.4 247.1)">
<text class="r" transform="matrix(1.15 0 0 0.930 167.3 238.3)">D</text>
<text class="r s" transform="matrix(1.25 0 0 0.174 167.3 239.5)">E</text>
<text class="g" transform="matrix(1.25 0 0 0.305 167.3 241.6)">S</text>
<text class="k" transform="matrix(1.37 0 0 0.422 167.3 244.5)">L</text>
<text class="g" transform="matrix(1.07 0 0 0.305 167.3 246.6)">G</text>
<text class="b" transform="matrix(1.15 0 0 0.436 167.3 249.6)">R</text>
<text class="k" transform="matrix(1.37 0 0 0.291 167.3 251.6)">L</text>
<text class="m" transform="matrix(1.07 0 0 0.320 167.3 253.8)">Q</text>
<text class="b s" transform="matrix(1.15 0 0 0.218 167.3 255.3)">K</text>
<text class="m s" transform="matrix(1.15 0 0 0.218 167.3 256.8)">N</text>
<text class="m s" transform="matrix(1.07 0 0 0.189 167.3 258.1)">Q</text>
<text class="r s" transform="matrix(1.25 0 0 0.189 167.3 259.4)">E</text>
<text class="b t" transform="matrix(1.15 0 0 0.109 167.3 260.1)">K</text>
<text class="r t" transform="matrix(1.15 0 0 0.109 167.3 260.9)">D</text>
<text class="b t" transform="matrix(1.15 0 0 0.109 167.3 261.6)">R</text>
<text class="g t" transform="matrix(1.37 0 0 0.080 167.3 262.2)">T</text>
</g>
<text transform="translate(174.37,263.8) rotate(-90)" class="pn" text-anchor="end">18</text>
<g transform="rotate(.1 180.0 247.1)">
<text class="r" transform="matrix(1.25 0 0 0.494 175.8 235.3)">E</text>
<text class="g" transform="matrix(1.25 0 0 0.494 175.8 238.7)">S</text>
<text class="r s" transform="matrix(1.25 0 0 0.247 175.8 240.4)">E</text>
<text class="k" transform="matrix(1.07 0 0 0.552 175.8 244.2)">O</text>
<text class="g s" transform="matrix(1.07 0 0 0.247 175.8 245.9)">G</text>
<text class="b" transform="matrix(1.15 0 0 0.436 175.8 248.9)">R</text>
<text class="k s" transform="matrix(1.37 0 0 0.262 175.8 250.7)">L</text>
<text class="m" transform="matrix(1.07 0 0 0.334 175.8 253.0)">Q</text>
<text class="b s" transform="matrix(1.15 0 0 0.218 175.8 254.5)">K</text>
<text class="m s" transform="matrix(1.15 0 0 0.218 175.8 256.0)">N</text>
<text class="r s" transform="matrix(1.15 0 0 0.189 175.8 257.3)">D</text>
<text class="b s" transform="matrix(1.15 0 0 0.189 175.8 258.6)">H</text>
<text class="g s" transform="matrix(1.37 0 0 0.189 175.8 259.9)">T</text>
<text class="g t" transform="matrix(1.37 0 0 0.109 175.8 260.7)">T</text>
<text class="b t" transform="matrix(1.15 0 0 0.109 175.8 261.4)">H</text>
<text class="g t" transform="matrix(1.25 0 0 0.109 175.8 262.2)">Y</text>
</g>
<text transform="translate(182.98,263.8) rotate(-90)" class="pn" text-anchor="end">19</text>
<g transform="rotate(.1 188.5 247.1)">
<text class="r" transform="matrix(1.25 0 0 0.436 184.3 234.9)">E</text>
<text class="g" transform="matrix(1.25 0 0 0.436 184.3 237.9)">S</text>
<text class="r" transform="matrix(1.25 0 0 0.305 184.3 240.0)">E</text>
<text class="k" transform="matrix(1.15 0 0 0.378 184.3 242.6)">A</text>
<text class="b" transform="matrix(1.15 0 0 0.552 184.3 246.4)">R</text>
<text class="k" transform="matrix(1.07 0 0 0.494 184.3 249.8)">O</text>
<text class="b s" transform="matrix(1.15 0 0 0.218 184.3 251.3)">K</text>
<text class="m" transform="matrix(1.07 0 0 0.363 184.3 253.8)">Q</text>
<text class="m s" transform="matrix(1.15 0 0 0.218 184.3 255.3)">N</text>
<text class="m s" transform="matrix(1.07 0 0 0.189 184.3 256.6)">Q</text>
<text class="b s" transform="matrix(1.15 0 0 0.189 184.3 257.9)">K</text>
<text class="r s" transform="matrix(1.25 0 0 0.189 184.3 259.2)">E</text>
<text class="k t" transform="matrix(1.00 0 0 0.109 184.3 260.0)">M</text>
<text class="m t" transform="matrix(1.15 0 0 0.109 184.3 260.7)">N</text>
<text class="g t" transform="matrix(1.15 0 0 0.109 184.3 261.5)">C</text>
<text class="m t" transform="matrix(1.07 0 0 0.109 184.3 262.2)">Q</text>
</g>
<text transform="translate(191.58,263.8) rotate(-90)" class="pn" text-anchor="end">20</text>
<g transform="rotate(.1 197.0 247.1)">
<text class="g" transform="matrix(1.25 0 0 0.392 192.9 234.6)">S</text>
<text class="r" transform="matrix(1.25 0 0 0.436 192.9 237.6)">E</text>
<text class="k" transform="matrix(1.37 0 0 0.392 192.9 240.3)">L</text>
<text class="r" transform="matrix(1.15 0 0 0.436 192.9 243.3)">D</text>
<text class="k" transform="matrix(1.15 0 0 0.392 192.9 246.0)">A</text>
<text class="b s" transform="matrix(1.15 0 0 0.262 192.9 247.8)">K</text>
<text class="k s" transform="matrix(1.37 0 0 0.218 192.9 249.3)">L</text>
<text class="b s" transform="matrix(1.15 0 0 0.262 192.9 251.1)">K</text>
<text class="m" transform="matrix(1.07 0 0 0.349 192.9 253.5)">Q</text>
<text class="g" transform="matrix(1.07 0 0 0.436 192.9 256.5)">G</text>
<text class="r s" transform="matrix(1.25 0 0 0.189 192.9 257.8)">E</text>
<text class="b s" transform="matrix(1.15 0 0 0.189 192.9 259.1)">R</text>
<text class="m t" transform="matrix(1.07 0 0 0.109 192.9 259.9)">Q</text>
<text class="k t" transform="matrix(0.88 0 0 0.109 192.9 260.6)">W</text>
<text class="r t" transform="matrix(1.15 0 0 0.109 192.9 261.4)">D</text>
<text class="r t" transform="matrix(1.25 0 0 0.124 192.9 262.2)">E</text>
</g>
<text transform="translate(200.18,263.8) rotate(-90)" class="pn" text-anchor="end">21</text>
<text x="18.8" y="267.9" class="nc" text-anchor="middle">N</text>
<text x="205.3" y="268.7" class="cc" text-anchor="middle">C</text>
<text x="205.3" y="271.4" class="wl" text-anchor="end">weblogo.berkeley.edu</text>
<g transform="rotate(.1 232.5 246.5)">
<text class="r" transform="matrix(1.25 0 0 0.625 228.3 236.3)">E</text>
<text class="g" transform="matrix(1.25 0 0 0.436 228.3 239.3)">S</text>
<text class="k" transform="matrix(1.15 0 0 0.320 228.3 241.5)">A</text>
<text class="r s" transform="matrix(1.25 0 0 0.247 228.3 243.2)">E</text>
<text class="b" transform="matrix(1.15 0 0 0.305 228.3 245.3)">R</text>
<text class="g s" transform="matrix(1.07 0 0 0.247 228.3 247.0)">G</text>
<text class="m" transform="matrix(1.07 0 0 0.363 228.3 249.5)">Q</text>
<text class="k s" transform="matrix(1.37 0 0 0.247 228.3 251.2)">L</text>
<text class="b" transform="matrix(1.15 0 0 0.378 228.3 253.8)">K</text>
<text class="g s" transform="matrix(1.07 0 0 0.247 228.3 255.5)">G</text>
<text class="m" transform="matrix(1.07 0 0 0.291 228.3 257.5)">Q</text>
<text class="m s" transform="matrix(1.15 0 0 0.218 228.3 259.0)">N</text>
<text class="m t" transform="matrix(1.15 0 0 0.109 228.3 259.7)">N</text>
<text class="m t" transform="matrix(1.07 0 0 0.109 228.3 260.5)">Q</text>
<text class="r t" transform="matrix(1.25 0 0 0.073 228.3 261.0)">E</text>
</g>
<text transform="translate(234.23,262.9) rotate(-90)" class="pn" text-anchor="end">1</text>
<g transform="rotate(.1 241.0 246.5)">
<text class="r" transform="matrix(1.25 0 0 0.625 236.9 236.3)">E</text>
<text class="k" transform="matrix(1.37 0 0 0.567 236.9 240.2)">L</text>
<text class="k" transform="matrix(1.15 0 0 0.378 236.9 242.8)">A</text>
<text class="m" transform="matrix(1.07 0 0 0.305 236.9 244.9)">Q</text>
<text class="g" transform="matrix(1.07 0 0 0.320 236.9 247.1)">G</text>
<text class="k" transform="matrix(1.00 0 0 0.436 236.9 250.1)">M</text>
<text class="r s" transform="matrix(1.25 0 0 0.116 236.9 250.9)">E</text>
<text class="g s" transform="matrix(1.07 0 0 0.247 236.9 252.6)">G</text>
<text class="b" transform="matrix(1.15 0 0 0.305 236.9 254.7)">K</text>
<text class="m" transform="matrix(1.07 0 0 0.291 236.9 256.7)">Q</text>
<text class="m s" transform="matrix(1.15 0 0 0.218 236.9 258.2)">N</text>
<text class="b t" transform="matrix(1.15 0 0 0.109 236.9 258.9)">K</text>
<text class="r t" transform="matrix(1.15 0 0 0.109 236.9 259.7)">D</text>
<text class="b t" transform="matrix(1.15 0 0 0.109 236.9 260.4)">R</text>
<text class="g t" transform="matrix(1.37 0 0 0.080 236.9 261.0)">T</text>
</g>
<text transform="translate(242.87,262.9) rotate(-90)" class="pn" text-anchor="end">2</text>
<g transform="rotate(.1 249.6 246.5)">
<text class="r s" transform="matrix(1.25 0 0 0.247 245.4 233.7)">E</text>
<text class="k" transform="matrix(1.15 0 0 0.363 245.4 236.2)">A</text>
<text class="m" transform="matrix(1.07 0 0 0.305 245.4 238.3)">Q</text>
<text class="g s" transform="matrix(1.07 0 0 0.247 245.4 240.0)">G</text>
<text class="k" transform="matrix(1.25 0 0 0.378 245.4 242.6)">V</text>
<text class="r s" transform="matrix(1.25 0 0 0.189 245.4 243.9)">E</text>
<text class="b s" transform="matrix(1.15 0 0 0.247 245.4 245.6)">K</text>
<text class="m s" transform="matrix(1.07 0 0 0.189 245.4 246.9)">Q</text>
<text class="g" transform="matrix(1.25 0 0 0.625 245.4 251.2)">Y</text>
<text class="k" transform="matrix(1.37 0 0 0.509 245.4 254.7)">L</text>
<text class="m" transform="matrix(1.07 0 0 0.291 245.4 256.7)">Q</text>
<text class="m s" transform="matrix(1.15 0 0 0.218 245.4 258.2)">N</text>
<text class="g t" transform="matrix(1.37 0 0 0.109 245.4 258.9)">T</text>
<text class="b t" transform="matrix(1.15 0 0 0.109 245.4 259.7)">H</text>
<text class="g t" transform="matrix(1.25 0 0 0.109 245.4 260.4)">Y</text>
<text class="k t" transform="matrix(1.00 0 0 0.080 245.4 261.0)">M</text>
</g>
<text transform="translate(251.51,262.9) rotate(-90)" class="pn" text-anchor="end">3</text>
<g transform="rotate(.1 258.2 246.5)">
<text class="r" transform="matrix(1.25 0 0 1.119 254.0 239.7)">E</text>
<text class="k" transform="matrix(1.15 0 0 0.436 254.0 242.7)">A</text>
<text class="g" transform="matrix(1.07 0 0 0.320 254.0 244.9)">G</text>
<text class="k s" transform="matrix(1.37 0 0 0.247 254.0 246.6)">L</text>
<text class="g" transform="matrix(1.07 0 0 0.320 254.0 248.8)">G</text>
<text class="k" transform="matrix(1.37 0 0 0.422 254.0 251.7)">L</text>
<text class="m" transform="matrix(1.07 0 0 0.494 254.0 255.1)">Q</text>
<text class="m s" transform="matrix(1.15 0 0 0.218 254.0 256.6)">N</text>
<text class="m s" transform="matrix(1.07 0 0 0.189 254.0 257.9)">Q</text>
<text class="k t" transform="matrix(1.00 0 0 0.109 254.0 258.6)">M</text>
<text class="m t" transform="matrix(1.15 0 0 0.109 254.0 259.4)">N</text>
<text class="g t" transform="matrix(1.15 0 0 0.109 254.0 260.1)">C</text>
<text class="m t" transform="matrix(1.07 0 0 0.124 254.0 261.0)">Q</text>
</g>
<text transform="translate(260.14,262.9) rotate(-90)" class="pn" text-anchor="end">4</text>
<g transform="rotate(.1 266.8 246.5)">
<text class="r" transform="matrix(1.15 0 0 0.872 262.6 238.0)">D</text>
<text class="g" transform="matrix(1.25 0 0 0.610 262.6 242.2)">S</text>
<text class="g" transform="matrix(1.25 0 0 0.494 262.6 245.6)">Y</text>
<text class="k" transform="matrix(1.07 0 0 0.625 262.6 249.9)">O</text>
<text class="b" transform="matrix(1.15 0 0 0.436 262.6 252.9)">K</text>
<text class="k" transform="matrix(1.37 0 0 0.291 262.6 254.9)">L</text>
<text class="m" transform="matrix(1.07 0 0 0.363 262.6 257.4)">Q</text>
<text class="m s" transform="matrix(1.15 0 0 0.218 262.6 258.9)">N</text>
<text class="m t" transform="matrix(1.07 0 0 0.109 262.6 259.6)">Q</text>
<text class="k t" transform="matrix(0.88 0 0 0.109 262.6 260.4)">W</text>
<text class="r t" transform="matrix(1.15 0 0 0.087 262.6 261.0)">D</text>
</g>
<text transform="translate(268.78,262.9) rotate(-90)" class="pn" text-anchor="end">5</text>
<g transform="rotate(.1 275.3 246.5)">
<text class="r" transform="matrix(1.25 0 0 0.872 271.1 238.0)">E</text>
<text class="g s" transform="matrix(1.07 0 0 0.189 271.1 239.3)">G</text>
<text class="k" transform="matrix(1.07 0 0 1.119 271.1 247.0)">O</text>
<text class="g" transform="matrix(1.07 0 0 0.320 271.1 249.2)">G</text>
<text class="k" transform="matrix(1.07 0 0 0.683 271.1 253.9)">O</text>
<text class="g s" transform="matrix(1.07 0 0 0.233 271.1 255.5)">G</text>
<text class="m" transform="matrix(1.07 0 0 0.363 271.1 258.0)">Q</text>
<text class="m s" transform="matrix(1.15 0 0 0.218 271.1 259.5)">N</text>
<text class="r t" transform="matrix(1.25 0 0 0.109 271.1 260.2)">E</text>
<text class="m t" transform="matrix(1.15 0 0 0.109 271.1 261.0)">N</text>
</g>
<text transform="translate(277.42,262.9) rotate(-90)" class="pn" text-anchor="end">6</text>
<g transform="rotate(.1 283.9 246.5)">
<text class="r" transform="matrix(1.15 0 0 0.872 279.7 238.0)">D</text>
<text class="g" transform="matrix(1.25 0 0 0.305 279.7 240.1)">S</text>
<text class="g" transform="matrix(1.37 0 0 0.814 279.7 245.7)">T</text>
<text class="g s" transform="matrix(1.07 0 0 0.189 279.7 247.0)">G</text>
<text class="k" transform="matrix(1.25 0 0 0.494 279.7 250.4)">V</text>
<text class="b" transform="matrix(1.15 0 0 0.480 279.7 253.7)">K</text>
<text class="g" transform="matrix(1.07 0 0 0.291 279.7 255.7)">G</text>
<text class="m" transform="matrix(1.07 0 0 0.334 279.7 258.0)">Q</text>
<text class="m s" transform="matrix(1.15 0 0 0.218 279.7 259.5)">N</text>
<text class="r t" transform="matrix(1.25 0 0 0.109 279.7 260.2)">E</text>
<text class="b t" transform="matrix(1.15 0 0 0.109 279.7 261.0)">K</text>
</g>
<text transform="translate(286.05,262.9) rotate(-90)" class="pn" text-anchor="end">7</text>
<g transform="rotate(.1 292.5 246.5)">
<text class="r" transform="matrix(1.15 0 0 0.930 288.3 238.4)">D</text>
<text class="r" transform="matrix(1.25 0 0 0.436 288.3 241.4)">E</text>
<text class="g" transform="matrix(1.25 0 0 0.494 288.3 244.8)">S</text>
<text class="g" transform="matrix(1.07 0 0 0.363 288.3 247.3)">G</text>
<text class="m s" transform="matrix(1.07 0 0 0.218 288.3 248.8)">Q</text>
<text class="b" transform="matrix(1.15 0 0 0.436 288.3 251.8)">K</text>
<text class="k s" transform="matrix(1.37 0 0 0.262 288.3 253.6)">L</text>
<text class="g s" transform="matrix(1.07 0 0 0.218 288.3 255.1)">G</text>
<text class="m" transform="matrix(1.07 0 0 0.291 288.3 257.1)">Q</text>
<text class="m s" transform="matrix(1.15 0 0 0.218 288.3 258.6)">N</text>
<text class="b t" transform="matrix(1.15 0 0 0.109 288.3 259.4)">R</text>
<text class="g t" transform="matrix(1.37 0 0 0.109 288.3 260.1)">T</text>
<text class="b t" transform="matrix(1.15 0 0 0.131 288.3 261.0)">H</text>
</g>
<text transform="translate(294.69,262.9) rotate(-90)" class="pn" text-anchor="end">8</text>
<g transform="rotate(.1 301.0 246.5)">
<text class="r" transform="matrix(1.25 0 0 0.625 296.8 236.3)">E</text>
<text class="g s" transform="matrix(1.07 0 0 0.247 296.8 238.0)">G</text>
<text class="g" transform="matrix(1.25 0 0 0.552 296.8 241.8)">S</text>
<text class="r" transform="matrix(1.15 0 0 0.552 296.8 245.6)">D</text>
<text class="k" transform="matrix(1.37 0 0 0.363 296.8 248.1)">L</text>
<text class="g s" transform="matrix(1.07 0 0 0.218 296.8 249.6)">G</text>
<text class="m s" transform="matrix(1.07 0 0 0.218 296.8 251.1)">Q</text>
<text class="b" transform="matrix(1.15 0 0 0.291 296.8 253.1)">K</text>
<text class="k s" transform="matrix(1.37 0 0 0.203 296.8 254.5)">L</text>
<text class="m" transform="matrix(1.07 0 0 0.363 296.8 257.0)">Q</text>
<text class="m s" transform="matrix(1.15 0 0 0.218 296.8 258.5)">N</text>
<text class="g t" transform="matrix(1.25 0 0 0.109 296.8 259.2)">Y</text>
<text class="k t" transform="matrix(1.00 0 0 0.109 296.8 260.0)">M</text>
<text class="m t" transform="matrix(1.15 0 0 0.145 296.8 261.0)">N</text>
</g>
<text transform="translate(303.33,262.9) rotate(-90)" class="pn" text-anchor="end">9</text>
<g transform="rotate(.1 309.6 246.5)">
<text class="r" transform="matrix(1.15 0 0 1.061 305.4 239.3)">D</text>
<text class="r" transform="matrix(1.25 0 0 0.799 305.4 244.8)">E</text>
<text class="g" transform="matrix(1.25 0 0 0.422 305.4 247.7)">Y</text>
<text class="k" transform="matrix(1.37 0 0 0.291 305.4 249.7)">L</text>
<text class="m" transform="matrix(1.07 0 0 0.363 305.4 252.2)">Q</text>
<text class="b" transform="matrix(1.15 0 0 0.363 305.4 254.7)">K</text>
<text class="k s" transform="matrix(1.37 0 0 0.218 305.4 256.2)">L</text>
<text class="m" transform="matrix(1.07 0 0 0.363 305.4 258.7)">Q</text>
<text class="m s" transform="matrix(1.15 0 0 0.218 305.4 260.2)">N</text>
<text class="g t" transform="matrix(1.15 0 0 0.116 305.4 261.0)">C</text>
</g>
<text transform="translate(311.96,262.9) rotate(-90)" class="pn" text-anchor="end">10</text>
<g transform="rotate(.1 318.2 246.5)">
<text class="g" transform="matrix(1.37 0 0 4.215 314.0 261.0)">T</text>
</g>
<text transform="translate(320.6,262.9) rotate(-90)" class="pn" text-anchor="end">11</text>
<g transform="rotate(.1 326.7 246.5)">
<text class="r" transform="matrix(1.15 0 0 1.061 322.5 239.3)">D</text>
<text class="r" transform="matrix(1.25 0 0 0.799 322.5 244.8)">E</text>
<text class="g s" transform="matrix(1.07 0 0 0.247 322.5 246.5)">G</text>
<text class="k" transform="matrix(1.37 0 0 0.305 322.5 248.6)">L</text>
<text class="g" transform="matrix(1.07 0 0 0.320 322.5 250.8)">G</text>
<text class="b" transform="matrix(1.15 0 0 0.291 322.5 252.8)">K</text>
<text class="m" transform="matrix(1.07 0 0 0.363 322.5 255.3)">Q</text>
<text class="k s" transform="matrix(1.37 0 0 0.218 322.5 256.8)">L</text>
<text class="m s" transform="matrix(1.15 0 0 0.218 322.5 258.3)">N</text>
<text class="m t" transform="matrix(1.07 0 0 0.109 322.5 259.0)">Q</text>
<text class="r t" transform="matrix(1.25 0 0 0.109 322.5 259.8)">E</text>
<text class="b t" transform="matrix(1.15 0 0 0.174 322.5 261.0)">K</text>
</g>
<text transform="translate(329.24,262.9) rotate(-90)" class="pn" text-anchor="end">12</text>
<g transform="rotate(.1 335.3 246.5)">
<text class="r" transform="matrix(1.15 0 0 0.683 331.1 236.7)">D</text>
<text class="g" transform="matrix(1.25 0 0 0.494 331.1 240.1)">S</text>
<text class="r" transform="matrix(1.25 0 0 0.378 331.1 242.7)">E</text>
<text class="g s" transform="matrix(1.07 0 0 0.247 331.1 244.4)">G</text>
<text class="k" transform="matrix(1.25 0 0 1.119 331.1 252.1)">X</text>
<text class="b" transform="matrix(1.15 0 0 0.378 331.1 254.7)">K</text>
<text class="m" transform="matrix(1.07 0 0 0.320 331.1 256.9)">Q</text>
<text class="m s" transform="matrix(1.15 0 0 0.218 331.1 258.4)">N</text>
<text class="r t" transform="matrix(1.15 0 0 0.109 331.1 259.1)">D</text>
<text class="b t" transform="matrix(1.15 0 0 0.109 331.1 259.9)">R</text>
<text class="g t" transform="matrix(1.37 0 0 0.160 331.1 261.0)">T</text>
</g>
<text transform="translate(337.87,262.9) rotate(-90)" class="pn" text-anchor="end">13</text>
<g transform="rotate(.1 343.9 246.5)">
<text class="r" transform="matrix(1.25 0 0 1.933 339.7 245.3)">E</text>
<text class="r" transform="matrix(1.15 0 0 0.988 339.7 252.1)">D</text>
<text class="g s" transform="matrix(1.07 0 0 0.247 339.7 253.8)">G</text>
<text class="b s" transform="matrix(1.15 0 0 0.247 339.7 255.5)">K</text>
<text class="m" transform="matrix(1.07 0 0 0.363 339.7 258.0)">Q</text>
<text class="m s" transform="matrix(1.15 0 0 0.218 339.7 259.5)">N</text>
<text class="b t" transform="matrix(1.15 0 0 0.109 339.7 260.2)">H</text>
<text class="g t" transform="matrix(1.25 0 0 0.109 339.7 261.0)">Y</text>
</g>
<text transform="translate(346.51,262.9) rotate(-90)" class="pn" text-anchor="end">14</text>
<g transform="rotate(.1 352.4 246.5)">
<text class="r" transform="matrix(1.25 0 0 0.683 348.2 236.7)">E</text>
<text class="r" transform="matrix(1.15 0 0 0.552 348.2 240.5)">D</text>
<text class="k" transform="matrix(1.15 0 0 0.625 348.2 244.8)">A</text>
<text class="g" transform="matrix(1.07 0 0 0.567 348.2 248.7)">G</text>
<text class="k" transform="matrix(1.37 0 0 0.291 348.2 250.7)">L</text>
<text class="b" transform="matrix(1.15 0 0 0.363 348.2 253.2)">K</text>
<text class="m" transform="matrix(1.07 0 0 0.363 348.2 255.7)">Q</text>
<text class="m s" transform="matrix(1.15 0 0 0.218 348.2 257.2)">N</text>
<text class="g s" transform="matrix(1.07 0 0 0.218 348.2 258.7)">G</text>
<text class="m t" transform="matrix(1.15 0 0 0.109 348.2 259.5)">N</text>
<text class="g t" transform="matrix(1.15 0 0 0.109 348.2 260.2)">C</text>
<text class="m t" transform="matrix(1.07 0 0 0.116 348.2 261.0)">Q</text>
</g>
<text transform="translate(355.15,262.9) rotate(-90)" class="pn" text-anchor="end">15</text>
<g transform="rotate(.1 361.0 246.5)">
<text class="r" transform="matrix(1.25 0 0 0.625 356.8 236.3)">E</text>
<text class="g" transform="matrix(1.25 0 0 0.436 356.8 239.3)">S</text>
<text class="r s" transform="matrix(1.25 0 0 0.247 356.8 241.0)">E</text>
<text class="k" transform="matrix(1.15 0 0 0.378 356.8 243.6)">A</text>
<text class="m" transform="matrix(1.07 0 0 0.320 356.8 245.8)">Q</text>
<text class="g s" transform="matrix(1.07 0 0 0.247 356.8 247.5)">G</text>
<text class="b" transform="matrix(1.15 0 0 0.945 356.8 254.0)">K</text>
<text class="m" transform="matrix(1.07 0 0 0.363 356.8 256.5)">Q</text>
<text class="m s" transform="matrix(1.15 0 0 0.218 356.8 258.0)">N</text>
<text class="k t" transform="matrix(0.88 0 0 0.109 356.8 258.8)">W</text>
<text class="r t" transform="matrix(1.15 0 0 0.109 356.8 259.5)">D</text>
<text class="r t" transform="matrix(1.25 0 0 0.109 356.8 260.2)">E</text>
<text class="m t" transform="matrix(1.15 0 0 0.109 356.8 261.0)">N</text>
</g>
<text transform="translate(363.78,262.9) rotate(-90)" class="pn" text-anchor="end">16</text>
<g transform="rotate(.1 369.6 246.5)">
<text class="r" transform="matrix(1.25 0 0 0.494 365.4 235.4)">E</text>
<text class="b" transform="matrix(1.15 0 0 0.494 365.4 238.8)">K</text>
<text class="r" transform="matrix(1.25 0 0 0.305 365.4 240.9)">E</text>
<text class="k s" transform="matrix(1.37 0 0 0.247 365.4 242.6)">L</text>
<text class="g" transform="matrix(1.07 0 0 0.494 365.4 246.0)">G</text>
<text class="m s" transform="matrix(1.07 0 0 0.189 365.4 247.3)">Q</text>
<text class="m" transform="matrix(1.07 0 0 0.305 365.4 249.4)">Q</text>
<text class="g s" transform="matrix(1.07 0 0 0.247 365.4 251.1)">G</text>
<text class="b" transform="matrix(1.15 0 0 0.494 365.4 254.5)">K</text>
<text class="m" transform="matrix(1.07 0 0 0.291 365.4 256.5)">Q</text>
<text class="m s" transform="matrix(1.15 0 0 0.218 365.4 258.0)">N</text>
<text class="m t" transform="matrix(1.15 0 0 0.109 365.4 258.8)">N</text>
<text class="m t" transform="matrix(1.07 0 0 0.109 365.4 259.5)">Q</text>
<text class="r t" transform="matrix(1.25 0 0 0.109 365.4 260.2)">E</text>
<text class="b t" transform="matrix(1.15 0 0 0.109 365.4 261.0)">K</text>
</g>
<text transform="translate(372.42,262.9) rotate(-90)" class="pn" text-anchor="end">17</text>
<g transform="rotate(.1 378.1 246.5)">
<text class="r" transform="matrix(1.25 0 0 0.494 373.9 235.4)">E</text>
<text class="g" transform="matrix(1.25 0 0 0.436 373.9 238.4)">S</text>
<text class="k" transform="matrix(1.37 0 0 0.305 373.9 240.5)">L</text>
<text class="b" transform="matrix(1.15 0 0 0.552 373.9 244.3)">K</text>
<text class="b" transform="matrix(1.15 0 0 0.378 373.9 246.9)">R</text>
<text class="g" transform="matrix(1.07 0 0 0.305 373.9 249.0)">G</text>
<text class="k s" transform="matrix(1.37 0 0 0.218 373.9 250.5)">L</text>
<text class="m" transform="matrix(1.07 0 0 0.363 373.9 253.0)">Q</text>
<text class="m s" transform="matrix(1.15 0 0 0.218 373.9 254.5)">N</text>
<text class="m s" transform="matrix(1.07 0 0 0.189 373.9 255.8)">Q</text>
<text class="r s" transform="matrix(1.25 0 0 0.189 373.9 257.1)">E</text>
<text class="b s" transform="matrix(1.15 0 0 0.189 373.9 258.4)">R</text>
<text class="b t" transform="matrix(1.15 0 0 0.109 373.9 259.2)">K</text>
<text class="r t" transform="matrix(1.15 0 0 0.109 373.9 259.9)">D</text>
<text class="b t" transform="matrix(1.15 0 0 0.160 373.9 261.0)">R</text>
</g>
<text transform="translate(381.06,262.9) rotate(-90)" class="pn" text-anchor="end">18</text>
<g transform="rotate(.1 386.7 246.5)">
<text class="k" transform="matrix(1.25 0 0 0.567 382.5 235.9)">P</text>
<text class="r" transform="matrix(1.25 0 0 0.305 382.5 238.0)">E</text>
<text class="k" transform="matrix(1.07 0 0 0.872 382.5 244.0)">O</text>
<text class="g" transform="matrix(1.07 0 0 0.305 382.5 246.1)">G</text>
<text class="r s" transform="matrix(1.25 0 0 0.189 382.5 247.4)">E</text>
<text class="k s" transform="matrix(1.37 0 0 0.247 382.5 249.1)">L</text>
<text class="g" transform="matrix(1.07 0 0 0.320 382.5 251.3)">G</text>
<text class="k" transform="matrix(1.07 0 0 0.625 382.5 255.6)">O</text>
<text class="m" transform="matrix(1.07 0 0 0.291 382.5 257.6)">Q</text>
<text class="m s" transform="matrix(1.15 0 0 0.218 382.5 259.1)">N</text>
<text class="g t" transform="matrix(1.37 0 0 0.109 382.5 259.9)">T</text>
<text class="b t" transform="matrix(1.15 0 0 0.167 382.5 261.0)">H</text>
</g>
<text transform="translate(389.69,262.9) rotate(-90)" class="pn" text-anchor="end">19</text>
<g transform="rotate(.1 395.3 246.5)">
<text class="r" transform="matrix(1.25 0 0 0.436 391.1 235.0)">E</text>
<text class="k" transform="matrix(1.37 0 0 0.436 391.1 238.0)">L</text>
<text class="g" transform="matrix(1.07 0 0 0.320 391.1 240.2)">G</text>
<text class="k" transform="matrix(1.07 0 0 1.308 391.1 249.2)">O</text>
<text class="m" transform="matrix(1.07 0 0 0.363 391.1 251.7)">Q</text>
<text class="g" transform="matrix(1.07 0 0 0.291 391.1 253.7)">G</text>
<text class="m" transform="matrix(1.07 0 0 0.291 391.1 255.7)">Q</text>
<text class="m s" transform="matrix(1.15 0 0 0.218 391.1 257.2)">N</text>
<text class="m s" transform="matrix(1.07 0 0 0.189 391.1 258.5)">Q</text>
<text class="k t" transform="matrix(1.00 0 0 0.109 391.1 259.2)">M</text>
<text class="m t" transform="matrix(1.15 0 0 0.109 391.1 260.0)">N</text>
<text class="g t" transform="matrix(1.15 0 0 0.145 391.1 261.0)">C</text>
</g>
<text transform="translate(398.33,262.9) rotate(-90)" class="pn" text-anchor="end">20</text>
<g transform="rotate(.1 403.8 246.5)">
<text class="r" transform="matrix(1.25 0 0 0.480 399.6 235.3)">E</text>
<text class="g s" transform="matrix(1.07 0 0 0.174 399.6 236.5)">G</text>
<text class="r" transform="matrix(1.15 0 0 0.741 399.6 241.6)">D</text>
<text class="k" transform="matrix(1.37 0 0 0.523 399.6 245.2)">L</text>
<text class="g" transform="matrix(1.25 0 0 0.480 399.6 248.5)">Y</text>
<text class="k" transform="matrix(1.25 0 0 0.610 399.6 252.7)">X</text>
<text class="g s" transform="matrix(1.07 0 0 0.189 399.6 254.0)">G</text>
<text class="b s" transform="matrix(1.15 0 0 0.247 399.6 255.7)">K</text>
<text class="m" transform="matrix(1.07 0 0 0.349 399.6 258.1)">Q</text>
<text class="b s" transform="matrix(1.15 0 0 0.218 399.6 259.6)">K</text>
<text class="m t" transform="matrix(1.07 0 0 0.109 399.6 260.3)">Q</text>
<text class="k t" transform="matrix(0.88 0 0 0.094 399.6 261.0)">W</text>
</g>
<text transform="translate(406.97,262.9) rotate(-90)" class="pn" text-anchor="end">21</text>
<text x="224.7" y="267.9" class="nc" text-anchor="middle">N</text>
<text x="411.7" y="268.4" class="cc" text-anchor="middle">C</text>
<text x="413" y="271.2" class="wl" text-anchor="end">weblogo.berkeley.edu</text>
<g transform="rotate(.1 28.2 383.1)">
<text class="g" transform="matrix(1.25 0 0 0.552 24.0 372.4)">S</text>
<text class="k" transform="matrix(1.25 0 0 0.436 24.0 375.4)">P</text>
<text class="g s" transform="matrix(1.07 0 0 0.247 24.0 377.1)">G</text>
<text class="k s" transform="matrix(1.37 0 0 0.247 24.0 378.8)">L</text>
<text class="r s" transform="matrix(1.25 0 0 0.189 24.0 380.1)">E</text>
<text class="b" transform="matrix(1.15 0 0 0.683 24.0 384.8)">R</text>
<text class="r s" transform="matrix(1.25 0 0 0.247 24.0 386.5)">E</text>
<text class="g s" transform="matrix(1.07 0 0 0.189 24.0 387.8)">G</text>
<text class="m s" transform="matrix(1.07 0 0 0.189 24.0 389.1)">Q</text>
<text class="b" transform="matrix(1.15 0 0 0.363 24.0 391.6)">K</text>
<text class="m s" transform="matrix(1.07 0 0 0.218 24.0 393.1)">Q</text>
<text class="m s" transform="matrix(1.15 0 0 0.218 24.0 394.6)">N</text>
<text class="m t" transform="matrix(1.15 0 0 0.109 24.0 395.4)">N</text>
<text class="m t" transform="matrix(1.07 0 0 0.109 24.0 396.1)">Q</text>
<text class="r t" transform="matrix(1.25 0 0 0.109 24.0 396.9)">E</text>
<text class="b t" transform="matrix(1.15 0 0 0.124 24.0 397.7)">K</text>
</g>
<text transform="translate(29.9,399.3) rotate(-90)" class="pn" text-anchor="end">1</text>
<g transform="rotate(.1 36.7 383.1)">
<text class="g" transform="matrix(1.25 0 0 0.552 32.5 372.4)">S</text>
<text class="k" transform="matrix(1.25 0 0 0.436 32.5 375.4)">P</text>
<text class="k" transform="matrix(1.15 0 0 0.625 32.5 379.7)">A</text>
<text class="g s" transform="matrix(1.07 0 0 0.247 32.5 381.4)">G</text>
<text class="r s" transform="matrix(1.25 0 0 0.247 32.5 383.1)">E</text>
<text class="b s" transform="matrix(1.15 0 0 0.247 32.5 384.8)">K</text>
<text class="m" transform="matrix(1.07 0 0 0.422 32.5 387.7)">Q</text>
<text class="b" transform="matrix(1.15 0 0 0.363 32.5 390.2)">K</text>
<text class="m s" transform="matrix(1.07 0 0 0.218 32.5 391.7)">Q</text>
<text class="m s" transform="matrix(1.15 0 0 0.218 32.5 393.2)">N</text>
<text class="m s" transform="matrix(1.15 0 0 0.189 32.5 394.5)">N</text>
<text class="r s" transform="matrix(1.15 0 0 0.145 32.5 395.5)">D</text>
<text class="b t" transform="matrix(1.15 0 0 0.109 32.5 396.2)">K</text>
<text class="r t" transform="matrix(1.15 0 0 0.109 32.5 397.0)">D</text>
<text class="b t" transform="matrix(1.15 0 0 0.102 32.5 397.7)">R</text>
</g>
<text transform="translate(38.48,399.3) rotate(-90)" class="pn" text-anchor="end">2</text>
<g transform="rotate(.1 45.2 383.1)">
<text class="g" transform="matrix(1.25 0 0 0.552 41.0 372.4)">S</text>
<text class="k" transform="matrix(1.25 0 0 0.436 41.0 375.4)">P</text>
<text class="r s" transform="matrix(1.25 0 0 0.247 41.0 377.1)">E</text>
<text class="g" transform="matrix(1.07 0 0 0.363 41.0 379.6)">G</text>
<text class="k" transform="matrix(1.07 0 0 0.625 41.0 383.9)">O</text>
<text class="g s" transform="matrix(1.07 0 0 0.189 41.0 385.2)">G</text>
<text class="r s" transform="matrix(1.25 0 0 0.247 41.0 386.9)">E</text>
<text class="b" transform="matrix(1.15 0 0 0.334 41.0 389.2)">K</text>
<text class="m" transform="matrix(1.07 0 0 0.291 41.0 391.2)">Q</text>
<text class="m s" transform="matrix(1.15 0 0 0.218 41.0 392.7)">N</text>
<text class="b s" transform="matrix(1.15 0 0 0.189 41.0 394.0)">R</text>
<text class="m s" transform="matrix(1.07 0 0 0.189 41.0 395.3)">Q</text>
<text class="g t" transform="matrix(1.37 0 0 0.109 41.0 396.1)">T</text>
<text class="b t" transform="matrix(1.15 0 0 0.109 41.0 396.8)">H</text>
<text class="g t" transform="matrix(1.25 0 0 0.131 41.0 397.7)">Y</text>
</g>
<text transform="translate(47.06,399.3) rotate(-90)" class="pn" text-anchor="end">3</text>
<g transform="rotate(.1 53.7 383.1)">
<text class="g" transform="matrix(1.25 0 0 0.552 49.5 372.4)">S</text>
<text class="k" transform="matrix(1.25 0 0 0.436 49.5 375.4)">P</text>
<text class="g s" transform="matrix(1.07 0 0 0.247 49.5 377.1)">G</text>
<text class="r s" transform="matrix(1.25 0 0 0.247 49.5 378.8)">E</text>
<text class="k" transform="matrix(1.15 0 0 0.436 49.5 381.8)">A</text>
<text class="r s" transform="matrix(1.25 0 0 0.189 49.5 383.1)">E</text>
<text class="b s" transform="matrix(1.15 0 0 0.247 49.5 384.8)">K</text>
<text class="m s" transform="matrix(1.07 0 0 0.247 49.5 386.5)">Q</text>
<text class="k" transform="matrix(1.25 0 0 0.683 49.5 391.2)">X</text>
<text class="m s" transform="matrix(1.07 0 0 0.218 49.5 392.7)">Q</text>
<text class="m s" transform="matrix(1.07 0 0 0.189 49.5 394.0)">Q</text>
<text class="r s" transform="matrix(1.25 0 0 0.189 49.5 395.3)">E</text>
<text class="k t" transform="matrix(1.00 0 0 0.109 49.5 396.1)">M</text>
<text class="m t" transform="matrix(1.15 0 0 0.109 49.5 396.8)">N</text>
<text class="g t" transform="matrix(1.15 0 0 0.131 49.5 397.7)">C</text>
</g>
<text transform="translate(55.64,399.3) rotate(-90)" class="pn" text-anchor="end">4</text>
<g transform="rotate(.1 62.2 383.1)">
<text class="g" transform="matrix(1.25 0 0 0.552 58.0 372.4)">S</text>
<text class="k" transform="matrix(1.25 0 0 0.378 58.0 375.0)">P</text>
<text class="g" transform="matrix(1.07 0 0 0.378 58.0 377.6)">G</text>
<text class="k s" transform="matrix(1.37 0 0 0.247 58.0 379.3)">L</text>
<text class="g s" transform="matrix(1.07 0 0 0.218 58.0 380.8)">G</text>
<text class="r s" transform="matrix(1.25 0 0 0.247 58.0 382.5)">E</text>
<text class="k" transform="matrix(1.15 0 0 0.305 58.0 384.6)">A</text>
<text class="m" transform="matrix(1.07 0 0 0.422 58.0 387.5)">Q</text>
<text class="b" transform="matrix(1.15 0 0 0.363 58.0 390.0)">K</text>
<text class="m" transform="matrix(1.07 0 0 0.291 58.0 392.0)">Q</text>
<text class="m s" transform="matrix(1.15 0 0 0.218 58.0 393.5)">N</text>
<text class="r s" transform="matrix(1.15 0 0 0.189 58.0 394.8)">D</text>
<text class="m t" transform="matrix(1.07 0 0 0.109 58.0 395.6)">Q</text>
<text class="k t" transform="matrix(0.88 0 0 0.109 58.0 396.3)">W</text>
<text class="r t" transform="matrix(1.15 0 0 0.109 58.0 397.1)">D</text>
<text class="r t" transform="matrix(1.25 0 0 0.094 58.0 397.7)">E</text>
</g>
<text transform="translate(64.22,399.3) rotate(-90)" class="pn" text-anchor="end">5</text>
<g transform="rotate(.1 70.7 383.1)">
<text class="g" transform="matrix(1.25 0 0 0.552 66.5 372.4)">S</text>
<text class="g" transform="matrix(1.37 0 0 0.872 66.5 378.4)">T</text>
<text class="k s" transform="matrix(1.15 0 0 0.247 66.5 380.1)">A</text>
<text class="g s" transform="matrix(1.07 0 0 0.247 66.5 381.8)">G</text>
<text class="b s" transform="matrix(1.15 0 0 0.247 66.5 383.5)">K</text>
<text class="g s" transform="matrix(1.07 0 0 0.247 66.5 385.2)">G</text>
<text class="r" transform="matrix(1.25 0 0 0.320 66.5 387.4)">E</text>
<text class="b" transform="matrix(1.15 0 0 0.291 66.5 389.4)">K</text>
<text class="m" transform="matrix(1.07 0 0 0.363 66.5 391.9)">Q</text>
<text class="m s" transform="matrix(1.15 0 0 0.218 66.5 393.4)">N</text>
<text class="m s" transform="matrix(1.07 0 0 0.189 66.5 394.7)">Q</text>
<text class="r t" transform="matrix(1.25 0 0 0.109 66.5 395.4)">E</text>
<text class="m t" transform="matrix(1.15 0 0 0.109 66.5 396.2)">N</text>
<text class="m t" transform="matrix(1.07 0 0 0.109 66.5 396.9)">Q</text>
<text class="r t" transform="matrix(1.25 0 0 0.109 66.5 397.7)">E</text>
</g>
<text transform="translate(72.8,399.3) rotate(-90)" class="pn" text-anchor="end">6</text>
<g transform="rotate(.1 79.2 383.1)">
<text class="g" transform="matrix(1.25 0 0 0.552 75.1 372.4)">S</text>
<text class="k" transform="matrix(1.25 0 0 0.494 75.1 375.8)">P</text>
<text class="r" transform="matrix(1.25 0 0 0.305 75.1 377.9)">E</text>
<text class="k s" transform="matrix(1.37 0 0 0.189 75.1 379.2)">L</text>
<text class="g s" transform="matrix(1.07 0 0 0.189 75.1 380.5)">G</text>
<text class="r s" transform="matrix(1.25 0 0 0.189 75.1 381.8)">E</text>
<text class="b" transform="matrix(1.15 0 0 0.291 75.1 383.8)">K</text>
<text class="g s" transform="matrix(1.07 0 0 0.218 75.1 385.3)">G</text>
<text class="m" transform="matrix(1.07 0 0 0.291 75.1 387.3)">Q</text>
<text class="r s" transform="matrix(1.25 0 0 0.218 75.1 388.8)">E</text>
<text class="b s" transform="matrix(1.15 0 0 0.218 75.1 390.3)">K</text>
<text class="m s" transform="matrix(1.15 0 0 0.218 75.1 391.8)">N</text>
<text class="r s" transform="matrix(1.25 0 0 0.189 75.1 393.1)">E</text>
<text class="b s" transform="matrix(1.15 0 0 0.189 75.1 394.4)">R</text>
<text class="g s" transform="matrix(1.07 0 0 0.160 75.1 395.5)">G</text>
<text class="r t" transform="matrix(1.25 0 0 0.109 75.1 396.3)">E</text>
<text class="b t" transform="matrix(1.15 0 0 0.109 75.1 397.0)">K</text>
<text class="r t" transform="matrix(1.15 0 0 0.102 75.1 397.7)">D</text>
</g>
<text transform="translate(81.38,399.3) rotate(-90)" class="pn" text-anchor="end">7</text>
<g transform="rotate(.1 87.7 383.1)">
<text class="g" transform="matrix(1.25 0 0 0.552 83.6 372.4)">S</text>
<text class="k" transform="matrix(1.25 0 0 0.378 83.6 375.0)">P</text>
<text class="k" transform="matrix(1.15 0 0 0.378 83.6 377.6)">A</text>
<text class="g" transform="matrix(1.07 0 0 0.567 83.6 381.5)">G</text>
<text class="b s" transform="matrix(1.15 0 0 0.247 83.6 383.2)">K</text>
<text class="g s" transform="matrix(1.25 0 0 0.247 83.6 384.9)">Y</text>
<text class="r s" transform="matrix(1.25 0 0 0.189 83.6 386.2)">E</text>
<text class="b s" transform="matrix(1.15 0 0 0.247 83.6 387.9)">K</text>
<text class="m" transform="matrix(1.07 0 0 0.363 83.6 390.4)">Q</text>
<text class="m s" transform="matrix(1.15 0 0 0.218 83.6 391.9)">N</text>
<text class="b s" transform="matrix(1.15 0 0 0.189 83.6 393.2)">H</text>
<text class="g s" transform="matrix(1.37 0 0 0.189 83.6 394.5)">T</text>
<text class="g s" transform="matrix(1.25 0 0 0.145 83.6 395.5)">S</text>
<text class="b t" transform="matrix(1.15 0 0 0.109 83.6 396.2)">R</text>
<text class="g t" transform="matrix(1.37 0 0 0.109 83.6 397.0)">T</text>
<text class="b t" transform="matrix(1.15 0 0 0.102 83.6 397.7)">H</text>
</g>
<text transform="translate(89.96,399.3) rotate(-90)" class="pn" text-anchor="end">8</text>
<g transform="rotate(.1 96.2 383.1)">
<text class="k" transform="matrix(1.25 0 0 1.613 92.1 379.7)">P</text>
<text class="g" transform="matrix(1.25 0 0 0.378 92.1 382.3)">S</text>
<text class="k" transform="matrix(1.15 0 0 0.378 92.1 384.9)">A</text>
<text class="g s" transform="matrix(1.07 0 0 0.174 92.1 386.1)">G</text>
<text class="k s" transform="matrix(1.37 0 0 0.189 92.1 387.4)">L</text>
<text class="b" transform="matrix(1.15 0 0 0.305 92.1 389.5)">K</text>
<text class="m" transform="matrix(1.07 0 0 0.494 92.1 392.9)">Q</text>
<text class="m s" transform="matrix(1.15 0 0 0.218 92.1 394.4)">N</text>
<text class="g s" transform="matrix(1.07 0 0 0.174 92.1 395.6)">G</text>
<text class="g t" transform="matrix(1.25 0 0 0.109 92.1 396.4)">Y</text>
<text class="k t" transform="matrix(1.00 0 0 0.109 92.1 397.1)">M</text>
<text class="m t" transform="matrix(1.15 0 0 0.087 92.1 397.7)">N</text>
</g>
<text transform="translate(98.54,399.3) rotate(-90)" class="pn" text-anchor="end">9</text>
<g transform="rotate(.1 104.7 383.1)">
<text class="k" transform="matrix(1.37 0 0 0.494 100.6 372.0)">L</text>
<text class="g" transform="matrix(1.37 0 0 0.436 100.6 375.0)">T</text>
<text class="g" transform="matrix(1.25 0 0 0.625 100.6 379.3)">S</text>
<text class="g" transform="matrix(1.07 0 0 0.305 100.6 381.4)">G</text>
<text class="k s" transform="matrix(1.37 0 0 0.218 100.6 382.9)">L</text>
<text class="k" transform="matrix(1.07 0 0 0.378 100.6 385.5)">O</text>
<text class="b" transform="matrix(1.15 0 0 0.305 100.6 387.6)">R</text>
<text class="r s" transform="matrix(1.25 0 0 0.189 100.6 388.9)">E</text>
<text class="b" transform="matrix(1.15 0 0 0.363 100.6 391.4)">K</text>
<text class="m" transform="matrix(1.07 0 0 0.363 100.6 393.9)">Q</text>
<text class="m s" transform="matrix(1.15 0 0 0.218 100.6 395.4)">N</text>
<text class="g t" transform="matrix(1.15 0 0 0.109 100.6 396.2)">C</text>
<text class="m t" transform="matrix(1.07 0 0 0.109 100.6 396.9)">Q</text>
<text class="k t" transform="matrix(0.88 0 0 0.109 100.6 397.7)">W</text>
</g>
<text transform="translate(107.12,399.3) rotate(-90)" class="pn" text-anchor="end">10</text>
<g transform="rotate(.1 113.3 383.1)">
<text class="g" transform="matrix(1.25 0 0 3.968 109.1 395.9)">S</text>
<text class="m s" transform="matrix(1.07 0 0 0.145 109.1 396.9)">Q</text>
<text class="m s" transform="matrix(1.15 0 0 0.116 109.1 397.7)">N</text>
</g>
<text transform="translate(115.7,399.3) rotate(-90)" class="pn" text-anchor="end">11</text>
<g transform="rotate(.1 121.8 383.1)">
<text class="k" transform="matrix(1.25 0 0 3.590 117.6 393.3)">P</text>
<text class="m s" transform="matrix(1.07 0 0 0.247 117.6 395.0)">Q</text>
<text class="m s" transform="matrix(1.15 0 0 0.218 117.6 396.5)">N</text>
<text class="b s" transform="matrix(1.15 0 0 0.145 117.6 397.5)">K</text>
<text class="m t" transform="matrix(1.07 0 0 0.029 117.6 397.7)">Q</text>
</g>
<text transform="translate(124.28,399.3) rotate(-90)" class="pn" text-anchor="end">12</text>
<g transform="rotate(.1 130.3 383.1)">
<text class="k" transform="matrix(1.25 0 0 0.363 126.1 371.1)">P</text>
<text class="g" transform="matrix(1.25 0 0 0.567 126.1 375.0)">S</text>
<text class="g" transform="matrix(1.07 0 0 0.625 126.1 379.3)">G</text>
<text class="k s" transform="matrix(1.37 0 0 0.247 126.1 381.0)">L</text>
<text class="g" transform="matrix(1.07 0 0 0.305 126.1 383.1)">G</text>
<text class="b" transform="matrix(1.15 0 0 0.741 126.1 388.2)">R</text>
<text class="r s" transform="matrix(1.25 0 0 0.247 126.1 389.9)">E</text>
<text class="b" transform="matrix(1.15 0 0 0.291 126.1 391.9)">K</text>
<text class="m" transform="matrix(1.07 0 0 0.363 126.1 394.4)">Q</text>
<text class="m s" transform="matrix(1.15 0 0 0.218 126.1 395.9)">N</text>
<text class="r t" transform="matrix(1.15 0 0 0.109 126.1 396.7)">D</text>
<text class="b t" transform="matrix(1.15 0 0 0.153 126.1 397.7)">R</text>
</g>
<text transform="translate(132.86,399.3) rotate(-90)" class="pn" text-anchor="end">13</text>
<g transform="rotate(.1 138.8 383.1)">
<text class="g" transform="matrix(1.25 0 0 0.494 134.6 372.0)">S</text>
<text class="k" transform="matrix(1.25 0 0 0.305 134.6 374.1)">P</text>
<text class="k" transform="matrix(1.07 0 0 1.047 134.6 381.3)">O</text>
<text class="r s" transform="matrix(1.25 0 0 0.189 134.6 382.6)">E</text>
<text class="g s" transform="matrix(1.07 0 0 0.247 134.6 384.3)">G</text>
<text class="m" transform="matrix(1.07 0 0 0.320 134.6 386.5)">Q</text>
<text class="b" transform="matrix(1.15 0 0 0.363 134.6 389.0)">K</text>
<text class="m" transform="matrix(1.07 0 0 0.363 134.6 391.5)">Q</text>
<text class="m s" transform="matrix(1.15 0 0 0.218 134.6 393.0)">N</text>
<text class="g s" transform="matrix(1.25 0 0 0.189 134.6 394.3)">S</text>
<text class="b s" transform="matrix(1.15 0 0 0.174 134.6 395.5)">R</text>
<text class="b t" transform="matrix(1.15 0 0 0.109 134.6 396.2)">H</text>
<text class="g t" transform="matrix(1.25 0 0 0.109 134.6 397.0)">Y</text>
<text class="k t" transform="matrix(1.00 0 0 0.102 134.6 397.7)">M</text>
</g>
<text transform="translate(141.44,399.3) rotate(-90)" class="pn" text-anchor="end">14</text>
<g transform="rotate(.1 147.3 383.1)">
<text class="g" transform="matrix(1.25 0 0 0.494 143.1 372.0)">S</text>
<text class="k" transform="matrix(1.25 0 0 0.305 143.1 374.1)">P</text>
<text class="k" transform="matrix(1.37 0 0 0.625 143.1 378.4)">L</text>
<text class="g" transform="matrix(1.07 0 0 0.305 143.1 380.5)">G</text>
<text class="r s" transform="matrix(1.25 0 0 0.218 143.1 382.0)">E</text>
<text class="b s" transform="matrix(1.15 0 0 0.247 143.1 383.7)">K</text>
<text class="k" transform="matrix(1.07 0 0 0.305 143.1 385.8)">O</text>
<text class="m" transform="matrix(1.07 0 0 0.363 143.1 388.3)">Q</text>
<text class="b s" transform="matrix(1.15 0 0 0.218 143.1 389.8)">K</text>
<text class="m s" transform="matrix(1.15 0 0 0.218 143.1 391.3)">N</text>
<text class="b s" transform="matrix(1.15 0 0 0.189 143.1 392.6)">K</text>
<text class="m s" transform="matrix(1.07 0 0 0.189 143.1 393.9)">Q</text>
<text class="r s" transform="matrix(1.25 0 0 0.189 143.1 395.2)">E</text>
<text class="m t" transform="matrix(1.15 0 0 0.109 143.1 396.0)">N</text>
<text class="g t" transform="matrix(1.15 0 0 0.109 143.1 396.7)">C</text>
<text class="m t" transform="matrix(1.07 0 0 0.145 143.1 397.7)">Q</text>
</g>
<text transform="translate(150.02,399.3) rotate(-90)" class="pn" text-anchor="end">15</text>
<g transform="rotate(.1 155.8 383.1)">
<text class="g" transform="matrix(1.25 0 0 0.494 151.6 372.0)">S</text>
<text class="k" transform="matrix(1.25 0 0 0.305 151.6 374.1)">P</text>
<text class="k" transform="matrix(1.37 0 0 0.625 151.6 378.4)">L</text>
<text class="g s" transform="matrix(1.07 0 0 0.218 151.6 379.9)">G</text>
<text class="k" transform="matrix(1.15 0 0 0.363 151.6 382.4)">A</text>
<text class="r s" transform="matrix(1.25 0 0 0.189 151.6 383.7)">E</text>
<text class="b" transform="matrix(1.15 0 0 0.610 151.6 387.9)">K</text>
<text class="m" transform="matrix(1.07 0 0 0.363 151.6 390.4)">Q</text>
<text class="m s" transform="matrix(1.15 0 0 0.218 151.6 391.9)">N</text>
<text class="m s" transform="matrix(1.15 0 0 0.189 151.6 393.2)">N</text>
<text class="r s" transform="matrix(1.15 0 0 0.189 151.6 394.5)">D</text>
<text class="b s" transform="matrix(1.15 0 0 0.145 151.6 395.5)">H</text>
<text class="k t" transform="matrix(0.88 0 0 0.109 151.6 396.2)">W</text>
<text class="r t" transform="matrix(1.15 0 0 0.109 151.6 397.0)">D</text>
<text class="r t" transform="matrix(1.25 0 0 0.102 151.6 397.7)">E</text>
</g>
<text transform="translate(158.6,399.3) rotate(-90)" class="pn" text-anchor="end">16</text>
<g transform="rotate(.1 164.3 383.1)">
<text class="g" transform="matrix(1.25 0 0 0.610 160.2 372.8)">S</text>
<text class="k" transform="matrix(1.25 0 0 0.494 160.2 376.2)">P</text>
<text class="g" transform="matrix(1.07 0 0 0.305 160.2 378.3)">G</text>
<text class="k" transform="matrix(1.37 0 0 0.305 160.2 380.4)">L</text>
<text class="k" transform="matrix(1.15 0 0 0.320 160.2 382.6)">A</text>
<text class="g s" transform="matrix(1.07 0 0 0.189 160.2 383.9)">G</text>
<text class="b" transform="matrix(1.15 0 0 0.552 160.2 387.7)">R</text>
<text class="m" transform="matrix(1.07 0 0 0.363 160.2 390.2)">Q</text>
<text class="r s" transform="matrix(1.25 0 0 0.218 160.2 391.7)">E</text>
<text class="b s" transform="matrix(1.15 0 0 0.218 160.2 393.2)">K</text>
<text class="m s" transform="matrix(1.15 0 0 0.218 160.2 394.7)">N</text>
<text class="m t" transform="matrix(1.15 0 0 0.109 160.2 395.5)">N</text>
<text class="m t" transform="matrix(1.07 0 0 0.109 160.2 396.2)">Q</text>
<text class="r t" transform="matrix(1.25 0 0 0.109 160.2 397.0)">E</text>
<text class="b t" transform="matrix(1.15 0 0 0.109 160.2 397.7)">K</text>
</g>
<text transform="translate(167.18,399.3) rotate(-90)" class="pn" text-anchor="end">17</text>
<g transform="rotate(.1 172.8 383.1)">
<text class="g" transform="matrix(1.25 0 0 0.610 168.7 372.8)">S</text>
<text class="k" transform="matrix(1.37 0 0 0.436 168.7 375.8)">L</text>
<text class="r" transform="matrix(1.25 0 0 0.378 168.7 378.4)">E</text>
<text class="g" transform="matrix(1.07 0 0 0.305 168.7 380.5)">G</text>
<text class="k" transform="matrix(1.15 0 0 0.378 168.7 383.1)">A</text>
<text class="g s" transform="matrix(1.07 0 0 0.247 168.7 384.8)">G</text>
<text class="b" transform="matrix(1.15 0 0 0.494 168.7 388.2)">R</text>
<text class="m" transform="matrix(1.07 0 0 0.494 168.7 391.6)">Q</text>
<text class="m s" transform="matrix(1.15 0 0 0.218 168.7 393.1)">N</text>
<text class="b s" transform="matrix(1.15 0 0 0.218 168.7 394.6)">K</text>
<text class="b t" transform="matrix(1.15 0 0 0.109 168.7 395.4)">K</text>
<text class="r t" transform="matrix(1.15 0 0 0.109 168.7 396.1)">D</text>
<text class="b t" transform="matrix(1.15 0 0 0.109 168.7 396.9)">R</text>
<text class="g t" transform="matrix(1.37 0 0 0.124 168.7 397.7)">T</text>
</g>
<text transform="translate(175.76,399.3) rotate(-90)" class="pn" text-anchor="end">18</text>
<g transform="rotate(.1 181.3 383.1)">
<text class="g" transform="matrix(1.25 0 0 0.610 177.2 372.8)">S</text>
<text class="k" transform="matrix(1.37 0 0 1.047 177.2 380.0)">L</text>
<text class="k s" transform="matrix(1.15 0 0 0.189 177.2 381.3)">A</text>
<text class="r" transform="matrix(1.25 0 0 0.305 177.2 383.4)">E</text>
<text class="b" transform="matrix(1.15 0 0 0.494 177.2 386.8)">K</text>
<text class="k" transform="matrix(1.25 0 0 0.465 177.2 390.0)">V</text>
<text class="m" transform="matrix(1.07 0 0 0.291 177.2 392.0)">Q</text>
<text class="m s" transform="matrix(1.15 0 0 0.218 177.2 393.5)">N</text>
<text class="r s" transform="matrix(1.15 0 0 0.189 177.2 394.8)">D</text>
<text class="g t" transform="matrix(1.37 0 0 0.109 177.2 395.6)">T</text>
<text class="b t" transform="matrix(1.15 0 0 0.109 177.2 396.3)">H</text>
<text class="g t" transform="matrix(1.25 0 0 0.109 177.2 397.1)">Y</text>
<text class="k t" transform="matrix(1.00 0 0 0.094 177.2 397.7)">M</text>
</g>
<text transform="translate(184.34,399.3) rotate(-90)" class="pn" text-anchor="end">19</text>
<g transform="rotate(.1 189.8 383.1)">
<text class="g" transform="matrix(1.25 0 0 0.552 185.7 372.4)">S</text>
<text class="k" transform="matrix(1.25 0 0 0.625 185.7 376.7)">P</text>
<text class="r" transform="matrix(1.25 0 0 0.305 185.7 378.8)">E</text>
<text class="g s" transform="matrix(1.07 0 0 0.247 185.7 380.5)">G</text>
<text class="b s" transform="matrix(1.15 0 0 0.189 185.7 381.8)">K</text>
<text class="k s" transform="matrix(1.15 0 0 0.247 185.7 383.5)">A</text>
<text class="g s" transform="matrix(1.07 0 0 0.247 185.7 385.2)">G</text>
<text class="r s" transform="matrix(1.25 0 0 0.247 185.7 386.9)">E</text>
<text class="b s" transform="matrix(1.15 0 0 0.247 185.7 388.6)">K</text>
<text class="m" transform="matrix(1.07 0 0 0.363 185.7 391.1)">Q</text>
<text class="m s" transform="matrix(1.15 0 0 0.218 185.7 392.6)">N</text>
<text class="m s" transform="matrix(1.07 0 0 0.189 185.7 393.9)">Q</text>
<text class="b s" transform="matrix(1.15 0 0 0.189 185.7 395.2)">K</text>
<text class="k t" transform="matrix(1.00 0 0 0.109 185.7 396.0)">M</text>
<text class="m t" transform="matrix(1.15 0 0 0.109 185.7 396.7)">N</text>
<text class="g t" transform="matrix(1.15 0 0 0.145 185.7 397.7)">C</text>
</g>
<text transform="translate(192.92,399.3) rotate(-90)" class="pn" text-anchor="end">20</text>
<g transform="rotate(.1 198.3 383.1)">
<text class="g" transform="matrix(1.25 0 0 0.523 194.2 372.2)">S</text>
<text class="k" transform="matrix(1.37 0 0 0.872 194.2 378.2)">L</text>
<text class="g" transform="matrix(1.07 0 0 0.305 194.2 380.3)">G</text>
<text class="k" transform="matrix(1.07 0 0 0.698 194.2 385.1)">O</text>
<text class="k s" transform="matrix(1.37 0 0 0.145 194.2 386.1)">L</text>
<text class="b s" transform="matrix(1.15 0 0 0.218 194.2 387.6)">K</text>
<text class="m" transform="matrix(1.07 0 0 0.480 194.2 390.9)">Q</text>
<text class="r s" transform="matrix(1.25 0 0 0.174 194.2 392.1)">E</text>
<text class="b" transform="matrix(1.15 0 0 0.349 194.2 394.5)">K</text>
<text class="m s" transform="matrix(1.15 0 0 0.218 194.2 396.0)">N</text>
<text class="m t" transform="matrix(1.07 0 0 0.109 194.2 396.8)">Q</text>
<text class="k t" transform="matrix(0.88 0 0 0.138 194.2 397.7)">W</text>
</g>
<text transform="translate(201.5,399.3) rotate(-90)" class="pn" text-anchor="end">21</text>
<text x="20" y="404.4" class="nc" text-anchor="middle">N</text>
<text x="206.6" y="404.9" class="cc" text-anchor="middle">C</text>
<text x="206.6" y="408.1" class="wl" text-anchor="end">weblogo.berkeley.edu</text>
<g transform="rotate(.1 233.0 382.1)">
<text class="g" transform="matrix(1.25 0 0 0.683 228.8 372.0)">S</text>
<text class="k" transform="matrix(1.25 0 0 0.320 228.8 374.2)">P</text>
<text class="k" transform="matrix(1.15 0 0 0.436 228.8 377.2)">A</text>
<text class="g s" transform="matrix(1.07 0 0 0.218 228.8 378.7)">G</text>
<text class="b" transform="matrix(1.15 0 0 0.640 228.8 383.1)">R</text>
<text class="b" transform="matrix(1.15 0 0 0.436 228.8 386.1)">K</text>
<text class="m" transform="matrix(1.07 0 0 0.436 228.8 389.1)">Q</text>
<text class="b s" transform="matrix(1.15 0 0 0.189 228.8 390.4)">K</text>
<text class="m s" transform="matrix(1.07 0 0 0.189 228.8 391.7)">Q</text>
<text class="r s" transform="matrix(1.25 0 0 0.189 228.8 393.0)">E</text>
<text class="b s" transform="matrix(1.15 0 0 0.189 228.8 394.3)">R</text>
<text class="m t" transform="matrix(1.15 0 0 0.109 228.8 395.1)">N</text>
<text class="m t" transform="matrix(1.07 0 0 0.109 228.8 395.8)">Q</text>
<text class="r t" transform="matrix(1.25 0 0 0.145 228.8 396.8)">E</text>
</g>
<text transform="translate(234.74,397.9) rotate(-90)" class="pn" text-anchor="end">1</text>
<g transform="rotate(.1 241.6 382.1)">
<text class="k" transform="matrix(1.25 0 0 0.683 237.4 372.0)">P</text>
<text class="g" transform="matrix(1.25 0 0 0.436 237.4 375.0)">S</text>
<text class="k" transform="matrix(1.15 0 0 0.436 237.4 378.0)">A</text>
<text class="g" transform="matrix(1.07 0 0 0.436 237.4 381.0)">G</text>
<text class="g" transform="matrix(1.37 0 0 0.320 237.4 383.2)">T</text>
<text class="m" transform="matrix(1.07 0 0 0.436 237.4 386.2)">Q</text>
<text class="b" transform="matrix(1.15 0 0 0.291 237.4 388.2)">K</text>
<text class="m s" transform="matrix(1.15 0 0 0.189 237.4 389.5)">N</text>
<text class="r s" transform="matrix(1.15 0 0 0.189 237.4 390.8)">D</text>
<text class="b s" transform="matrix(1.15 0 0 0.189 237.4 392.1)">H</text>
<text class="g s" transform="matrix(1.37 0 0 0.189 237.4 393.4)">T</text>
<text class="g s" transform="matrix(1.25 0 0 0.174 237.4 394.6)">S</text>
<text class="b t" transform="matrix(1.15 0 0 0.109 237.4 395.4)">K</text>
<text class="r t" transform="matrix(1.15 0 0 0.109 237.4 396.1)">D</text>
<text class="b t" transform="matrix(1.15 0 0 0.102 237.4 396.8)">R</text>
</g>
<text transform="translate(243.4,397.9) rotate(-90)" class="pn" text-anchor="end">2</text>
<g transform="rotate(.1 250.2 382.1)">
<text class="k" transform="matrix(1.25 0 0 0.683 246.0 372.0)">P</text>
<text class="g" transform="matrix(1.25 0 0 0.436 246.0 375.0)">S</text>
<text class="g" transform="matrix(1.07 0 0 0.320 246.0 377.2)">G</text>
<text class="m" transform="matrix(1.07 0 0 0.436 246.0 380.2)">Q</text>
<text class="g" transform="matrix(1.07 0 0 0.320 246.0 382.4)">G</text>
<text class="k s" transform="matrix(1.15 0 0 0.218 246.0 383.9)">A</text>
<text class="b" transform="matrix(1.15 0 0 0.436 246.0 386.9)">K</text>
<text class="m" transform="matrix(1.07 0 0 0.291 246.0 388.9)">Q</text>
<text class="b s" transform="matrix(1.15 0 0 0.189 246.0 390.2)">R</text>
<text class="m s" transform="matrix(1.07 0 0 0.189 246.0 391.5)">Q</text>
<text class="b s" transform="matrix(1.15 0 0 0.189 246.0 392.8)">K</text>
<text class="r s" transform="matrix(1.25 0 0 0.189 246.0 394.1)">E</text>
<text class="g t" transform="matrix(1.37 0 0 0.109 246.0 394.9)">T</text>
<text class="b t" transform="matrix(1.15 0 0 0.109 246.0 395.6)">H</text>
<text class="g t" transform="matrix(1.25 0 0 0.174 246.0 396.8)">Y</text>
</g>
<text transform="translate(252.05,397.9) rotate(-90)" class="pn" text-anchor="end">3</text>
<g transform="rotate(.1 258.8 382.1)">
<text class="g" transform="matrix(1.25 0 0 0.683 254.6 372.0)">S</text>
<text class="k" transform="matrix(1.15 0 0 0.436 254.6 375.0)">A</text>
<text class="g" transform="matrix(1.07 0 0 0.320 254.6 377.2)">G</text>
<text class="k s" transform="matrix(1.37 0 0 0.218 254.6 378.7)">L</text>
<text class="b s" transform="matrix(1.15 0 0 0.218 254.6 380.2)">K</text>
<text class="r s" transform="matrix(1.25 0 0 0.218 254.6 381.7)">E</text>
<text class="k" transform="matrix(1.25 0 0 0.320 254.6 383.9)">X</text>
<text class="r" transform="matrix(1.25 0 0 0.436 254.6 386.9)">E</text>
<text class="m" transform="matrix(1.07 0 0 0.291 254.6 388.9)">Q</text>
<text class="m s" transform="matrix(1.07 0 0 0.189 254.6 390.2)">Q</text>
<text class="r s" transform="matrix(1.25 0 0 0.189 254.6 391.5)">E</text>
<text class="b s" transform="matrix(1.15 0 0 0.189 254.6 392.8)">R</text>
<text class="g s" transform="matrix(1.07 0 0 0.189 254.6 394.1)">G</text>
<text class="k t" transform="matrix(1.00 0 0 0.109 254.6 394.9)">M</text>
<text class="m t" transform="matrix(1.15 0 0 0.109 254.6 395.6)">N</text>
<text class="g t" transform="matrix(1.15 0 0 0.174 254.6 396.8)">C</text>
</g>
<text transform="translate(260.71,397.9) rotate(-90)" class="pn" text-anchor="end">4</text>
<g transform="rotate(.1 267.3 382.1)">
<text class="g" transform="matrix(1.25 0 0 0.683 263.1 372.0)">S</text>
<text class="k" transform="matrix(1.25 0 0 0.320 263.1 374.2)">P</text>
<text class="g" transform="matrix(1.07 0 0 0.320 263.1 376.4)">G</text>
<text class="g s" transform="matrix(1.37 0 0 0.218 263.1 377.9)">T</text>
<text class="k s" transform="matrix(1.15 0 0 0.218 263.1 379.4)">A</text>
<text class="k" transform="matrix(1.07 0 0 0.640 263.1 383.8)">O</text>
<text class="r" transform="matrix(1.25 0 0 0.436 263.1 386.8)">E</text>
<text class="m" transform="matrix(1.07 0 0 0.291 263.1 388.8)">Q</text>
<text class="r s" transform="matrix(1.15 0 0 0.189 263.1 390.1)">D</text>
<text class="b s" transform="matrix(1.15 0 0 0.189 263.1 391.4)">H</text>
<text class="g s" transform="matrix(1.37 0 0 0.189 263.1 392.7)">T</text>
<text class="g s" transform="matrix(1.25 0 0 0.189 263.1 394.0)">S</text>
<text class="m t" transform="matrix(1.07 0 0 0.109 263.1 394.8)">Q</text>
<text class="k t" transform="matrix(0.88 0 0 0.109 263.1 395.5)">W</text>
<text class="r t" transform="matrix(1.15 0 0 0.109 263.1 396.2)">D</text>
<text class="r t" transform="matrix(1.25 0 0 0.080 263.1 396.8)">E</text>
</g>
<text transform="translate(269.37,397.9) rotate(-90)" class="pn" text-anchor="end">5</text>
<g transform="rotate(.1 275.9 382.1)">
<text class="k" transform="matrix(1.25 0 0 0.683 271.7 372.0)">P</text>
<text class="g" transform="matrix(1.25 0 0 0.436 271.7 375.0)">S</text>
<text class="g" transform="matrix(1.37 0 0 0.320 271.7 377.2)">T</text>
<text class="k s" transform="matrix(1.15 0 0 0.218 271.7 378.7)">A</text>
<text class="g" transform="matrix(1.25 0 0 0.320 271.7 380.9)">Y</text>
<text class="k" transform="matrix(1.07 0 0 0.320 271.7 383.1)">O</text>
<text class="r" transform="matrix(1.25 0 0 0.436 271.7 386.1)">E</text>
<text class="m" transform="matrix(1.07 0 0 0.291 271.7 388.1)">Q</text>
<text class="m s" transform="matrix(1.07 0 0 0.189 271.7 389.4)">Q</text>
<text class="b s" transform="matrix(1.15 0 0 0.189 271.7 390.7)">K</text>
<text class="r s" transform="matrix(1.25 0 0 0.189 271.7 392.0)">E</text>
<text class="b s" transform="matrix(1.15 0 0 0.189 271.7 393.3)">K</text>
<text class="m s" transform="matrix(1.07 0 0 0.189 271.7 394.6)">Q</text>
<text class="r t" transform="matrix(1.25 0 0 0.109 271.7 395.4)">E</text>
<text class="m t" transform="matrix(1.15 0 0 0.109 271.7 396.1)">N</text>
<text class="m t" transform="matrix(1.07 0 0 0.102 271.7 396.8)">Q</text>
</g>
<text transform="translate(278.02,397.9) rotate(-90)" class="pn" text-anchor="end">6</text>
<g transform="rotate(.1 284.5 382.1)">
<text class="k" transform="matrix(1.25 0 0 0.683 280.3 372.0)">P</text>
<text class="g" transform="matrix(1.25 0 0 0.436 280.3 375.0)">S</text>
<text class="g" transform="matrix(1.07 0 0 0.320 280.3 377.2)">G</text>
<text class="k" transform="matrix(1.25 0 0 0.436 280.3 380.2)">V</text>
<text class="g" transform="matrix(1.07 0 0 0.320 280.3 382.4)">G</text>
<text class="r" transform="matrix(1.25 0 0 0.640 280.3 386.8)">E</text>
<text class="m" transform="matrix(1.07 0 0 0.291 280.3 388.8)">Q</text>
<text class="r s" transform="matrix(1.25 0 0 0.189 280.3 390.1)">E</text>
<text class="b s" transform="matrix(1.15 0 0 0.189 280.3 391.4)">R</text>
<text class="g s" transform="matrix(1.07 0 0 0.189 280.3 392.7)">G</text>
<text class="m s" transform="matrix(1.15 0 0 0.189 280.3 394.0)">N</text>
<text class="r t" transform="matrix(1.25 0 0 0.109 280.3 394.8)">E</text>
<text class="b t" transform="matrix(1.15 0 0 0.109 280.3 395.5)">K</text>
<text class="r t" transform="matrix(1.15 0 0 0.109 280.3 396.2)">D</text>
<text class="b t" transform="matrix(1.15 0 0 0.080 280.3 396.8)">R</text>
</g>
<text transform="translate(286.68,397.9) rotate(-90)" class="pn" text-anchor="end">7</text>
<g transform="rotate(.1 293.1 382.1)">
<text class="k" transform="matrix(1.25 0 0 0.581 288.9 371.3)">P</text>
<text class="g" transform="matrix(1.25 0 0 0.436 288.9 374.3)">S</text>
<text class="k" transform="matrix(1.25 0 0 0.436 288.9 377.3)">V</text>
<text class="g" transform="matrix(1.07 0 0 0.320 288.9 379.5)">G</text>
<text class="k" transform="matrix(1.15 0 0 0.320 288.9 381.7)">A</text>
<text class="r" transform="matrix(1.25 0 0 0.436 288.9 384.7)">E</text>
<text class="m" transform="matrix(1.07 0 0 0.291 288.9 386.7)">Q</text>
<text class="b s" transform="matrix(1.15 0 0 0.189 288.9 388.0)">H</text>
<text class="g s" transform="matrix(1.37 0 0 0.189 288.9 389.3)">T</text>
<text class="g s" transform="matrix(1.25 0 0 0.189 288.9 390.6)">S</text>
<text class="b s" transform="matrix(1.15 0 0 0.189 288.9 391.9)">R</text>
<text class="m s" transform="matrix(1.07 0 0 0.189 288.9 393.2)">Q</text>
<text class="b s" transform="matrix(1.15 0 0 0.189 288.9 394.5)">K</text>
<text class="b t" transform="matrix(1.15 0 0 0.109 288.9 395.3)">R</text>
<text class="g t" transform="matrix(1.37 0 0 0.109 288.9 396.0)">T</text>
<text class="b t" transform="matrix(1.15 0 0 0.116 288.9 396.8)">H</text>
</g>
<text transform="translate(295.33,397.9) rotate(-90)" class="pn" text-anchor="end">8</text>
<g transform="rotate(.1 301.7 382.1)">
<text class="k" transform="matrix(1.25 0 0 1.279 297.5 376.1)">P</text>
<text class="k" transform="matrix(1.15 0 0 0.320 297.5 378.3)">A</text>
<text class="k" transform="matrix(1.07 0 0 0.538 297.5 382.0)">O</text>
<text class="k" transform="matrix(1.25 0 0 0.436 297.5 385.0)">V</text>
<text class="g" transform="matrix(1.07 0 0 0.320 297.5 387.2)">G</text>
<text class="m" transform="matrix(1.07 0 0 0.291 297.5 389.2)">Q</text>
<text class="b s" transform="matrix(1.15 0 0 0.189 297.5 390.5)">K</text>
<text class="r s" transform="matrix(1.25 0 0 0.189 297.5 391.8)">E</text>
<text class="b s" transform="matrix(1.15 0 0 0.189 297.5 393.1)">K</text>
<text class="m s" transform="matrix(1.07 0 0 0.189 297.5 394.4)">Q</text>
<text class="g t" transform="matrix(1.25 0 0 0.109 297.5 395.2)">Y</text>
<text class="k t" transform="matrix(1.00 0 0 0.109 297.5 395.9)">M</text>
<text class="m t" transform="matrix(1.15 0 0 0.131 297.5 396.8)">N</text>
</g>
<text transform="translate(303.99,397.9) rotate(-90)" class="pn" text-anchor="end">9</text>
<g transform="rotate(.1 310.3 382.1)">
<text class="k" transform="matrix(1.37 0 0 0.465 306.1 370.5)">L</text>
<text class="g" transform="matrix(1.25 0 0 0.436 306.1 373.5)">S</text>
<text class="k" transform="matrix(1.07 0 0 0.538 306.1 377.2)">O</text>
<text class="b" transform="matrix(1.15 0 0 0.320 306.1 379.4)">K</text>
<text class="g" transform="matrix(1.07 0 0 0.320 306.1 381.6)">G</text>
<text class="b" transform="matrix(1.15 0 0 0.640 306.1 386.0)">R</text>
<text class="m" transform="matrix(1.07 0 0 0.291 306.1 388.0)">Q</text>
<text class="b s" transform="matrix(1.15 0 0 0.189 306.1 389.3)">R</text>
<text class="g s" transform="matrix(1.07 0 0 0.189 306.1 390.6)">G</text>
<text class="m s" transform="matrix(1.15 0 0 0.189 306.1 391.9)">N</text>
<text class="r s" transform="matrix(1.15 0 0 0.189 306.1 393.2)">D</text>
<text class="b s" transform="matrix(1.15 0 0 0.189 306.1 394.5)">H</text>
<text class="g t" transform="matrix(1.15 0 0 0.109 306.1 395.2)">C</text>
<text class="m t" transform="matrix(1.07 0 0 0.109 306.1 396.0)">Q</text>
<text class="k t" transform="matrix(0.88 0 0 0.109 306.1 396.8)">W</text>
</g>
<text transform="translate(312.64,397.9) rotate(-90)" class="pn" text-anchor="end">10</text>
<g transform="rotate(.1 318.8 382.1)">
<text class="g" transform="matrix(1.37 0 0 4.288 314.7 396.8)">T</text>
</g>
<text transform="translate(321.3,397.9) rotate(-90)" class="pn" text-anchor="end">11</text>
<g transform="rotate(.1 327.4 382.1)">
<text class="k" transform="matrix(1.25 0 0 4.042 323.2 395.1)">P</text>
<text class="m s" transform="matrix(1.07 0 0 0.245 323.2 396.8)">Q</text>
</g>
<text transform="translate(329.96,397.9) rotate(-90)" class="pn" text-anchor="end">12</text>
<g transform="rotate(.1 336.0 382.1)">
<text class="k" transform="matrix(1.25 0 0 0.465 331.8 370.5)">P</text>
<text class="g" transform="matrix(1.25 0 0 0.538 331.8 374.2)">S</text>
<text class="g" transform="matrix(1.07 0 0 0.640 331.8 378.6)">G</text>
<text class="k" transform="matrix(1.07 0 0 0.436 331.8 381.6)">O</text>
<text class="b s" transform="matrix(1.15 0 0 0.218 331.8 383.1)">K</text>
<text class="r" transform="matrix(1.25 0 0 0.436 331.8 386.1)">E</text>
<text class="m" transform="matrix(1.07 0 0 0.291 331.8 388.1)">Q</text>
<text class="g s" transform="matrix(1.07 0 0 0.189 331.8 389.4)">G</text>
<text class="m s" transform="matrix(1.15 0 0 0.189 331.8 390.7)">N</text>
<text class="r s" transform="matrix(1.15 0 0 0.189 331.8 392.0)">D</text>
<text class="b s" transform="matrix(1.15 0 0 0.189 331.8 393.3)">H</text>
<text class="g s" transform="matrix(1.37 0 0 0.189 331.8 394.6)">T</text>
<text class="r t" transform="matrix(1.15 0 0 0.109 331.8 395.4)">D</text>
<text class="b t" transform="matrix(1.15 0 0 0.109 331.8 396.1)">R</text>
<text class="g t" transform="matrix(1.37 0 0 0.102 331.8 396.8)">T</text>
</g>
<text transform="translate(338.61,397.9) rotate(-90)" class="pn" text-anchor="end">13</text>
<g transform="rotate(.1 344.6 382.1)">
<text class="k" transform="matrix(1.25 0 0 0.625 340.4 371.6)">P</text>
<text class="k" transform="matrix(1.15 0 0 0.363 340.4 374.1)">A</text>
<text class="g" transform="matrix(1.25 0 0 0.494 340.4 377.5)">S</text>
<text class="g s" transform="matrix(1.37 0 0 0.247 340.4 379.2)">T</text>
<text class="r" transform="matrix(1.25 0 0 0.363 340.4 381.7)">E</text>
<text class="g" transform="matrix(1.25 0 0 0.494 340.4 385.1)">Y</text>
<text class="b" transform="matrix(1.15 0 0 0.291 340.4 387.1)">R</text>
<text class="m s" transform="matrix(1.07 0 0 0.218 340.4 388.6)">Q</text>
<text class="b s" transform="matrix(1.15 0 0 0.218 340.4 390.1)">K</text>
<text class="g s" transform="matrix(1.25 0 0 0.189 340.4 391.4)">S</text>
<text class="b s" transform="matrix(1.15 0 0 0.189 340.4 392.7)">R</text>
<text class="m s" transform="matrix(1.07 0 0 0.189 340.4 394.0)">Q</text>
<text class="b t" transform="matrix(1.15 0 0 0.109 340.4 394.8)">H</text>
<text class="g t" transform="matrix(1.25 0 0 0.109 340.4 395.5)">Y</text>
<text class="k t" transform="matrix(1.00 0 0 0.109 340.4 396.2)">M</text>
<text class="m t" transform="matrix(1.15 0 0 0.080 340.4 396.8)">N</text>
</g>
<text transform="translate(347.27,397.9) rotate(-90)" class="pn" text-anchor="end">14</text>
<g transform="rotate(.1 353.2 382.1)">
<text class="k" transform="matrix(1.25 0 0 0.625 349.0 371.6)">P</text>
<text class="g" transform="matrix(1.07 0 0 0.363 349.0 374.1)">G</text>
<text class="g" transform="matrix(1.37 0 0 0.363 349.0 376.6)">T</text>
<text class="r" transform="matrix(1.25 0 0 0.291 349.0 378.6)">E</text>
<text class="g s" transform="matrix(1.07 0 0 0.247 349.0 380.3)">G</text>
<text class="k" transform="matrix(1.25 0 0 0.363 349.0 382.8)">V</text>
<text class="b" transform="matrix(1.15 0 0 0.291 349.0 384.8)">R</text>
<text class="r s" transform="matrix(1.25 0 0 0.218 349.0 386.3)">E</text>
<text class="m s" transform="matrix(1.07 0 0 0.218 349.0 387.8)">Q</text>
<text class="b s" transform="matrix(1.15 0 0 0.189 349.0 389.1)">K</text>
<text class="m s" transform="matrix(1.07 0 0 0.189 349.0 390.4)">Q</text>
<text class="r s" transform="matrix(1.25 0 0 0.189 349.0 391.7)">E</text>
<text class="b s" transform="matrix(1.15 0 0 0.189 349.0 393.0)">R</text>
<text class="g s" transform="matrix(1.07 0 0 0.189 349.0 394.3)">G</text>
<text class="m t" transform="matrix(1.15 0 0 0.109 349.0 395.1)">N</text>
<text class="g t" transform="matrix(1.15 0 0 0.109 349.0 395.8)">C</text>
<text class="m t" transform="matrix(1.07 0 0 0.145 349.0 396.8)">Q</text>
</g>
<text transform="translate(355.92,397.9) rotate(-90)" class="pn" text-anchor="end">15</text>
<g transform="rotate(.1 361.8 382.1)">
<text class="k" transform="matrix(1.25 0 0 0.625 357.6 371.6)">P</text>
<text class="g" transform="matrix(1.25 0 0 0.363 357.6 374.1)">S</text>
<text class="k" transform="matrix(1.37 0 0 0.363 357.6 376.6)">L</text>
<text class="g" transform="matrix(1.07 0 0 0.436 357.6 379.6)">G</text>
<text class="k s" transform="matrix(1.15 0 0 0.247 357.6 381.3)">A</text>
<text class="b" transform="matrix(1.15 0 0 0.291 357.6 383.3)">R</text>
<text class="r s" transform="matrix(1.25 0 0 0.218 357.6 384.8)">E</text>
<text class="b s" transform="matrix(1.15 0 0 0.218 357.6 386.3)">K</text>
<text class="m s" transform="matrix(1.07 0 0 0.218 357.6 387.8)">Q</text>
<text class="m s" transform="matrix(1.15 0 0 0.189 357.6 389.1)">N</text>
<text class="r s" transform="matrix(1.15 0 0 0.189 357.6 390.4)">D</text>
<text class="b s" transform="matrix(1.15 0 0 0.189 357.6 391.7)">H</text>
<text class="g s" transform="matrix(1.37 0 0 0.189 357.6 393.0)">T</text>
<text class="g s" transform="matrix(1.25 0 0 0.189 357.6 394.3)">S</text>
<text class="k t" transform="matrix(0.88 0 0 0.109 357.6 395.1)">W</text>
<text class="r t" transform="matrix(1.15 0 0 0.109 357.6 395.8)">D</text>
<text class="r t" transform="matrix(1.25 0 0 0.145 357.6 396.8)">E</text>
</g>
<text transform="translate(364.58,397.9) rotate(-90)" class="pn" text-anchor="end">16</text>
<g transform="rotate(.1 370.4 382.1)">
<text class="k" transform="matrix(1.25 0 0 0.625 366.2 371.6)">P</text>
<text class="k" transform="matrix(1.15 0 0 0.363 366.2 374.1)">A</text>
<text class="g" transform="matrix(1.07 0 0 0.363 366.2 376.6)">G</text>
<text class="k" transform="matrix(1.15 0 0 0.363 366.2 379.1)">A</text>
<text class="m s" transform="matrix(1.07 0 0 0.247 366.2 380.8)">Q</text>
<text class="b" transform="matrix(1.15 0 0 0.291 366.2 382.8)">K</text>
<text class="r s" transform="matrix(1.25 0 0 0.218 366.2 384.3)">E</text>
<text class="b s" transform="matrix(1.15 0 0 0.218 366.2 385.8)">R</text>
<text class="b s" transform="matrix(1.15 0 0 0.189 366.2 387.1)">R</text>
<text class="m s" transform="matrix(1.07 0 0 0.189 366.2 388.4)">Q</text>
<text class="b s" transform="matrix(1.15 0 0 0.189 366.2 389.7)">K</text>
<text class="r s" transform="matrix(1.25 0 0 0.189 366.2 391.0)">E</text>
<text class="b s" transform="matrix(1.15 0 0 0.189 366.2 392.3)">K</text>
<text class="m s" transform="matrix(1.07 0 0 0.189 366.2 393.6)">Q</text>
<text class="r s" transform="matrix(1.25 0 0 0.145 366.2 394.6)">E</text>
<text class="m t" transform="matrix(1.15 0 0 0.109 366.2 395.4)">N</text>
<text class="m t" transform="matrix(1.07 0 0 0.109 366.2 396.1)">Q</text>
<text class="r t" transform="matrix(1.25 0 0 0.102 366.2 396.8)">E</text>
</g>
<text transform="translate(373.23,397.9) rotate(-90)" class="pn" text-anchor="end">17</text>
<g transform="rotate(.1 378.9 382.1)">
<text class="k" transform="matrix(1.25 0 0 0.625 374.8 371.6)">P</text>
<text class="g" transform="matrix(1.25 0 0 0.494 374.8 375.0)">S</text>
<text class="g" transform="matrix(1.07 0 0 0.363 374.8 377.5)">G</text>
<text class="g" transform="matrix(1.25 0 0 0.363 374.8 380.0)">Y</text>
<text class="b" transform="matrix(1.15 0 0 0.291 374.8 382.0)">R</text>
<text class="r s" transform="matrix(1.25 0 0 0.218 374.8 383.5)">E</text>
<text class="m s" transform="matrix(1.07 0 0 0.218 374.8 385.0)">Q</text>
<text class="b s" transform="matrix(1.15 0 0 0.218 374.8 386.5)">K</text>
<text class="m s" transform="matrix(1.07 0 0 0.189 374.8 387.8)">Q</text>
<text class="r s" transform="matrix(1.25 0 0 0.189 374.8 389.1)">E</text>
<text class="b s" transform="matrix(1.15 0 0 0.189 374.8 390.4)">R</text>
<text class="g s" transform="matrix(1.07 0 0 0.189 374.8 391.7)">G</text>
<text class="m s" transform="matrix(1.15 0 0 0.189 374.8 393.0)">N</text>
<text class="r s" transform="matrix(1.15 0 0 0.189 374.8 394.3)">D</text>
<text class="b t" transform="matrix(1.15 0 0 0.109 374.8 395.1)">K</text>
<text class="r t" transform="matrix(1.15 0 0 0.109 374.8 395.8)">D</text>
<text class="b t" transform="matrix(1.15 0 0 0.145 374.8 396.8)">R</text>
</g>
<text transform="translate(381.89,397.9) rotate(-90)" class="pn" text-anchor="end">18</text>
<g transform="rotate(.1 387.5 382.1)">
<text class="k" transform="matrix(1.25 0 0 0.625 383.3 371.6)">P</text>
<text class="g" transform="matrix(1.25 0 0 0.363 383.3 374.1)">S</text>
<text class="k" transform="matrix(1.37 0 0 0.363 383.3 376.6)">L</text>
<text class="g" transform="matrix(1.07 0 0 0.436 383.3 379.6)">G</text>
<text class="k s" transform="matrix(1.15 0 0 0.247 383.3 381.3)">A</text>
<text class="r" transform="matrix(1.25 0 0 0.291 383.3 383.3)">E</text>
<text class="b" transform="matrix(1.15 0 0 0.291 383.3 385.3)">R</text>
<text class="m s" transform="matrix(1.07 0 0 0.218 383.3 386.8)">Q</text>
<text class="r s" transform="matrix(1.15 0 0 0.189 383.3 388.1)">D</text>
<text class="b s" transform="matrix(1.15 0 0 0.189 383.3 389.4)">H</text>
<text class="g s" transform="matrix(1.37 0 0 0.189 383.3 390.7)">T</text>
<text class="g s" transform="matrix(1.25 0 0 0.189 383.3 392.0)">S</text>
<text class="b s" transform="matrix(1.15 0 0 0.189 383.3 393.3)">R</text>
<text class="m s" transform="matrix(1.07 0 0 0.189 383.3 394.6)">Q</text>
<text class="g t" transform="matrix(1.37 0 0 0.109 383.3 395.4)">T</text>
<text class="b t" transform="matrix(1.15 0 0 0.109 383.3 396.1)">H</text>
<text class="g t" transform="matrix(1.25 0 0 0.102 383.3 396.8)">Y</text>
</g>
<text transform="translate(390.55,397.9) rotate(-90)" class="pn" text-anchor="end">19</text>
<g transform="rotate(.1 396.1 382.1)">
<text class="g" transform="matrix(1.25 0 0 0.494 391.9 370.7)">S</text>
<text class="k s" transform="matrix(1.25 0 0 0.247 391.9 372.4)">P</text>
<text class="g" transform="matrix(1.07 0 0 0.363 391.9 374.9)">G</text>
<text class="g" transform="matrix(1.37 0 0 0.436 391.9 377.9)">T</text>
<text class="k" transform="matrix(1.15 0 0 0.363 391.9 380.4)">A</text>
<text class="b" transform="matrix(1.15 0 0 0.291 391.9 382.4)">K</text>
<text class="r s" transform="matrix(1.25 0 0 0.218 391.9 383.9)">E</text>
<text class="m s" transform="matrix(1.07 0 0 0.218 391.9 385.4)">Q</text>
<text class="m s" transform="matrix(1.07 0 0 0.189 391.9 386.7)">Q</text>
<text class="b s" transform="matrix(1.15 0 0 0.189 391.9 388.0)">K</text>
<text class="r s" transform="matrix(1.25 0 0 0.189 391.9 389.3)">E</text>
<text class="b s" transform="matrix(1.15 0 0 0.189 391.9 390.6)">K</text>
<text class="m s" transform="matrix(1.07 0 0 0.189 391.9 391.9)">Q</text>
<text class="r s" transform="matrix(1.25 0 0 0.189 391.9 393.2)">E</text>
<text class="b s" transform="matrix(1.15 0 0 0.189 391.9 394.5)">R</text>
<text class="k t" transform="matrix(1.00 0 0 0.109 391.9 395.3)">M</text>
<text class="m t" transform="matrix(1.15 0 0 0.109 391.9 396.0)">N</text>
<text class="g t" transform="matrix(1.15 0 0 0.109 391.9 396.8)">C</text>
</g>
<text transform="translate(399.2,397.9) rotate(-90)" class="pn" text-anchor="end">20</text>
<g transform="rotate(.1 404.7 382.1)">
<text class="k" transform="matrix(1.25 0 0 0.494 400.5 370.7)">P</text>
<text class="g" transform="matrix(1.25 0 0 0.363 400.5 373.2)">S</text>
<text class="g" transform="matrix(1.07 0 0 0.363 400.5 375.7)">G</text>
<text class="k" transform="matrix(1.15 0 0 0.363 400.5 378.2)">A</text>
<text class="r s" transform="matrix(1.25 0 0 0.247 400.5 379.9)">E</text>
<text class="b" transform="matrix(1.15 0 0 0.291 400.5 381.9)">K</text>
<text class="b s" transform="matrix(1.15 0 0 0.218 400.5 383.4)">R</text>
<text class="m s" transform="matrix(1.07 0 0 0.218 400.5 384.9)">Q</text>
<text class="r s" transform="matrix(1.25 0 0 0.189 400.5 386.2)">E</text>
<text class="b s" transform="matrix(1.15 0 0 0.189 400.5 387.5)">R</text>
<text class="g s" transform="matrix(1.07 0 0 0.189 400.5 388.8)">G</text>
<text class="m s" transform="matrix(1.15 0 0 0.189 400.5 390.1)">N</text>
<text class="r s" transform="matrix(1.15 0 0 0.189 400.5 391.4)">D</text>
<text class="b s" transform="matrix(1.15 0 0 0.189 400.5 392.7)">H</text>
<text class="g s" transform="matrix(1.37 0 0 0.189 400.5 394.0)">T</text>
<text class="m t" transform="matrix(1.07 0 0 0.109 400.5 394.8)">Q</text>
<text class="k t" transform="matrix(0.88 0 0 0.109 400.5 395.5)">W</text>
<text class="r t" transform="matrix(1.15 0 0 0.109 400.5 396.3)">D</text>
<text class="r t" transform="matrix(1.25 0 0 0.080 400.5 396.8)">E</text>
</g>
<text transform="translate(407.86,397.9) rotate(-90)" class="pn" text-anchor="end">21</text>
<text x="225.5" y="402.8" class="nc" text-anchor="middle">N</text>
<text x="411.7" y="404.1" class="cc" text-anchor="middle">C</text>
<text x="413" y="406.4" class="wl" text-anchor="end">weblogo.berkeley.edu</text>
<g transform="rotate(.1 27.4 518.2)">
<text class="g" transform="matrix(1.25 0 0 0.334 23.2 505.9)">S</text>
<text class="k" transform="matrix(1.25 0 0 0.363 23.2 508.4)">P</text>
<text class="g" transform="matrix(1.07 0 0 0.320 23.2 510.6)">G</text>
<text class="b s" transform="matrix(1.15 0 0 0.174 23.2 511.8)">K</text>
<text class="b s" transform="matrix(1.15 0 0 0.276 23.2 513.7)">R</text>
<text class="k s" transform="matrix(1.15 0 0 0.174 23.2 514.9)">A</text>
<text class="r" transform="matrix(1.15 0 0 0.669 23.2 519.5)">D</text>
<text class="k s" transform="matrix(1.37 0 0 0.145 23.2 520.5)">L</text>
<text class="b s" transform="matrix(1.15 0 0 0.233 23.2 522.1)">R</text>
<text class="g s" transform="matrix(1.07 0 0 0.233 23.2 523.7)">G</text>
<text class="g s" transform="matrix(1.37 0 0 0.174 23.2 524.9)">T</text>
<text class="m s" transform="matrix(1.07 0 0 0.218 23.2 526.4)">Q</text>
<text class="r" transform="matrix(1.25 0 0 0.291 23.2 528.4)">E</text>
<text class="m s" transform="matrix(1.15 0 0 0.218 23.2 529.9)">N</text>
<text class="m t" transform="matrix(1.15 0 0 0.109 23.2 530.7)">N</text>
<text class="m t" transform="matrix(1.07 0 0 0.109 23.2 531.4)">Q</text>
<text class="r t" transform="matrix(1.25 0 0 0.109 23.2 532.2)">E</text>
<text class="b t" transform="matrix(1.15 0 0 0.080 23.2 532.7)">K</text>
</g>
<text transform="translate(29.16,534.3) rotate(-90)" class="pn" text-anchor="end">1</text>
<g transform="rotate(.1 36.0 518.2)">
<text class="g" transform="matrix(1.25 0 0 0.334 31.8 505.9)">S</text>
<text class="k" transform="matrix(1.37 0 0 0.320 31.8 508.1)">F</text>
<text class="g" transform="matrix(1.37 0 0 0.349 31.8 510.5)">T</text>
<text class="b" transform="matrix(1.15 0 0 0.581 31.8 514.5)">R</text>
<text class="k" transform="matrix(1.15 0 0 0.291 31.8 516.5)">A</text>
<text class="r" transform="matrix(1.25 0 0 0.291 31.8 518.5)">E</text>
<text class="g" transform="matrix(1.07 0 0 0.378 31.8 521.1)">G</text>
<text class="b s" transform="matrix(1.15 0 0 0.262 31.8 522.9)">R</text>
<text class="k s" transform="matrix(1.15 0 0 0.174 31.8 524.1)">A</text>
<text class="m" transform="matrix(1.07 0 0 0.363 31.8 526.6)">Q</text>
<text class="r s" transform="matrix(1.25 0 0 0.218 31.8 528.1)">E</text>
<text class="m s" transform="matrix(1.15 0 0 0.189 31.8 529.4)">N</text>
<text class="r s" transform="matrix(1.15 0 0 0.160 31.8 530.5)">D</text>
<text class="b t" transform="matrix(1.15 0 0 0.109 31.8 531.2)">K</text>
<text class="r t" transform="matrix(1.15 0 0 0.109 31.8 532.0)">D</text>
<text class="b t" transform="matrix(1.15 0 0 0.102 31.8 532.7)">R</text>
</g>
<text transform="translate(37.84,534.3) rotate(-90)" class="pn" text-anchor="end">2</text>
<g transform="rotate(.1 44.6 518.2)">
<text class="g" transform="matrix(1.25 0 0 0.334 40.4 505.9)">S</text>
<text class="b" transform="matrix(1.15 0 0 0.640 40.4 510.3)">R</text>
<text class="b s" transform="matrix(1.15 0 0 0.145 40.4 511.3)">K</text>
<text class="k" transform="matrix(1.07 0 0 1.017 40.4 518.3)">O</text>
<text class="g" transform="matrix(1.07 0 0 0.363 40.4 520.8)">G</text>
<text class="r" transform="matrix(1.25 0 0 0.363 40.4 523.3)">E</text>
<text class="m" transform="matrix(1.07 0 0 0.363 40.4 525.8)">Q</text>
<text class="r" transform="matrix(1.15 0 0 0.291 40.4 527.8)">D</text>
<text class="b s" transform="matrix(1.15 0 0 0.189 40.4 529.1)">R</text>
<text class="m s" transform="matrix(1.07 0 0 0.189 40.4 530.4)">Q</text>
<text class="g t" transform="matrix(1.37 0 0 0.109 40.4 531.1)">T</text>
<text class="b t" transform="matrix(1.15 0 0 0.109 40.4 531.9)">H</text>
<text class="g t" transform="matrix(1.25 0 0 0.116 40.4 532.7)">Y</text>
</g>
<text transform="translate(46.53,534.3) rotate(-90)" class="pn" text-anchor="end">3</text>
<g transform="rotate(.1 53.2 518.2)">
<text class="g" transform="matrix(1.25 0 0 0.334 49.0 505.9)">S</text>
<text class="b" transform="matrix(1.15 0 0 0.378 49.0 508.5)">R</text>
<text class="g" transform="matrix(1.07 0 0 0.291 49.0 510.5)">G</text>
<text class="k s" transform="matrix(1.15 0 0 0.203 49.0 511.9)">A</text>
<text class="b s" transform="matrix(1.15 0 0 0.189 49.0 513.2)">K</text>
<text class="k" transform="matrix(1.07 0 0 0.610 49.0 517.4)">O</text>
<text class="r s" transform="matrix(1.25 0 0 0.145 49.0 518.4)">E</text>
<text class="m s" transform="matrix(1.07 0 0 0.203 49.0 519.8)">Q</text>
<text class="g s" transform="matrix(1.07 0 0 0.203 49.0 521.2)">G</text>
<text class="m" transform="matrix(1.15 0 0 0.291 49.0 523.2)">N</text>
<text class="r s" transform="matrix(1.25 0 0 0.174 49.0 524.4)">E</text>
<text class="g s" transform="matrix(1.07 0 0 0.189 49.0 525.7)">G</text>
<text class="m s" transform="matrix(1.07 0 0 0.189 49.0 527.0)">Q</text>
<text class="r s" transform="matrix(1.25 0 0 0.189 49.0 528.3)">E</text>
<text class="b s" transform="matrix(1.15 0 0 0.189 49.0 529.6)">R</text>
<text class="g s" transform="matrix(1.07 0 0 0.131 49.0 530.5)">G</text>
<text class="k t" transform="matrix(1.00 0 0 0.109 49.0 531.2)">M</text>
<text class="m t" transform="matrix(1.15 0 0 0.109 49.0 532.0)">N</text>
<text class="g t" transform="matrix(1.15 0 0 0.102 49.0 532.7)">C</text>
</g>
<text transform="translate(55.21,534.3) rotate(-90)" class="pn" text-anchor="end">4</text>
<g transform="rotate(.1 61.9 518.2)">
<text class="g" transform="matrix(1.25 0 0 0.334 57.7 505.9)">S</text>
<text class="b" transform="matrix(1.15 0 0 0.291 57.7 507.9)">K</text>
<text class="k" transform="matrix(1.15 0 0 0.334 57.7 510.2)">A</text>
<text class="g" transform="matrix(1.07 0 0 0.291 57.7 512.2)">G</text>
<text class="b" transform="matrix(1.15 0 0 0.392 57.7 514.9)">R</text>
<text class="r s" transform="matrix(1.25 0 0 0.247 57.7 516.6)">E</text>
<text class="k" transform="matrix(1.07 0 0 0.480 57.7 519.9)">O</text>
<text class="k s" transform="matrix(1.37 0 0 0.174 57.7 521.1)">L</text>
<text class="g s" transform="matrix(1.07 0 0 0.189 57.7 522.4)">G</text>
<text class="m s" transform="matrix(1.07 0 0 0.189 57.7 523.7)">Q</text>
<text class="r s" transform="matrix(1.15 0 0 0.189 57.7 525.0)">D</text>
<text class="b s" transform="matrix(1.15 0 0 0.189 57.7 526.3)">H</text>
<text class="g s" transform="matrix(1.37 0 0 0.189 57.7 527.6)">T</text>
<text class="g s" transform="matrix(1.25 0 0 0.189 57.7 528.9)">S</text>
<text class="b s" transform="matrix(1.15 0 0 0.189 57.7 530.2)">R</text>
<text class="m t" transform="matrix(1.07 0 0 0.109 57.7 530.9)">Q</text>
<text class="k t" transform="matrix(0.88 0 0 0.109 57.7 531.7)">W</text>
<text class="r t" transform="matrix(1.15 0 0 0.145 57.7 532.7)">D</text>
</g>
<text transform="translate(63.89,534.3) rotate(-90)" class="pn" text-anchor="end">5</text>
<g transform="rotate(.1 70.5 518.2)">
<text class="b" transform="matrix(1.15 0 0 0.523 66.3 507.2)">R</text>
<text class="k" transform="matrix(1.37 0 0 0.378 66.3 509.8)">L</text>
<text class="g s" transform="matrix(1.07 0 0 0.174 66.3 511.0)">G</text>
<text class="b" transform="matrix(1.15 0 0 0.291 66.3 513.0)">K</text>
<text class="k" transform="matrix(1.25 0 0 0.436 66.3 516.0)">X</text>
<text class="m s" transform="matrix(1.07 0 0 0.218 66.3 517.5)">Q</text>
<text class="g s" transform="matrix(1.07 0 0 0.203 66.3 518.9)">G</text>
<text class="r s" transform="matrix(1.25 0 0 0.174 66.3 520.1)">E</text>
<text class="b" transform="matrix(1.15 0 0 0.291 66.3 522.1)">K</text>
<text class="g s" transform="matrix(1.07 0 0 0.233 66.3 523.7)">G</text>
<text class="m s" transform="matrix(1.07 0 0 0.189 66.3 525.0)">Q</text>
<text class="b s" transform="matrix(1.15 0 0 0.189 66.3 526.3)">K</text>
<text class="r s" transform="matrix(1.25 0 0 0.189 66.3 527.6)">E</text>
<text class="b s" transform="matrix(1.15 0 0 0.189 66.3 528.9)">K</text>
<text class="m s" transform="matrix(1.07 0 0 0.189 66.3 530.2)">Q</text>
<text class="r t" transform="matrix(1.25 0 0 0.109 66.3 530.9)">E</text>
<text class="m t" transform="matrix(1.15 0 0 0.109 66.3 531.7)">N</text>
<text class="m t" transform="matrix(1.07 0 0 0.145 66.3 532.7)">Q</text>
</g>
<text transform="translate(72.58,534.3) rotate(-90)" class="pn" text-anchor="end">6</text>
<g transform="rotate(.1 79.1 518.2)">
<text class="g" transform="matrix(1.25 0 0 0.378 74.9 506.2)">S</text>
<text class="b" transform="matrix(1.15 0 0 0.770 74.9 511.5)">R</text>
<text class="m" transform="matrix(1.07 0 0 0.349 74.9 513.9)">Q</text>
<text class="k s" transform="matrix(1.15 0 0 0.262 74.9 515.7)">A</text>
<text class="g s" transform="matrix(1.07 0 0 0.203 74.9 517.1)">G</text>
<text class="k" transform="matrix(1.07 0 0 0.596 74.9 521.2)">O</text>
<text class="r s" transform="matrix(1.25 0 0 0.203 74.9 522.6)">E</text>
<text class="g s" transform="matrix(1.07 0 0 0.174 74.9 523.8)">G</text>
<text class="b s" transform="matrix(1.15 0 0 0.174 74.9 525.0)">K</text>
<text class="r s" transform="matrix(1.25 0 0 0.189 74.9 526.3)">E</text>
<text class="b s" transform="matrix(1.15 0 0 0.189 74.9 527.6)">R</text>
<text class="g s" transform="matrix(1.07 0 0 0.189 74.9 528.9)">G</text>
<text class="m s" transform="matrix(1.15 0 0 0.189 74.9 530.2)">N</text>
<text class="r t" transform="matrix(1.25 0 0 0.109 74.9 530.9)">E</text>
<text class="b t" transform="matrix(1.15 0 0 0.109 74.9 531.7)">K</text>
<text class="r t" transform="matrix(1.15 0 0 0.145 74.9 532.7)">D</text>
</g>
<text transform="translate(81.26,534.3) rotate(-90)" class="pn" text-anchor="end">7</text>
<g transform="rotate(.1 87.7 518.2)">
<text class="b" transform="matrix(1.15 0 0 2.427 83.5 520.3)">R</text>
<text class="b" transform="matrix(1.15 0 0 0.785 83.5 525.7)">K</text>
<text class="g s" transform="matrix(1.07 0 0 0.218 83.5 527.2)">G</text>
<text class="k" transform="matrix(1.15 0 0 0.291 83.5 529.2)">A</text>
<text class="r s" transform="matrix(1.25 0 0 0.218 83.5 530.7)">E</text>
<text class="b t" transform="matrix(1.15 0 0 0.109 83.5 531.5)">R</text>
<text class="g t" transform="matrix(1.37 0 0 0.109 83.5 532.2)">T</text>
<text class="b t" transform="matrix(1.15 0 0 0.073 83.5 532.7)">H</text>
</g>
<text transform="translate(89.95,534.3) rotate(-90)" class="pn" text-anchor="end">8</text>
<g transform="rotate(.1 96.3 518.2)">
<text class="b" transform="matrix(1.15 0 0 2.427 92.1 520.3)">R</text>
<text class="b" transform="matrix(1.15 0 0 0.785 92.1 525.7)">K</text>
<text class="g s" transform="matrix(1.07 0 0 0.218 92.1 527.2)">G</text>
<text class="k" transform="matrix(1.15 0 0 0.320 92.1 529.4)">A</text>
<text class="r s" transform="matrix(1.25 0 0 0.218 92.1 530.9)">E</text>
<text class="g t" transform="matrix(1.25 0 0 0.109 92.1 531.7)">Y</text>
<text class="k t" transform="matrix(1.00 0 0 0.153 92.1 532.7)">M</text>
</g>
<text transform="translate(98.63,534.3) rotate(-90)" class="pn" text-anchor="end">9</text>
<g transform="rotate(.1 104.9 518.2)">
<text class="k" transform="matrix(1.37 0 0 0.596 100.7 507.7)">L</text>
<text class="g" transform="matrix(1.25 0 0 0.291 100.7 509.7)">S</text>
<text class="g" transform="matrix(1.07 0 0 0.509 100.7 513.2)">G</text>
<text class="b s" transform="matrix(1.15 0 0 0.189 100.7 514.5)">K</text>
<text class="k" transform="matrix(1.07 0 0 0.581 100.7 518.5)">O</text>
<text class="b" transform="matrix(1.15 0 0 0.349 100.7 520.9)">R</text>
<text class="g" transform="matrix(1.07 0 0 0.334 100.7 523.2)">G</text>
<text class="k s" transform="matrix(1.15 0 0 0.145 100.7 524.2)">A</text>
<text class="r s" transform="matrix(1.25 0 0 0.233 100.7 525.8)">E</text>
<text class="m s" transform="matrix(1.07 0 0 0.203 100.7 527.2)">Q</text>
<text class="m s" transform="matrix(1.15 0 0 0.174 100.7 528.4)">N</text>
<text class="b s" transform="matrix(1.15 0 0 0.189 100.7 529.7)">R</text>
<text class="g t" transform="matrix(1.15 0 0 0.109 100.7 530.4)">C</text>
<text class="m t" transform="matrix(1.07 0 0 0.109 100.7 531.2)">Q</text>
<text class="k t" transform="matrix(0.88 0 0 0.109 100.7 531.9)">W</text>
<text class="r t" transform="matrix(1.15 0 0 0.109 100.7 532.7)">D</text>
</g>
<text transform="translate(107.32,534.3) rotate(-90)" class="pn" text-anchor="end">10</text>
<g transform="rotate(.1 113.5 518.2)">
<text class="g" transform="matrix(1.25 0 0 3.969 109.3 530.9)">S</text>
<text class="m s" transform="matrix(1.07 0 0 0.145 109.3 531.9)">Q</text>
<text class="m s" transform="matrix(1.15 0 0 0.116 109.3 532.7)">N</text>
</g>
<text transform="translate(116,534.3) rotate(-90)" class="pn" text-anchor="end">11</text>
<g transform="rotate(.1 122.2 518.2)">
<text class="k" transform="matrix(1.37 0 0 0.567 118.0 507.5)">L</text>
<text class="g" transform="matrix(1.25 0 0 0.538 118.0 511.2)">Y</text>
<text class="k" transform="matrix(1.25 0 0 0.872 118.0 517.2)">X</text>
<text class="g s" transform="matrix(1.07 0 0 0.276 118.0 519.1)">G</text>
<text class="b s" transform="matrix(1.15 0 0 0.218 118.0 520.6)">R</text>
<text class="r s" transform="matrix(1.25 0 0 0.262 118.0 522.4)">E</text>
<text class="k s" transform="matrix(1.15 0 0 0.174 118.0 523.6)">A</text>
<text class="r" transform="matrix(1.25 0 0 0.291 118.0 525.6)">E</text>
<text class="m s" transform="matrix(1.07 0 0 0.218 118.0 527.1)">Q</text>
<text class="r s" transform="matrix(1.25 0 0 0.189 118.0 528.4)">E</text>
<text class="b s" transform="matrix(1.15 0 0 0.189 118.0 529.7)">K</text>
<text class="m t" transform="matrix(1.07 0 0 0.109 118.0 530.4)">Q</text>
<text class="r t" transform="matrix(1.25 0 0 0.109 118.0 531.2)">E</text>
<text class="b t" transform="matrix(1.15 0 0 0.109 118.0 531.9)">K</text>
<text class="r t" transform="matrix(1.15 0 0 0.109 118.0 532.7)">D</text>
</g>
<text transform="translate(124.68,534.3) rotate(-90)" class="pn" text-anchor="end">12</text>
<g transform="rotate(.1 130.8 518.2)">
<text class="k" transform="matrix(1.25 0 0 0.480 126.6 506.9)">P</text>
<text class="g" transform="matrix(1.07 0 0 0.349 126.6 509.3)">G</text>
<text class="k" transform="matrix(1.07 0 0 0.828 126.6 515.0)">O</text>
<text class="r s" transform="matrix(1.25 0 0 0.247 126.6 516.7)">E</text>
<text class="r" transform="matrix(1.15 0 0 0.480 126.6 520.0)">D</text>
<text class="g s" transform="matrix(1.07 0 0 0.203 126.6 521.4)">G</text>
<text class="b" transform="matrix(1.15 0 0 0.291 126.6 523.4)">K</text>
<text class="m" transform="matrix(1.07 0 0 0.291 126.6 525.4)">Q</text>
<text class="g s" transform="matrix(1.07 0 0 0.189 126.6 526.7)">G</text>
<text class="m s" transform="matrix(1.15 0 0 0.189 126.6 528.0)">N</text>
<text class="r s" transform="matrix(1.15 0 0 0.189 126.6 529.3)">D</text>
<text class="b s" transform="matrix(1.15 0 0 0.174 126.6 530.5)">H</text>
<text class="r t" transform="matrix(1.15 0 0 0.109 126.6 531.2)">D</text>
<text class="b t" transform="matrix(1.15 0 0 0.109 126.6 532.0)">R</text>
<text class="g t" transform="matrix(1.37 0 0 0.102 126.6 532.7)">T</text>
</g>
<text transform="translate(133.37,534.3) rotate(-90)" class="pn" text-anchor="end">13</text>
<g transform="rotate(.1 139.4 518.2)">
<text class="g" transform="matrix(1.25 0 0 0.523 135.2 507.2)">S</text>
<text class="r" transform="matrix(1.25 0 0 0.378 135.2 509.8)">E</text>
<text class="g" transform="matrix(1.07 0 0 0.349 135.2 512.2)">G</text>
<text class="k" transform="matrix(1.15 0 0 0.538 135.2 515.9)">A</text>
<text class="g s" transform="matrix(1.07 0 0 0.218 135.2 517.4)">G</text>
<text class="r" transform="matrix(1.25 0 0 0.291 135.2 519.4)">E</text>
<text class="m s" transform="matrix(1.07 0 0 0.218 135.2 520.9)">Q</text>
<text class="b" transform="matrix(1.15 0 0 0.378 135.2 523.5)">R</text>
<text class="m s" transform="matrix(1.07 0 0 0.218 135.2 525.0)">Q</text>
<text class="g s" transform="matrix(1.25 0 0 0.189 135.2 526.3)">S</text>
<text class="b s" transform="matrix(1.15 0 0 0.189 135.2 527.6)">R</text>
<text class="m s" transform="matrix(1.07 0 0 0.189 135.2 528.9)">Q</text>
<text class="b s" transform="matrix(1.15 0 0 0.189 135.2 530.2)">K</text>
<text class="b t" transform="matrix(1.15 0 0 0.109 135.2 530.9)">H</text>
<text class="g t" transform="matrix(1.25 0 0 0.109 135.2 531.7)">Y</text>
<text class="k t" transform="matrix(1.00 0 0 0.145 135.2 532.7)">M</text>
</g>
<text transform="translate(142.05,534.3) rotate(-90)" class="pn" text-anchor="end">14</text>
<g transform="rotate(.1 148.0 518.2)">
<text class="k" transform="matrix(1.37 0 0 0.334 143.8 505.9)">L</text>
<text class="g" transform="matrix(1.07 0 0 0.334 143.8 508.2)">G</text>
<text class="b s" transform="matrix(1.15 0 0 0.247 143.8 509.9)">R</text>
<text class="k" transform="matrix(1.15 0 0 0.291 143.8 511.9)">A</text>
<text class="k" transform="matrix(1.15 0 0 0.480 143.8 515.2)">A</text>
<text class="r s" transform="matrix(1.25 0 0 0.189 143.8 516.5)">E</text>
<text class="b s" transform="matrix(1.15 0 0 0.218 143.8 518.0)">K</text>
<text class="m s" transform="matrix(1.07 0 0 0.218 143.8 519.5)">Q</text>
<text class="g" transform="matrix(1.25 0 0 0.581 143.8 523.5)">Y</text>
<text class="r s" transform="matrix(1.25 0 0 0.189 143.8 524.8)">E</text>
<text class="m s" transform="matrix(1.07 0 0 0.218 143.8 526.3)">Q</text>
<text class="m s" transform="matrix(1.15 0 0 0.218 143.8 527.8)">N</text>
<text class="b s" transform="matrix(1.15 0 0 0.189 143.8 529.1)">K</text>
<text class="m s" transform="matrix(1.07 0 0 0.189 143.8 530.4)">Q</text>
<text class="m t" transform="matrix(1.15 0 0 0.109 143.8 531.1)">N</text>
<text class="g t" transform="matrix(1.15 0 0 0.109 143.8 531.9)">C</text>
<text class="m t" transform="matrix(1.07 0 0 0.116 143.8 532.7)">Q</text>
</g>
<text transform="translate(150.74,534.3) rotate(-90)" class="pn" text-anchor="end">15</text>
<g transform="rotate(.1 156.6 518.2)">
<text class="g" transform="matrix(1.25 0 0 0.480 152.4 506.9)">S</text>
<text class="k" transform="matrix(1.15 0 0 0.669 152.4 511.5)">A</text>
<text class="g" transform="matrix(1.25 0 0 0.523 152.4 515.1)">Y</text>
<text class="b" transform="matrix(1.15 0 0 0.959 152.4 521.7)">R</text>
<text class="r" transform="matrix(1.25 0 0 0.378 152.4 524.3)">E</text>
<text class="m" transform="matrix(1.07 0 0 0.291 152.4 526.3)">Q</text>
<text class="m s" transform="matrix(1.15 0 0 0.218 152.4 527.8)">N</text>
<text class="m s" transform="matrix(1.15 0 0 0.189 152.4 529.1)">N</text>
<text class="r s" transform="matrix(1.15 0 0 0.189 152.4 530.4)">D</text>
<text class="k t" transform="matrix(0.88 0 0 0.109 152.4 531.1)">W</text>
<text class="r t" transform="matrix(1.15 0 0 0.109 152.4 531.9)">D</text>
<text class="r t" transform="matrix(1.25 0 0 0.116 152.4 532.7)">E</text>
</g>
<text transform="translate(159.42,534.3) rotate(-90)" class="pn" text-anchor="end">16</text>
<g transform="rotate(.1 165.2 518.2)">
<text class="g" transform="matrix(1.25 0 0 0.523 161.0 507.2)">S</text>
<text class="k" transform="matrix(1.15 0 0 0.291 161.0 509.2)">A</text>
<text class="k s" transform="matrix(1.37 0 0 0.218 161.0 510.7)">L</text>
<text class="b" transform="matrix(1.15 0 0 0.480 161.0 514.0)">R</text>
<text class="r s" transform="matrix(1.25 0 0 0.189 161.0 515.3)">E</text>
<text class="b" transform="matrix(1.15 0 0 0.291 161.0 517.3)">K</text>
<text class="k s" transform="matrix(1.15 0 0 0.218 161.0 518.8)">A</text>
<text class="g s" transform="matrix(1.07 0 0 0.218 161.0 520.3)">G</text>
<text class="m s" transform="matrix(1.07 0 0 0.189 161.0 521.6)">Q</text>
<text class="g s" transform="matrix(1.07 0 0 0.189 161.0 522.9)">G</text>
<text class="r s" transform="matrix(1.25 0 0 0.189 161.0 524.2)">E</text>
<text class="b s" transform="matrix(1.15 0 0 0.218 161.0 525.7)">K</text>
<text class="m s" transform="matrix(1.07 0 0 0.218 161.0 527.2)">Q</text>
<text class="b s" transform="matrix(1.15 0 0 0.189 161.0 528.5)">R</text>
<text class="m s" transform="matrix(1.07 0 0 0.189 161.0 529.8)">Q</text>
<text class="m t" transform="matrix(1.15 0 0 0.109 161.0 530.5)">N</text>
<text class="m t" transform="matrix(1.07 0 0 0.109 161.0 531.3)">Q</text>
<text class="r t" transform="matrix(1.25 0 0 0.109 161.0 532.0)">E</text>
<text class="b t" transform="matrix(1.15 0 0 0.094 161.0 532.7)">K</text>
</g>
<text transform="translate(168.11,534.3) rotate(-90)" class="pn" text-anchor="end">17</text>
<g transform="rotate(.1 173.8 518.2)">
<text class="k" transform="matrix(1.37 0 0 0.494 169.6 507.0)">L</text>
<text class="g" transform="matrix(1.07 0 0 0.349 169.6 509.4)">G</text>
<text class="k s" transform="matrix(1.15 0 0 0.262 169.6 511.2)">A</text>
<text class="b" transform="matrix(1.15 0 0 0.654 169.6 515.7)">R</text>
<text class="r s" transform="matrix(1.25 0 0 0.262 169.6 517.5)">E</text>
<text class="k" transform="matrix(1.07 0 0 0.465 169.6 520.7)">O</text>
<text class="g s" transform="matrix(1.07 0 0 0.203 169.6 522.1)">G</text>
<text class="m s" transform="matrix(1.07 0 0 0.203 169.6 523.5)">Q</text>
<text class="g s" transform="matrix(1.07 0 0 0.203 169.6 524.9)">G</text>
<text class="r s" transform="matrix(1.25 0 0 0.174 169.6 526.1)">E</text>
<text class="m s" transform="matrix(1.07 0 0 0.189 169.6 527.4)">Q</text>
<text class="r s" transform="matrix(1.25 0 0 0.189 169.6 528.7)">E</text>
<text class="b s" transform="matrix(1.15 0 0 0.189 169.6 530.0)">R</text>
<text class="b t" transform="matrix(1.15 0 0 0.109 169.6 530.7)">K</text>
<text class="r t" transform="matrix(1.15 0 0 0.109 169.6 531.5)">D</text>
<text class="b t" transform="matrix(1.15 0 0 0.174 169.6 532.7)">R</text>
</g>
<text transform="translate(176.79,534.3) rotate(-90)" class="pn" text-anchor="end">18</text>
<g transform="rotate(.1 182.5 518.2)">
<text class="g" transform="matrix(1.25 0 0 0.451 178.3 506.7)">S</text>
<text class="r" transform="matrix(1.25 0 0 0.320 178.3 508.9)">E</text>
<text class="k" transform="matrix(1.37 0 0 0.349 178.3 511.3)">L</text>
<text class="g s" transform="matrix(1.07 0 0 0.218 178.3 512.8)">G</text>
<text class="b" transform="matrix(1.15 0 0 0.392 178.3 515.5)">K</text>
<text class="k" transform="matrix(1.07 0 0 0.523 178.3 519.1)">O</text>
<text class="b s" transform="matrix(1.15 0 0 0.189 178.3 520.4)">R</text>
<text class="k s" transform="matrix(1.15 0 0 0.203 178.3 521.8)">A</text>
<text class="m s" transform="matrix(1.07 0 0 0.218 178.3 523.3)">Q</text>
<text class="g s" transform="matrix(1.07 0 0 0.174 178.3 524.5)">G</text>
<text class="r s" transform="matrix(1.15 0 0 0.189 178.3 525.8)">D</text>
<text class="b s" transform="matrix(1.15 0 0 0.189 178.3 527.1)">H</text>
<text class="g s" transform="matrix(1.37 0 0 0.189 178.3 528.4)">T</text>
<text class="g s" transform="matrix(1.25 0 0 0.189 178.3 529.7)">S</text>
<text class="g t" transform="matrix(1.37 0 0 0.109 178.3 530.4)">T</text>
<text class="b t" transform="matrix(1.15 0 0 0.109 178.3 531.2)">H</text>
<text class="g t" transform="matrix(1.25 0 0 0.109 178.3 531.9)">Y</text>
<text class="k t" transform="matrix(1.00 0 0 0.109 178.3 532.7)">M</text>
</g>
<text transform="translate(185.47,534.3) rotate(-90)" class="pn" text-anchor="end">19</text>
<g transform="rotate(.1 191.1 518.2)">
<text class="g" transform="matrix(1.25 0 0 0.451 186.9 506.7)">S</text>
<text class="r" transform="matrix(1.25 0 0 0.320 186.9 508.9)">E</text>
<text class="g" transform="matrix(1.07 0 0 0.320 186.9 511.1)">G</text>
<text class="k" transform="matrix(1.37 0 0 0.451 186.9 514.2)">L</text>
<text class="g s" transform="matrix(1.07 0 0 0.218 186.9 515.7)">G</text>
<text class="b" transform="matrix(1.15 0 0 0.334 186.9 518.0)">R</text>
<text class="g s" transform="matrix(1.07 0 0 0.218 186.9 519.5)">G</text>
<text class="r s" transform="matrix(1.25 0 0 0.262 186.9 521.3)">E</text>
<text class="m s" transform="matrix(1.07 0 0 0.189 186.9 522.6)">Q</text>
<text class="b" transform="matrix(1.15 0 0 0.363 186.9 525.1)">K</text>
<text class="m s" transform="matrix(1.07 0 0 0.189 186.9 526.4)">Q</text>
<text class="m s" transform="matrix(1.07 0 0 0.189 186.9 527.7)">Q</text>
<text class="b s" transform="matrix(1.15 0 0 0.189 186.9 529.0)">K</text>
<text class="r s" transform="matrix(1.25 0 0 0.189 186.9 530.3)">E</text>
<text class="k t" transform="matrix(1.00 0 0 0.109 186.9 531.0)">M</text>
<text class="m t" transform="matrix(1.15 0 0 0.109 186.9 531.8)">N</text>
<text class="g t" transform="matrix(1.15 0 0 0.131 186.9 532.7)">C</text>
</g>
<text transform="translate(194.16,534.3) rotate(-90)" class="pn" text-anchor="end">20</text>
<g transform="rotate(.1 199.7 518.2)">
<text class="g" transform="matrix(1.25 0 0 0.451 195.5 506.7)">S</text>
<text class="r" transform="matrix(1.25 0 0 0.320 195.5 508.9)">E</text>
<text class="g" transform="matrix(1.07 0 0 0.291 195.5 510.9)">G</text>
<text class="k" transform="matrix(1.15 0 0 0.392 195.5 513.6)">A</text>
<text class="k" transform="matrix(1.07 0 0 0.465 195.5 516.8)">O</text>
<text class="b" transform="matrix(1.15 0 0 0.320 195.5 519.0)">R</text>
<text class="g s" transform="matrix(1.07 0 0 0.189 195.5 520.3)">G</text>
<text class="r s" transform="matrix(1.25 0 0 0.189 195.5 521.6)">E</text>
<text class="b s" transform="matrix(1.15 0 0 0.233 195.5 523.2)">K</text>
<text class="m s" transform="matrix(1.07 0 0 0.262 195.5 525.0)">Q</text>
<text class="g s" transform="matrix(1.07 0 0 0.218 195.5 526.5)">G</text>
<text class="r s" transform="matrix(1.25 0 0 0.189 195.5 527.8)">E</text>
<text class="b s" transform="matrix(1.15 0 0 0.189 195.5 529.1)">R</text>
<text class="g s" transform="matrix(1.07 0 0 0.189 195.5 530.4)">G</text>
<text class="m t" transform="matrix(1.07 0 0 0.109 195.5 531.1)">Q</text>
<text class="k t" transform="matrix(0.88 0 0 0.109 195.5 531.9)">W</text>
<text class="r t" transform="matrix(1.15 0 0 0.116 195.5 532.7)">D</text>
</g>
<text transform="translate(202.84,534.3) rotate(-90)" class="pn" text-anchor="end">21</text>
<text x="20.1" y="539.4" class="nc" text-anchor="middle">N</text>
<text x="207.9" y="539.1" class="cc" text-anchor="middle">C</text>
<text x="208" y="543.1" class="wl" text-anchor="end">weblogo.berkeley.edu</text>
<g transform="rotate(.1 235.6 518.0)">
<text class="g" transform="matrix(1.25 0 0 0.640 231.4 507.8)">S</text>
<text class="m" transform="matrix(1.15 0 0 0.320 231.4 510.0)">N</text>
<text class="k" transform="matrix(1.15 0 0 0.436 231.4 513.0)">A</text>
<text class="g" transform="matrix(1.07 0 0 0.320 231.4 515.2)">G</text>
<text class="b" transform="matrix(1.15 0 0 0.320 231.4 517.4)">K</text>
<text class="m s" transform="matrix(1.07 0 0 0.218 231.4 518.9)">Q</text>
<text class="k" transform="matrix(1.37 0 0 0.436 231.4 521.9)">L</text>
<text class="b" transform="matrix(1.15 0 0 0.436 231.4 524.9)">R</text>
<text class="m" transform="matrix(1.07 0 0 0.291 231.4 526.9)">Q</text>
<text class="b s" transform="matrix(1.15 0 0 0.189 231.4 528.2)">K</text>
<text class="m s" transform="matrix(1.07 0 0 0.189 231.4 529.5)">Q</text>
<text class="r s" transform="matrix(1.25 0 0 0.131 231.4 530.4)">E</text>
<text class="m t" transform="matrix(1.15 0 0 0.109 231.4 531.2)">N</text>
<text class="m t" transform="matrix(1.07 0 0 0.109 231.4 531.9)">Q</text>
<text class="r t" transform="matrix(1.25 0 0 0.102 231.4 532.6)">E</text>
</g>
<text transform="translate(237.33,535.1) rotate(-90)" class="pn" text-anchor="end">1</text>
<g transform="rotate(.1 244.1 518.0)">
<text class="k" transform="matrix(1.15 0 0 0.640 240.0 507.8)">A</text>
<text class="g" transform="matrix(1.25 0 0 0.436 240.0 510.8)">S</text>
<text class="k" transform="matrix(1.15 0 0 0.320 240.0 513.0)">A</text>
<text class="g s" transform="matrix(1.07 0 0 0.218 240.0 514.5)">G</text>
<text class="r s" transform="matrix(1.25 0 0 0.218 240.0 516.0)">E</text>
<text class="k" transform="matrix(1.37 0 0 0.320 240.0 518.2)">L</text>
<text class="b" transform="matrix(1.15 0 0 0.320 240.0 520.4)">K</text>
<text class="m" transform="matrix(1.07 0 0 0.320 240.0 522.6)">Q</text>
<text class="m s" transform="matrix(1.15 0 0 0.189 240.0 523.9)">N</text>
<text class="r s" transform="matrix(1.15 0 0 0.189 240.0 525.2)">D</text>
<text class="b s" transform="matrix(1.15 0 0 0.189 240.0 526.5)">H</text>
<text class="g s" transform="matrix(1.37 0 0 0.189 240.0 527.8)">T</text>
<text class="g s" transform="matrix(1.25 0 0 0.189 240.0 529.1)">S</text>
<text class="b s" transform="matrix(1.15 0 0 0.189 240.0 530.4)">R</text>
<text class="b t" transform="matrix(1.15 0 0 0.109 240.0 531.1)">K</text>
<text class="r t" transform="matrix(1.15 0 0 0.109 240.0 531.9)">D</text>
<text class="b t" transform="matrix(1.15 0 0 0.102 240.0 532.6)">R</text>
</g>
<text transform="translate(245.95,535.1) rotate(-90)" class="pn" text-anchor="end">2</text>
<g transform="rotate(.1 252.7 518.0)">
<text class="g" transform="matrix(1.25 0 0 0.640 248.5 507.8)">S</text>
<text class="g" transform="matrix(1.07 0 0 0.320 248.5 510.0)">G</text>
<text class="g s" transform="matrix(1.37 0 0 0.145 248.5 511.0)">T</text>
<text class="r" transform="matrix(1.25 0 0 0.538 248.5 514.7)">E</text>
<text class="r" transform="matrix(1.25 0 0 0.320 248.5 516.9)">E</text>
<text class="m" transform="matrix(1.07 0 0 0.320 248.5 519.1)">Q</text>
<text class="g" transform="matrix(1.07 0 0 0.320 248.5 521.3)">G</text>
<text class="b" transform="matrix(1.15 0 0 0.291 248.5 523.3)">K</text>
<text class="b s" transform="matrix(1.15 0 0 0.189 248.5 524.6)">R</text>
<text class="m s" transform="matrix(1.07 0 0 0.189 248.5 525.9)">Q</text>
<text class="b s" transform="matrix(1.15 0 0 0.189 248.5 527.2)">K</text>
<text class="r s" transform="matrix(1.25 0 0 0.189 248.5 528.5)">E</text>
<text class="b s" transform="matrix(1.15 0 0 0.189 248.5 529.8)">K</text>
<text class="g t" transform="matrix(1.37 0 0 0.109 248.5 530.5)">T</text>
<text class="b t" transform="matrix(1.15 0 0 0.109 248.5 531.3)">H</text>
<text class="g t" transform="matrix(1.25 0 0 0.109 248.5 532.0)">Y</text>
<text class="k t" transform="matrix(1.00 0 0 0.080 248.5 532.6)">M</text>
</g>
<text transform="translate(254.57,535.1) rotate(-90)" class="pn" text-anchor="end">3</text>
<g transform="rotate(.1 261.2 518.0)">
<text class="b" transform="matrix(1.15 0 0 0.640 257.1 507.8)">R</text>
<text class="b" transform="matrix(1.15 0 0 0.538 257.1 511.5)">H</text>
<text class="k" transform="matrix(1.07 0 0 0.436 257.1 514.5)">O</text>
<text class="k" transform="matrix(1.00 0 0 0.436 257.1 517.5)">M</text>
<text class="g" transform="matrix(1.07 0 0 0.320 257.1 519.7)">G</text>
<text class="b" transform="matrix(1.15 0 0 0.291 257.1 521.7)">K</text>
<text class="m" transform="matrix(1.07 0 0 0.291 257.1 523.7)">Q</text>
<text class="m s" transform="matrix(1.07 0 0 0.189 257.1 525.0)">Q</text>
<text class="r s" transform="matrix(1.25 0 0 0.189 257.1 526.3)">E</text>
<text class="b s" transform="matrix(1.15 0 0 0.189 257.1 527.6)">R</text>
<text class="g s" transform="matrix(1.07 0 0 0.189 257.1 528.9)">G</text>
<text class="m s" transform="matrix(1.15 0 0 0.189 257.1 530.2)">N</text>
<text class="k t" transform="matrix(1.00 0 0 0.109 257.1 530.9)">M</text>
<text class="m t" transform="matrix(1.15 0 0 0.109 257.1 531.7)">N</text>
<text class="g t" transform="matrix(1.15 0 0 0.131 257.1 532.6)">C</text>
</g>
<text transform="translate(263.19,535.1) rotate(-90)" class="pn" text-anchor="end">4</text>
<g transform="rotate(.1 269.8 518.0)">
<text class="b" transform="matrix(1.15 0 0 0.640 265.6 507.8)">R</text>
<text class="g" transform="matrix(1.07 0 0 0.320 265.6 510.0)">G</text>
<text class="k" transform="matrix(1.15 0 0 0.436 265.6 513.0)">A</text>
<text class="k" transform="matrix(1.37 0 0 0.320 265.6 515.2)">L</text>
<text class="k" transform="matrix(1.07 0 0 0.538 265.6 518.9)">O</text>
<text class="r" transform="matrix(1.25 0 0 0.320 265.6 521.1)">E</text>
<text class="m" transform="matrix(1.07 0 0 0.291 265.6 523.1)">Q</text>
<text class="r s" transform="matrix(1.15 0 0 0.189 265.6 524.4)">D</text>
<text class="b s" transform="matrix(1.15 0 0 0.189 265.6 525.7)">H</text>
<text class="g s" transform="matrix(1.37 0 0 0.189 265.6 527.0)">T</text>
<text class="g s" transform="matrix(1.25 0 0 0.189 265.6 528.3)">S</text>
<text class="b s" transform="matrix(1.15 0 0 0.189 265.6 529.6)">R</text>
<text class="m t" transform="matrix(1.07 0 0 0.109 265.6 530.3)">Q</text>
<text class="k t" transform="matrix(0.88 0 0 0.109 265.6 531.1)">W</text>
<text class="r t" transform="matrix(1.15 0 0 0.109 265.6 531.8)">D</text>
<text class="r t" transform="matrix(1.25 0 0 0.109 265.6 532.6)">E</text>
</g>
<text transform="translate(271.82,535.1) rotate(-90)" class="pn" text-anchor="end">5</text>
<g transform="rotate(.1 278.3 518.0)">
<text class="b" transform="matrix(1.15 0 0 0.640 274.2 507.8)">R</text>
<text class="b" transform="matrix(1.15 0 0 0.436 274.2 510.8)">K</text>
<text class="g" transform="matrix(1.07 0 0 0.291 274.2 512.8)">G</text>
<text class="m s" transform="matrix(1.07 0 0 0.218 274.2 514.3)">Q</text>
<text class="k" transform="matrix(1.15 0 0 0.320 274.2 516.5)">A</text>
<text class="r s" transform="matrix(1.25 0 0 0.218 274.2 518.0)">E</text>
<text class="b" transform="matrix(1.15 0 0 0.320 274.2 520.2)">K</text>
<text class="m" transform="matrix(1.07 0 0 0.291 274.2 522.2)">Q</text>
<text class="m s" transform="matrix(1.07 0 0 0.189 274.2 523.5)">Q</text>
<text class="b s" transform="matrix(1.15 0 0 0.189 274.2 524.8)">K</text>
<text class="r s" transform="matrix(1.25 0 0 0.189 274.2 526.1)">E</text>
<text class="b s" transform="matrix(1.15 0 0 0.189 274.2 527.4)">K</text>
<text class="m s" transform="matrix(1.07 0 0 0.189 274.2 528.7)">Q</text>
<text class="r s" transform="matrix(1.25 0 0 0.189 274.2 530.0)">E</text>
<text class="r t" transform="matrix(1.25 0 0 0.109 274.2 530.7)">E</text>
<text class="m t" transform="matrix(1.15 0 0 0.109 274.2 531.5)">N</text>
<text class="m t" transform="matrix(1.07 0 0 0.160 274.2 532.6)">Q</text>
</g>
<text transform="translate(280.44,535.1) rotate(-90)" class="pn" text-anchor="end">6</text>
<g transform="rotate(.1 286.9 518.0)">
<text class="b" transform="matrix(1.15 0 0 0.436 282.7 506.4)">R</text>
<text class="g" transform="matrix(1.25 0 0 0.640 282.7 510.8)">S</text>
<text class="g s" transform="matrix(1.07 0 0 0.218 282.7 512.3)">G</text>
<text class="k" transform="matrix(1.25 0 0 0.538 282.7 516.0)">V</text>
<text class="b" transform="matrix(1.15 0 0 0.320 282.7 518.2)">K</text>
<text class="r" transform="matrix(1.25 0 0 0.291 282.7 520.2)">E</text>
<text class="m" transform="matrix(1.07 0 0 0.291 282.7 522.2)">Q</text>
<text class="r s" transform="matrix(1.25 0 0 0.189 282.7 523.5)">E</text>
<text class="b s" transform="matrix(1.15 0 0 0.189 282.7 524.8)">R</text>
<text class="g s" transform="matrix(1.07 0 0 0.189 282.7 526.1)">G</text>
<text class="m s" transform="matrix(1.15 0 0 0.189 282.7 527.4)">N</text>
<text class="r s" transform="matrix(1.15 0 0 0.189 282.7 528.7)">D</text>
<text class="b s" transform="matrix(1.15 0 0 0.189 282.7 530.0)">H</text>
<text class="r t" transform="matrix(1.25 0 0 0.109 282.7 530.7)">E</text>
<text class="b t" transform="matrix(1.15 0 0 0.109 282.7 531.5)">K</text>
<text class="r t" transform="matrix(1.15 0 0 0.160 282.7 532.6)">D</text>
</g>
<text transform="translate(289.06,535.1) rotate(-90)" class="pn" text-anchor="end">7</text>
<g transform="rotate(.1 295.4 518.0)">
<text class="b" transform="matrix(1.15 0 0 2.238 291.3 518.8)">R</text>
<text class="b" transform="matrix(1.15 0 0 1.163 291.3 526.8)">K</text>
<text class="g s" transform="matrix(1.07 0 0 0.218 291.3 528.3)">G</text>
<text class="m s" transform="matrix(1.07 0 0 0.218 291.3 529.8)">Q</text>
<text class="b t" transform="matrix(1.15 0 0 0.109 291.3 530.5)">R</text>
<text class="g t" transform="matrix(1.37 0 0 0.109 291.3 531.3)">T</text>
<text class="b t" transform="matrix(1.15 0 0 0.109 291.3 532.0)">H</text>
<text class="g t" transform="matrix(1.25 0 0 0.080 291.3 532.6)">Y</text>
</g>
<text transform="translate(297.68,535.1) rotate(-90)" class="pn" text-anchor="end">8</text>
<g transform="rotate(.1 304.0 518.0)">
<text class="b" transform="matrix(1.15 0 0 2.093 299.8 517.8)">R</text>
<text class="b" transform="matrix(1.15 0 0 1.235 299.8 526.3)">K</text>
<text class="g s" transform="matrix(1.07 0 0 0.262 299.8 528.1)">G</text>
<text class="m s" transform="matrix(1.07 0 0 0.218 299.8 529.6)">Q</text>
<text class="g t" transform="matrix(1.25 0 0 0.109 299.8 530.3)">Y</text>
<text class="k t" transform="matrix(1.00 0 0 0.109 299.8 531.1)">M</text>
<text class="m t" transform="matrix(1.15 0 0 0.109 299.8 531.8)">N</text>
<text class="g t" transform="matrix(1.15 0 0 0.109 299.8 532.6)">C</text>
</g>
<text transform="translate(306.31,535.1) rotate(-90)" class="pn" text-anchor="end">9</text>
<g transform="rotate(.1 312.5 518.0)">
<text class="b s" transform="matrix(1.15 0 0 0.218 308.4 504.9)">R</text>
<text class="g" transform="matrix(1.25 0 0 0.741 308.4 510.0)">S</text>
<text class="g" transform="matrix(1.07 0 0 0.320 308.4 512.2)">G</text>
<text class="k" transform="matrix(1.00 0 0 0.538 311.2 515.9)">I</text>
<text class="k" transform="matrix(1.00 0 0 0.538 308.4 519.6)">M</text>
<text class="m" transform="matrix(1.07 0 0 0.320 308.4 521.8)">Q</text>
<text class="g" transform="matrix(1.07 0 0 0.320 308.4 524.0)">G</text>
<text class="m" transform="matrix(1.07 0 0 0.291 308.4 526.0)">Q</text>
<text class="b s" transform="matrix(1.15 0 0 0.189 308.4 527.3)">R</text>
<text class="g s" transform="matrix(1.07 0 0 0.189 308.4 528.6)">G</text>
<text class="m s" transform="matrix(1.15 0 0 0.189 308.4 529.9)">N</text>
<text class="g t" transform="matrix(1.15 0 0 0.109 308.4 530.7)">C</text>
<text class="m t" transform="matrix(1.07 0 0 0.109 308.4 531.4)">Q</text>
<text class="k t" transform="matrix(0.88 0 0 0.174 308.4 532.6)">W</text>
</g>
<text transform="translate(314.93,535.1) rotate(-90)" class="pn" text-anchor="end">10</text>
<g transform="rotate(.1 321.1 518.0)">
<text class="g" transform="matrix(1.37 0 0 4.244 316.9 532.6)">T</text>
</g>
<text transform="translate(323.55,535.1) rotate(-90)" class="pn" text-anchor="end">11</text>
<g transform="rotate(.1 329.7 518.0)">
<text class="k" transform="matrix(1.37 0 0 0.858 325.5 509.3)">L</text>
<text class="k s" transform="matrix(1.15 0 0 0.218 325.5 510.8)">A</text>
<text class="k" transform="matrix(1.25 0 0 1.279 325.5 519.6)">X</text>
<text class="r" transform="matrix(1.25 0 0 0.320 325.5 521.8)">E</text>
<text class="m" transform="matrix(1.07 0 0 0.320 325.5 524.0)">Q</text>
<text class="g" transform="matrix(1.07 0 0 0.291 325.5 526.0)">G</text>
<text class="m" transform="matrix(1.07 0 0 0.291 325.5 528.0)">Q</text>
<text class="r s" transform="matrix(1.25 0 0 0.189 325.5 529.3)">E</text>
<text class="b s" transform="matrix(1.15 0 0 0.160 325.5 530.4)">K</text>
<text class="m t" transform="matrix(1.07 0 0 0.109 325.5 531.1)">Q</text>
<text class="r t" transform="matrix(1.25 0 0 0.109 325.5 531.9)">E</text>
<text class="b t" transform="matrix(1.15 0 0 0.102 325.5 532.6)">K</text>
</g>
<text transform="translate(332.17,535.1) rotate(-90)" class="pn" text-anchor="end">12</text>
<g transform="rotate(.1 338.2 518.0)">
<text class="k" transform="matrix(1.25 0 0 0.436 334.0 506.4)">P</text>
<text class="g" transform="matrix(1.15 0 0 0.858 334.0 512.3)">C</text>
<text class="g" transform="matrix(1.07 0 0 0.538 334.0 516.0)">G</text>
<text class="k" transform="matrix(1.37 0 0 0.320 334.0 518.2)">L</text>
<text class="r s" transform="matrix(1.25 0 0 0.218 334.0 519.7)">E</text>
<text class="b" transform="matrix(1.15 0 0 0.320 334.0 521.9)">K</text>
<text class="m" transform="matrix(1.07 0 0 0.291 334.0 523.9)">Q</text>
<text class="g s" transform="matrix(1.07 0 0 0.189 334.0 525.2)">G</text>
<text class="m s" transform="matrix(1.15 0 0 0.189 334.0 526.5)">N</text>
<text class="r s" transform="matrix(1.15 0 0 0.189 334.0 527.8)">D</text>
<text class="b s" transform="matrix(1.15 0 0 0.189 334.0 529.1)">H</text>
<text class="g s" transform="matrix(1.37 0 0 0.189 334.0 530.4)">T</text>
<text class="r t" transform="matrix(1.15 0 0 0.109 334.0 531.1)">D</text>
<text class="b t" transform="matrix(1.15 0 0 0.109 334.0 531.9)">R</text>
<text class="g t" transform="matrix(1.37 0 0 0.102 334.0 532.6)">T</text>
</g>
<text transform="translate(340.79,535.1) rotate(-90)" class="pn" text-anchor="end">13</text>
<g transform="rotate(.1 346.8 518.0)">
<text class="g" transform="matrix(1.25 0 0 0.640 342.6 507.8)">S</text>
<text class="g s" transform="matrix(1.07 0 0 0.247 342.6 509.5)">G</text>
<text class="k" transform="matrix(1.07 0 0 0.625 342.6 513.8)">O</text>
<text class="g" transform="matrix(1.07 0 0 0.363 342.6 516.3)">G</text>
<text class="k s" transform="matrix(1.15 0 0 0.247 342.6 518.0)">A</text>
<text class="b" transform="matrix(1.15 0 0 0.363 342.6 520.5)">K</text>
<text class="r s" transform="matrix(1.25 0 0 0.247 342.6 522.2)">E</text>
<text class="m" transform="matrix(1.07 0 0 0.291 342.6 524.2)">Q</text>
<text class="g s" transform="matrix(1.25 0 0 0.189 342.6 525.5)">S</text>
<text class="b s" transform="matrix(1.15 0 0 0.189 342.6 526.8)">R</text>
<text class="m s" transform="matrix(1.07 0 0 0.189 342.6 528.1)">Q</text>
<text class="b s" transform="matrix(1.15 0 0 0.189 342.6 529.4)">K</text>
<text class="r s" transform="matrix(1.25 0 0 0.145 342.6 530.4)">E</text>
<text class="b t" transform="matrix(1.15 0 0 0.109 342.6 531.1)">H</text>
<text class="g t" transform="matrix(1.25 0 0 0.109 342.6 531.9)">Y</text>
<text class="k t" transform="matrix(1.00 0 0 0.102 342.6 532.6)">M</text>
</g>
<text transform="translate(349.42,535.1) rotate(-90)" class="pn" text-anchor="end">14</text>
<g transform="rotate(.1 355.3 518.0)">
<text class="g" transform="matrix(1.37 0 0 0.640 351.1 507.8)">T</text>
<text class="k" transform="matrix(1.25 0 0 0.741 351.1 512.9)">V</text>
<text class="g s" transform="matrix(1.07 0 0 0.247 351.1 514.6)">G</text>
<text class="k" transform="matrix(1.15 0 0 0.494 351.1 518.0)">A</text>
<text class="b" transform="matrix(1.15 0 0 0.363 351.1 520.5)">K</text>
<text class="r s" transform="matrix(1.25 0 0 0.247 351.1 522.2)">E</text>
<text class="m" transform="matrix(1.07 0 0 0.291 351.1 524.2)">Q</text>
<text class="b s" transform="matrix(1.15 0 0 0.189 351.1 525.5)">K</text>
<text class="m s" transform="matrix(1.07 0 0 0.189 351.1 526.8)">Q</text>
<text class="r s" transform="matrix(1.25 0 0 0.189 351.1 528.1)">E</text>
<text class="b s" transform="matrix(1.15 0 0 0.189 351.1 529.4)">R</text>
<text class="g s" transform="matrix(1.07 0 0 0.145 351.1 530.4)">G</text>
<text class="m t" transform="matrix(1.15 0 0 0.109 351.1 531.1)">N</text>
<text class="g t" transform="matrix(1.15 0 0 0.109 351.1 531.9)">C</text>
<text class="m t" transform="matrix(1.07 0 0 0.102 351.1 532.6)">Q</text>
</g>
<text transform="translate(358.04,535.1) rotate(-90)" class="pn" text-anchor="end">15</text>
<g transform="rotate(.1 363.9 518.0)">
<text class="b" transform="matrix(1.15 0 0 0.640 359.7 507.8)">R</text>
<text class="g s" transform="matrix(1.25 0 0 0.247 359.7 509.5)">S</text>
<text class="k" transform="matrix(1.25 0 0 0.494 359.7 512.9)">V</text>
<text class="g s" transform="matrix(1.07 0 0 0.247 359.7 514.6)">G</text>
<text class="r s" transform="matrix(1.25 0 0 0.247 359.7 516.3)">E</text>
<text class="k" transform="matrix(1.07 0 0 0.494 359.7 519.7)">O</text>
<text class="b" transform="matrix(1.15 0 0 0.363 359.7 522.2)">K</text>
<text class="m" transform="matrix(1.07 0 0 0.291 359.7 524.2)">Q</text>
<text class="m s" transform="matrix(1.15 0 0 0.189 359.7 525.5)">N</text>
<text class="r s" transform="matrix(1.15 0 0 0.189 359.7 526.8)">D</text>
<text class="b s" transform="matrix(1.15 0 0 0.189 359.7 528.1)">H</text>
<text class="g s" transform="matrix(1.37 0 0 0.189 359.7 529.4)">T</text>
<text class="g s" transform="matrix(1.25 0 0 0.145 359.7 530.4)">S</text>
<text class="k t" transform="matrix(0.88 0 0 0.109 359.7 531.1)">W</text>
<text class="r t" transform="matrix(1.15 0 0 0.109 359.7 531.9)">D</text>
<text class="r t" transform="matrix(1.25 0 0 0.102 359.7 532.6)">E</text>
</g>
<text transform="translate(366.66,535.1) rotate(-90)" class="pn" text-anchor="end">16</text>
<g transform="rotate(.1 372.4 518.0)">
<text class="b" transform="matrix(1.15 0 0 0.640 368.2 507.8)">K</text>
<text class="m" transform="matrix(1.15 0 0 0.363 368.2 510.3)">N</text>
<text class="g" transform="matrix(1.07 0 0 0.363 368.2 512.8)">G</text>
<text class="r s" transform="matrix(1.25 0 0 0.247 368.2 514.5)">E</text>
<text class="k" transform="matrix(1.15 0 0 0.363 368.2 517.0)">A</text>
<text class="k" transform="matrix(1.25 0 0 0.363 368.2 519.5)">X</text>
<text class="b" transform="matrix(1.15 0 0 0.363 368.2 522.0)">R</text>
<text class="m" transform="matrix(1.07 0 0 0.291 368.2 524.0)">Q</text>
<text class="b s" transform="matrix(1.15 0 0 0.189 368.2 525.3)">R</text>
<text class="m s" transform="matrix(1.07 0 0 0.189 368.2 526.6)">Q</text>
<text class="b s" transform="matrix(1.15 0 0 0.189 368.2 527.9)">K</text>
<text class="r s" transform="matrix(1.25 0 0 0.189 368.2 529.2)">E</text>
<text class="b s" transform="matrix(1.15 0 0 0.174 368.2 530.4)">K</text>
<text class="m t" transform="matrix(1.15 0 0 0.109 368.2 531.1)">N</text>
<text class="m t" transform="matrix(1.07 0 0 0.109 368.2 531.9)">Q</text>
<text class="r t" transform="matrix(1.25 0 0 0.102 368.2 532.6)">E</text>
</g>
<text transform="translate(375.28,535.1) rotate(-90)" class="pn" text-anchor="end">17</text>
<g transform="rotate(.1 381.0 518.0)">
<text class="g" transform="matrix(1.25 0 0 0.640 376.8 507.8)">Y</text>
<text class="b" transform="matrix(1.15 0 0 0.363 376.8 510.3)">K</text>
<text class="g" transform="matrix(1.25 0 0 0.363 376.8 512.8)">S</text>
<text class="k" transform="matrix(1.07 0 0 0.625 376.8 517.1)">O</text>
<text class="g" transform="matrix(1.07 0 0 0.494 376.8 520.5)">G</text>
<text class="k" transform="matrix(1.25 0 0 0.363 376.8 523.0)">X</text>
<text class="m" transform="matrix(1.07 0 0 0.291 376.8 525.0)">Q</text>
<text class="m s" transform="matrix(1.07 0 0 0.189 376.8 526.3)">Q</text>
<text class="r s" transform="matrix(1.25 0 0 0.189 376.8 527.6)">E</text>
<text class="b s" transform="matrix(1.15 0 0 0.189 376.8 528.9)">R</text>
<text class="g s" transform="matrix(1.07 0 0 0.189 376.8 530.2)">G</text>
<text class="b t" transform="matrix(1.15 0 0 0.109 376.8 530.9)">K</text>
<text class="r t" transform="matrix(1.15 0 0 0.109 376.8 531.7)">D</text>
<text class="b t" transform="matrix(1.15 0 0 0.131 376.8 532.6)">R</text>
</g>
<text transform="translate(383.91,535.1) rotate(-90)" class="pn" text-anchor="end">18</text>
<g transform="rotate(.1 389.5 518.0)">
<text class="k" transform="matrix(1.00 0 0 0.509 388.1 506.9)">I</text>
<text class="g" transform="matrix(1.25 0 0 0.363 385.3 509.4)">S</text>
<text class="k" transform="matrix(1.15 0 0 0.494 385.3 512.8)">A</text>
<text class="r s" transform="matrix(1.25 0 0 0.247 385.3 514.5)">E</text>
<text class="g" transform="matrix(1.07 0 0 0.363 385.3 517.0)">G</text>
<text class="k" transform="matrix(1.37 0 0 0.363 385.3 519.5)">L</text>
<text class="b" transform="matrix(1.15 0 0 0.363 385.3 522.0)">K</text>
<text class="m" transform="matrix(1.07 0 0 0.291 385.3 524.0)">Q</text>
<text class="r s" transform="matrix(1.15 0 0 0.189 385.3 525.3)">D</text>
<text class="b s" transform="matrix(1.15 0 0 0.189 385.3 526.6)">H</text>
<text class="g s" transform="matrix(1.37 0 0 0.189 385.3 527.9)">T</text>
<text class="g s" transform="matrix(1.25 0 0 0.189 385.3 529.2)">S</text>
<text class="b s" transform="matrix(1.15 0 0 0.174 385.3 530.4)">R</text>
<text class="g t" transform="matrix(1.37 0 0 0.109 385.3 531.1)">T</text>
<text class="b t" transform="matrix(1.15 0 0 0.109 385.3 531.9)">H</text>
<text class="g t" transform="matrix(1.25 0 0 0.102 385.3 532.6)">Y</text>
</g>
<text transform="translate(392.53,535.1) rotate(-90)" class="pn" text-anchor="end">19</text>
<g transform="rotate(.1 398.1 518.0)">
<text class="r" transform="matrix(1.25 0 0 0.363 393.9 505.9)">E</text>
<text class="g" transform="matrix(1.37 0 0 0.494 393.9 509.3)">T</text>
<text class="k" transform="matrix(1.15 0 0 0.625 393.9 513.6)">A</text>
<text class="r s" transform="matrix(1.25 0 0 0.247 393.9 515.3)">E</text>
<text class="k" transform="matrix(1.37 0 0 0.363 393.9 517.8)">L</text>
<text class="g" transform="matrix(1.07 0 0 0.363 393.9 520.3)">G</text>
<text class="b" transform="matrix(1.15 0 0 0.363 393.9 522.8)">K</text>
<text class="m" transform="matrix(1.07 0 0 0.291 393.9 524.8)">Q</text>
<text class="m s" transform="matrix(1.07 0 0 0.189 393.9 526.1)">Q</text>
<text class="b s" transform="matrix(1.15 0 0 0.189 393.9 527.4)">K</text>
<text class="r s" transform="matrix(1.25 0 0 0.189 393.9 528.7)">E</text>
<text class="b s" transform="matrix(1.15 0 0 0.189 393.9 530.0)">K</text>
<text class="k t" transform="matrix(1.00 0 0 0.109 393.9 530.7)">M</text>
<text class="m t" transform="matrix(1.15 0 0 0.109 393.9 531.5)">N</text>
<text class="g t" transform="matrix(1.15 0 0 0.160 393.9 532.6)">C</text>
</g>
<text transform="translate(401.15,535.1) rotate(-90)" class="pn" text-anchor="end">20</text>
<g transform="rotate(.1 406.6 518.0)">
<text class="b" transform="matrix(1.15 0 0 0.640 402.4 507.8)">R</text>
<text class="k" transform="matrix(1.07 0 0 0.494 402.4 511.2)">O</text>
<text class="r" transform="matrix(1.25 0 0 0.363 402.4 513.7)">E</text>
<text class="g s" transform="matrix(1.07 0 0 0.247 402.4 515.4)">G</text>
<text class="k" transform="matrix(1.15 0 0 0.494 402.4 518.8)">A</text>
<text class="b" transform="matrix(1.15 0 0 0.363 402.4 521.3)">K</text>
<text class="r s" transform="matrix(1.25 0 0 0.247 402.4 523.0)">E</text>
<text class="m" transform="matrix(1.07 0 0 0.291 402.4 525.0)">Q</text>
<text class="r s" transform="matrix(1.25 0 0 0.189 402.4 526.3)">E</text>
<text class="b s" transform="matrix(1.15 0 0 0.189 402.4 527.6)">R</text>
<text class="g s" transform="matrix(1.07 0 0 0.189 402.4 528.9)">G</text>
<text class="m s" transform="matrix(1.15 0 0 0.189 402.4 530.2)">N</text>
<text class="m t" transform="matrix(1.07 0 0 0.109 402.4 530.9)">Q</text>
<text class="k t" transform="matrix(0.88 0 0 0.109 402.4 531.7)">W</text>
<text class="r t" transform="matrix(1.15 0 0 0.131 402.4 532.6)">D</text>
</g>
<text transform="translate(409.77,535.1) rotate(-90)" class="pn" text-anchor="end">21</text>
<text x="228.2" y="540.4" class="nc" text-anchor="middle">N</text>
<text x="414.5" y="540.8" class="cc" text-anchor="middle">C</text>
<text x="417.3" y="542.7" class="wl" text-anchor="end">weblogo.berkeley.edu</text>
</svg></body></html>
